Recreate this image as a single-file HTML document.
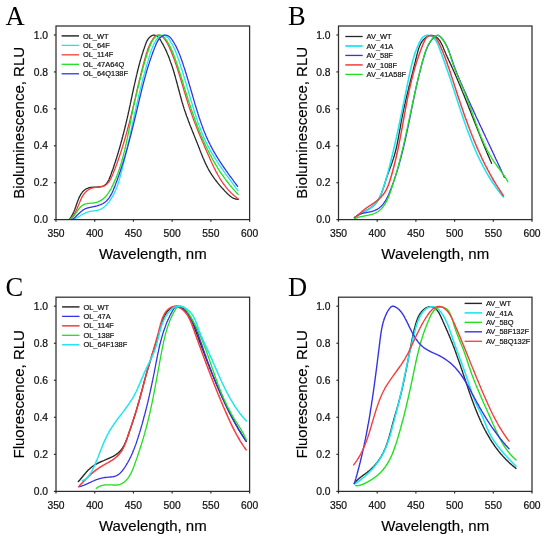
<!DOCTYPE html>
<html><head><meta charset="utf-8"><style>
html,body{margin:0;padding:0;background:#fff;}
svg{display:block;will-change:transform;}
.tk{font-family:"Liberation Sans",sans-serif;font-size:10.3px;fill:#111;stroke:#111;stroke-width:0.22px;}
.ax{font-family:"Liberation Sans",sans-serif;font-size:15px;fill:#000;stroke:#000;stroke-width:0.15px;}
.lg{font-family:"Liberation Sans",sans-serif;font-size:7.45px;fill:#111;stroke:#111;stroke-width:0.2px;}
.lt{font-family:"Liberation Serif",serif;font-size:26.5px;fill:#000;}
</style></head><body>
<svg width="550" height="538" viewBox="0 0 550 538">
<rect width="550" height="538" fill="#fff"/>
<path d="M69.3,219.3 L69.7,218.9 L70.0,218.5 L70.4,218.0 L70.7,217.6 L71.0,217.2 L71.3,216.7 L71.6,216.2 L71.9,215.7 L72.2,215.2 L72.5,214.7 L72.8,214.2 L73.0,213.6 L73.3,213.1 L73.5,212.5 L73.8,212.0 L74.0,211.4 L74.2,210.8 L74.5,210.2 L74.7,209.7 L74.9,209.1 L75.1,208.5 L75.3,207.9 L75.6,207.3 L75.8,206.7 L76.0,206.1 L76.2,205.4 L76.4,204.8 L76.6,204.2 L76.8,203.6 L77.0,203.0 L77.2,202.4 L77.5,201.8 L77.7,201.2 L77.9,200.6 L78.1,200.0 L78.4,199.5 L78.6,198.9 L78.8,198.3 L79.1,197.7 L79.4,197.2 L79.6,196.6 L79.9,196.1 L80.2,195.6 L80.4,195.1 L80.7,194.6 L81.0,194.1 L81.3,193.6 L81.7,193.1 L82.0,192.7 L82.3,192.2 L82.7,191.8 L83.0,191.4 L83.4,191.0 L83.8,190.6 L84.2,190.2 L84.6,189.9 L85.1,189.6 L85.5,189.3 L86.0,189.0 L86.5,188.7 L86.9,188.5 L87.5,188.3 L88.0,188.1 L88.5,187.9 L89.1,187.7 L89.7,187.6 L90.3,187.5 L90.9,187.4 L91.5,187.3 L92.1,187.3 L92.8,187.2 L93.4,187.2 L94.1,187.2 L94.8,187.2 L95.4,187.1 L96.1,187.1 L96.7,187.1 L97.4,187.1 L98.1,187.0 L98.7,187.0 L99.3,186.9 L99.9,186.9 L100.6,186.8 L101.1,186.7 L101.7,186.5 L102.3,186.4 L102.8,186.2 L103.3,186.0 L103.8,185.8 L104.3,185.5 L104.7,185.2 L105.2,184.9 L105.6,184.5 L106.0,184.2 L106.3,183.8 L106.7,183.4 L107.0,182.9 L107.3,182.5 L107.6,182.0 L107.9,181.5 L108.2,181.0 L108.5,180.5 L108.8,180.0 L109.0,179.5 L109.2,178.9 L109.5,178.4 L109.7,177.8 L109.9,177.2 L110.2,176.7 L110.4,176.1 L110.6,175.5 L110.8,174.9 L111.0,174.4 L111.2,173.8 L111.4,173.2 L111.6,172.6 L111.8,172.1 L112.0,171.5 L112.3,170.9 L112.5,170.3 L112.7,169.7 L112.9,169.2 L113.1,168.6 L113.3,168.0 L113.5,167.4 L113.7,166.9 L113.8,166.3 L114.0,165.7 L114.2,165.1 L114.4,164.5 L114.6,164.0 L114.8,163.4 L115.0,162.8 L115.2,162.2 L115.4,161.7 L115.6,161.1 L115.8,160.5 L115.9,159.9 L116.1,159.3 L116.3,158.8 L116.5,158.2 L116.7,157.6 L116.9,157.0 L117.0,156.5 L117.2,155.9 L117.4,155.3 L117.6,154.7 L117.7,154.1 L117.9,153.6 L118.1,153.0 L118.3,152.4 L118.4,151.8 L118.6,151.2 L118.8,150.7 L118.9,150.1 L119.1,149.5 L119.3,148.9 L119.5,148.3 L119.6,147.8 L119.8,147.2 L120.0,146.6 L120.1,146.0 L120.3,145.5 L120.4,144.9 L120.6,144.3 L120.8,143.7 L120.9,143.1 L121.1,142.6 L121.2,142.0 L121.4,141.4 L121.6,140.8 L121.7,140.2 L121.9,139.7 L122.0,139.1 L122.2,138.5 L122.3,137.9 L122.5,137.3 L122.6,136.8 L122.8,136.2 L122.9,135.6 L123.1,135.0 L123.2,134.4 L123.4,133.9 L123.5,133.3 L123.7,132.7 L123.8,132.1 L124.0,131.5 L124.1,130.9 L124.3,130.4 L124.4,129.8 L124.6,129.2 L124.7,128.6 L124.9,128.0 L125.0,127.5 L125.1,126.9 L125.3,126.3 L125.4,125.7 L125.6,125.1 L125.7,124.6 L125.8,124.0 L126.0,123.4 L126.1,122.8 L126.2,122.2 L126.4,121.6 L126.5,121.1 L126.7,120.5 L126.8,119.9 L126.9,119.3 L127.1,118.7 L127.2,118.2 L127.3,117.6 L127.5,117.0 L127.6,116.4 L127.7,115.8 L127.9,115.2 L128.0,114.7 L128.1,114.1 L128.3,113.5 L128.4,112.9 L128.5,112.3 L128.6,111.7 L128.8,111.2 L128.9,110.6 L129.0,110.0 L129.2,109.4 L129.3,108.8 L129.4,108.2 L129.5,107.7 L129.7,107.1 L129.8,106.5 L129.9,105.9 L130.0,105.3 L130.2,104.7 L130.3,104.2 L130.4,103.6 L130.5,103.0 L130.7,102.4 L130.8,101.8 L130.9,101.2 L131.0,100.6 L131.2,100.1 L131.3,99.5 L131.4,98.9 L131.5,98.3 L131.6,97.7 L131.8,97.1 L131.9,96.6 L132.0,96.0 L132.1,95.4 L132.3,94.8 L132.4,94.2 L132.5,93.6 L132.6,93.0 L132.8,92.5 L132.9,91.9 L133.0,91.3 L133.1,90.7 L133.3,90.1 L133.4,89.5 L133.5,89.0 L133.6,88.4 L133.8,87.8 L133.9,87.2 L134.0,86.6 L134.1,86.0 L134.3,85.4 L134.4,84.9 L134.5,84.3 L134.7,83.7 L134.8,83.1 L134.9,82.5 L135.0,81.9 L135.2,81.4 L135.3,80.8 L135.4,80.2 L135.6,79.6 L135.7,79.0 L135.8,78.4 L136.0,77.9 L136.1,77.3 L136.2,76.7 L136.4,76.1 L136.5,75.5 L136.7,74.9 L136.8,74.4 L136.9,73.8 L137.1,73.2 L137.2,72.6 L137.4,72.0 L137.5,71.4 L137.6,70.9 L137.8,70.3 L137.9,69.7 L138.1,69.1 L138.2,68.5 L138.4,67.9 L138.5,67.4 L138.7,66.8 L138.8,66.2 L139.0,65.6 L139.1,65.0 L139.3,64.5 L139.4,63.9 L139.6,63.3 L139.8,62.7 L139.9,62.1 L140.1,61.6 L140.2,61.0 L140.4,60.4 L140.6,59.8 L140.7,59.2 L140.9,58.7 L141.1,58.1 L141.2,57.5 L141.4,56.9 L141.6,56.3 L141.8,55.8 L141.9,55.2 L142.1,54.6 L142.3,54.0 L142.5,53.4 L142.7,52.9 L142.8,52.3 L143.0,51.7 L143.2,51.1 L143.4,50.6 L143.6,50.0 L143.8,49.4 L144.0,48.8 L144.2,48.3 L144.4,47.7 L144.6,47.1 L144.8,46.5 L145.0,46.0 L145.2,45.4 L145.4,44.8 L145.6,44.2 L145.8,43.7 L146.0,43.1 L146.2,42.6 L146.5,42.0 L146.7,41.5 L147.0,40.9 L147.3,40.4 L147.6,39.9 L147.9,39.4 L148.2,38.9 L148.6,38.5 L148.9,38.0 L149.3,37.6 L149.7,37.2 L150.2,36.8 L150.6,36.4 L151.1,36.1 L151.6,35.8 L152.2,35.5 L152.7,35.3 L153.3,35.1 L153.9,35.1 L154.5,35.1 L155.1,35.3 L155.7,35.4 L156.2,35.7 L156.8,36.0 L157.3,36.3 L157.8,36.7 L158.2,37.1 L158.6,37.5 L159.0,37.9 L159.4,38.4 L159.7,38.9 L160.1,39.4 L160.4,39.9 L160.7,40.5 L161.0,41.0 L161.3,41.5 L161.6,42.0 L161.9,42.6 L162.2,43.1 L162.5,43.6 L162.8,44.2 L163.1,44.7 L163.4,45.2 L163.7,45.8 L164.0,46.3 L164.2,46.8 L164.5,47.4 L164.8,47.9 L165.0,48.4 L165.3,49.0 L165.6,49.5 L165.8,50.1 L166.1,50.6 L166.3,51.2 L166.6,51.7 L166.8,52.3 L167.0,52.8 L167.3,53.4 L167.5,53.9 L167.7,54.5 L168.0,55.0 L168.2,55.6 L168.4,56.1 L168.7,56.7 L168.9,57.2 L169.1,57.8 L169.3,58.4 L169.5,58.9 L169.7,59.5 L169.9,60.0 L170.1,60.6 L170.3,61.2 L170.5,61.7 L170.7,62.3 L170.9,62.9 L171.1,63.4 L171.3,64.0 L171.5,64.6 L171.7,65.1 L171.9,65.7 L172.1,66.3 L172.3,66.8 L172.5,67.4 L172.6,68.0 L172.8,68.5 L173.0,69.1 L173.2,69.7 L173.4,70.3 L173.5,70.8 L173.7,71.4 L173.9,72.0 L174.0,72.6 L174.2,73.1 L174.4,73.7 L174.5,74.3 L174.7,74.9 L174.9,75.4 L175.0,76.0 L175.2,76.6 L175.4,77.2 L175.5,77.7 L175.7,78.3 L175.8,78.9 L176.0,79.5 L176.2,80.1 L176.3,80.6 L176.5,81.2 L176.6,81.8 L176.8,82.4 L176.9,83.0 L177.1,83.5 L177.3,84.1 L177.4,84.7 L177.6,85.3 L177.7,85.9 L177.9,86.4 L178.0,87.0 L178.2,87.6 L178.3,88.2 L178.5,88.8 L178.6,89.3 L178.8,89.9 L178.9,90.5 L179.1,91.1 L179.3,91.7 L179.4,92.2 L179.6,92.8 L179.7,93.4 L179.9,94.0 L180.0,94.6 L180.2,95.1 L180.3,95.7 L180.5,96.3 L180.7,96.9 L180.8,97.5 L181.0,98.0 L181.1,98.6 L181.3,99.2 L181.5,99.8 L181.6,100.4 L181.8,100.9 L182.0,101.5 L182.1,102.1 L182.3,102.7 L182.5,103.2 L182.6,103.8 L182.8,104.4 L183.0,105.0 L183.2,105.5 L183.3,106.1 L183.5,106.7 L183.7,107.2 L183.9,107.8 L184.0,108.4 L184.2,109.0 L184.4,109.5 L184.6,110.1 L184.8,110.7 L185.0,111.2 L185.2,111.8 L185.4,112.4 L185.6,112.9 L185.8,113.5 L185.9,114.1 L186.1,114.6 L186.3,115.2 L186.5,115.8 L186.8,116.3 L187.0,116.9 L187.2,117.4 L187.4,118.0 L187.6,118.6 L187.8,119.1 L188.0,119.7 L188.2,120.3 L188.4,120.8 L188.6,121.4 L188.8,121.9 L189.1,122.5 L189.3,123.1 L189.5,123.6 L189.7,124.2 L189.9,124.7 L190.1,125.3 L190.4,125.8 L190.6,126.4 L190.8,127.0 L191.0,127.5 L191.2,128.1 L191.5,128.6 L191.7,129.2 L191.9,129.7 L192.1,130.3 L192.4,130.9 L192.6,131.4 L192.8,132.0 L193.0,132.5 L193.2,133.1 L193.5,133.6 L193.7,134.2 L193.9,134.8 L194.1,135.3 L194.4,135.9 L194.6,136.4 L194.8,137.0 L195.0,137.5 L195.3,138.1 L195.5,138.7 L195.7,139.2 L195.9,139.8 L196.2,140.3 L196.4,140.9 L196.6,141.4 L196.8,142.0 L197.1,142.6 L197.3,143.1 L197.5,143.7 L197.7,144.2 L197.9,144.8 L198.2,145.4 L198.4,145.9 L198.6,146.5 L198.8,147.0 L199.0,147.6 L199.2,148.2 L199.5,148.7 L199.7,149.3 L199.9,149.9 L200.1,150.4 L200.3,151.0 L200.5,151.5 L200.8,152.1 L201.0,152.7 L201.2,153.2 L201.4,153.8 L201.6,154.3 L201.9,154.9 L202.1,155.4 L202.3,156.0 L202.5,156.6 L202.8,157.1 L203.0,157.7 L203.2,158.2 L203.5,158.8 L203.7,159.3 L203.9,159.9 L204.2,160.4 L204.4,161.0 L204.7,161.5 L204.9,162.1 L205.1,162.6 L205.4,163.2 L205.6,163.7 L205.9,164.2 L206.2,164.8 L206.4,165.3 L206.7,165.8 L207.0,166.4 L207.2,166.9 L207.5,167.4 L207.8,168.0 L208.1,168.5 L208.3,169.0 L208.6,169.5 L208.9,170.1 L209.2,170.6 L209.5,171.1 L209.8,171.6 L210.1,172.1 L210.4,172.6 L210.7,173.1 L211.1,173.6 L211.4,174.1 L211.7,174.6 L212.0,175.1 L212.4,175.6 L212.7,176.1 L213.0,176.6 L213.4,177.1 L213.7,177.6 L214.1,178.1 L214.4,178.6 L214.8,179.1 L215.1,179.6 L215.5,180.0 L215.9,180.5 L216.2,181.0 L216.6,181.5 L217.0,181.9 L217.3,182.4 L217.7,182.9 L218.1,183.4 L218.5,183.8 L218.9,184.3 L219.3,184.8 L219.6,185.2 L220.0,185.7 L220.4,186.1 L220.8,186.6 L221.2,187.0 L221.6,187.5 L222.0,187.9 L222.4,188.4 L222.8,188.8 L223.3,189.3 L223.7,189.7 L224.1,190.2 L224.5,190.6 L224.9,191.1 L225.3,191.5 L225.8,191.9 L226.2,192.4 L226.6,192.8 L227.0,193.3 L227.5,193.7 L227.9,194.1 L228.3,194.5 L228.8,194.9 L229.2,195.3 L229.7,195.7 L230.1,196.1 L230.6,196.5 L231.1,196.8 L231.6,197.2 L232.1,197.5 L232.6,197.8 L233.1,198.1 L233.6,198.3 L234.1,198.5 L234.7,198.7 L235.3,198.9 L235.8,199.1 L236.4,199.2 L237.0,199.3 L237.7,199.3 L238.3,199.3" fill="none" stroke="#262626" stroke-width="1.30" stroke-linejoin="round" stroke-linecap="round"/>
<path d="M72.9,219.5 L73.5,219.3 L74.0,219.1 L74.6,218.8 L75.1,218.6 L75.7,218.3 L76.2,218.0 L76.8,217.8 L77.3,217.5 L77.8,217.2 L78.3,216.9 L78.9,216.6 L79.4,216.3 L79.9,216.0 L80.4,215.7 L80.9,215.3 L81.4,215.0 L81.9,214.7 L82.5,214.4 L83.0,214.2 L83.5,213.9 L84.0,213.6 L84.5,213.3 L85.1,213.1 L85.6,212.8 L86.1,212.6 L86.7,212.4 L87.2,212.1 L87.8,212.0 L88.4,211.8 L88.9,211.6 L89.5,211.5 L90.1,211.4 L90.7,211.3 L91.3,211.2 L91.9,211.1 L92.6,211.0 L93.2,210.9 L93.8,210.8 L94.4,210.8 L95.0,210.7 L95.6,210.6 L96.2,210.5 L96.8,210.4 L97.4,210.3 L98.0,210.1 L98.6,210.0 L99.1,209.8 L99.7,209.6 L100.2,209.4 L100.8,209.1 L101.3,208.8 L101.8,208.6 L102.3,208.3 L102.8,207.9 L103.3,207.6 L103.8,207.2 L104.2,206.9 L104.7,206.5 L105.1,206.1 L105.6,205.7 L106.0,205.3 L106.4,204.8 L106.8,204.4 L107.2,204.0 L107.6,203.5 L108.0,203.0 L108.4,202.6 L108.8,202.1 L109.1,201.6 L109.5,201.2 L109.8,200.7 L110.2,200.2 L110.5,199.7 L110.8,199.2 L111.2,198.7 L111.5,198.2 L111.8,197.7 L112.1,197.2 L112.4,196.7 L112.7,196.2 L113.0,195.7 L113.3,195.1 L113.5,194.6 L113.8,194.1 L114.1,193.6 L114.3,193.0 L114.6,192.5 L114.8,192.0 L115.1,191.4 L115.3,190.9 L115.6,190.3 L115.8,189.8 L116.0,189.2 L116.2,188.7 L116.4,188.1 L116.7,187.5 L116.9,187.0 L117.1,186.4 L117.3,185.9 L117.5,185.3 L117.7,184.7 L117.9,184.2 L118.1,183.6 L118.2,183.0 L118.4,182.4 L118.6,181.9 L118.8,181.3 L119.0,180.7 L119.1,180.1 L119.3,179.5 L119.5,179.0 L119.7,178.4 L119.8,177.8 L120.0,177.2 L120.1,176.6 L120.3,176.0 L120.5,175.5 L120.6,174.9 L120.8,174.3 L120.9,173.7 L121.1,173.1 L121.3,172.5 L121.4,172.0 L121.6,171.4 L121.7,170.8 L121.9,170.2 L122.0,169.6 L122.2,169.0 L122.3,168.4 L122.5,167.9 L122.6,167.3 L122.8,166.7 L122.9,166.1 L123.1,165.5 L123.2,164.9 L123.3,164.3 L123.5,163.8 L123.6,163.2 L123.8,162.6 L123.9,162.0 L124.1,161.4 L124.2,160.8 L124.4,160.2 L124.5,159.7 L124.6,159.1 L124.8,158.5 L124.9,157.9 L125.1,157.3 L125.2,156.7 L125.3,156.1 L125.5,155.6 L125.6,155.0 L125.7,154.4 L125.9,153.8 L126.0,153.2 L126.2,152.6 L126.3,152.0 L126.4,151.5 L126.6,150.9 L126.7,150.3 L126.8,149.7 L127.0,149.1 L127.1,148.5 L127.2,147.9 L127.4,147.4 L127.5,146.8 L127.6,146.2 L127.7,145.6 L127.9,145.0 L128.0,144.4 L128.1,143.8 L128.3,143.3 L128.4,142.7 L128.5,142.1 L128.7,141.5 L128.8,140.9 L128.9,140.3 L129.0,139.7 L129.2,139.2 L129.3,138.6 L129.4,138.0 L129.6,137.4 L129.7,136.8 L129.8,136.2 L129.9,135.6 L130.1,135.1 L130.2,134.5 L130.3,133.9 L130.4,133.3 L130.6,132.7 L130.7,132.1 L130.8,131.6 L131.0,131.0 L131.1,130.4 L131.2,129.8 L131.3,129.2 L131.5,128.6 L131.6,128.0 L131.7,127.5 L131.8,126.9 L132.0,126.3 L132.1,125.7 L132.2,125.1 L132.3,124.5 L132.5,123.9 L132.6,123.4 L132.7,122.8 L132.8,122.2 L133.0,121.6 L133.1,121.0 L133.2,120.4 L133.3,119.9 L133.5,119.3 L133.6,118.7 L133.7,118.1 L133.9,117.5 L134.0,116.9 L134.1,116.3 L134.2,115.8 L134.4,115.2 L134.5,114.6 L134.6,114.0 L134.7,113.4 L134.9,112.8 L135.0,112.2 L135.1,111.7 L135.3,111.1 L135.4,110.5 L135.5,109.9 L135.6,109.3 L135.8,108.7 L135.9,108.2 L136.0,107.6 L136.2,107.0 L136.3,106.4 L136.4,105.8 L136.6,105.2 L136.7,104.7 L136.8,104.1 L137.0,103.5 L137.1,102.9 L137.2,102.3 L137.4,101.7 L137.5,101.2 L137.6,100.6 L137.8,100.0 L137.9,99.4 L138.0,98.8 L138.2,98.2 L138.3,97.7 L138.4,97.1 L138.6,96.5 L138.7,95.9 L138.9,95.3 L139.0,94.7 L139.1,94.2 L139.3,93.6 L139.4,93.0 L139.6,92.4 L139.7,91.8 L139.8,91.2 L140.0,90.7 L140.1,90.1 L140.3,89.5 L140.4,88.9 L140.6,88.3 L140.7,87.7 L140.8,87.2 L141.0,86.6 L141.1,86.0 L141.3,85.4 L141.4,84.8 L141.6,84.2 L141.7,83.7 L141.9,83.1 L142.0,82.5 L142.2,81.9 L142.3,81.3 L142.5,80.8 L142.6,80.2 L142.8,79.6 L142.9,79.0 L143.1,78.4 L143.3,77.8 L143.4,77.3 L143.6,76.7 L143.7,76.1 L143.9,75.5 L144.0,74.9 L144.2,74.4 L144.3,73.8 L144.5,73.2 L144.7,72.6 L144.8,72.1 L145.0,71.5 L145.1,70.9 L145.3,70.3 L145.5,69.7 L145.6,69.2 L145.8,68.6 L146.0,68.0 L146.1,67.4 L146.3,66.8 L146.4,66.3 L146.6,65.7 L146.8,65.1 L146.9,64.5 L147.1,64.0 L147.3,63.4 L147.4,62.8 L147.6,62.2 L147.8,61.7 L147.9,61.1 L148.1,60.5 L148.3,59.9 L148.5,59.4 L148.6,58.8 L148.8,58.2 L149.0,57.6 L149.1,57.1 L149.3,56.5 L149.5,55.9 L149.7,55.4 L149.8,54.8 L150.0,54.2 L150.2,53.6 L150.4,53.1 L150.6,52.5 L150.8,51.9 L150.9,51.4 L151.1,50.8 L151.3,50.2 L151.5,49.7 L151.8,49.1 L152.0,48.6 L152.2,48.0 L152.4,47.5 L152.6,46.9 L152.9,46.4 L153.1,45.8 L153.4,45.3 L153.6,44.7 L153.9,44.2 L154.2,43.6 L154.5,43.1 L154.8,42.6 L155.1,42.0 L155.4,41.5 L155.7,41.0 L156.0,40.5 L156.4,39.9 L156.7,39.4 L157.1,38.9 L157.5,38.4 L157.9,37.9 L158.3,37.5 L158.7,37.0 L159.1,36.6 L159.6,36.3 L160.0,35.9 L160.5,35.7 L161.0,35.4 L161.5,35.3 L162.1,35.2 L162.6,35.1 L163.2,35.2 L163.8,35.3 L164.4,35.4 L164.9,35.6 L165.5,35.9 L166.0,36.2 L166.5,36.5 L167.0,36.9 L167.4,37.3 L167.9,37.8 L168.3,38.2 L168.6,38.7 L169.0,39.2 L169.4,39.7 L169.7,40.2 L170.1,40.7 L170.4,41.3 L170.7,41.8 L171.0,42.3 L171.4,42.8 L171.7,43.4 L172.0,43.9 L172.3,44.4 L172.6,45.0 L172.8,45.5 L173.1,46.0 L173.4,46.6 L173.7,47.1 L173.9,47.7 L174.2,48.2 L174.4,48.8 L174.7,49.3 L174.9,49.8 L175.2,50.4 L175.4,50.9 L175.6,51.5 L175.8,52.1 L176.1,52.6 L176.3,53.2 L176.5,53.7 L176.7,54.3 L176.9,54.8 L177.1,55.4 L177.3,56.0 L177.5,56.5 L177.7,57.1 L177.9,57.6 L178.1,58.2 L178.3,58.8 L178.5,59.3 L178.7,59.9 L178.9,60.5 L179.1,61.0 L179.3,61.6 L179.5,62.2 L179.7,62.7 L179.8,63.3 L180.0,63.9 L180.2,64.4 L180.4,65.0 L180.6,65.6 L180.8,66.1 L180.9,66.7 L181.1,67.3 L181.3,67.9 L181.5,68.4 L181.7,69.0 L181.8,69.6 L182.0,70.1 L182.2,70.7 L182.4,71.3 L182.6,71.9 L182.7,72.4 L182.9,73.0 L183.1,73.6 L183.3,74.1 L183.4,74.7 L183.6,75.3 L183.8,75.9 L184.0,76.4 L184.1,77.0 L184.3,77.6 L184.5,78.2 L184.7,78.7 L184.8,79.3 L185.0,79.9 L185.2,80.5 L185.3,81.0 L185.5,81.6 L185.7,82.2 L185.9,82.8 L186.0,83.3 L186.2,83.9 L186.4,84.5 L186.5,85.1 L186.7,85.7 L186.9,86.2 L187.1,86.8 L187.2,87.4 L187.4,88.0 L187.6,88.5 L187.7,89.1 L187.9,89.7 L188.1,90.3 L188.2,90.9 L188.4,91.4 L188.6,92.0 L188.7,92.6 L188.9,93.2 L189.1,93.7 L189.3,94.3 L189.4,94.9 L189.6,95.5 L189.8,96.1 L189.9,96.6 L190.1,97.2 L190.3,97.8 L190.4,98.4 L190.6,99.0 L190.8,99.5 L191.0,100.1 L191.1,100.7 L191.3,101.3 L191.5,101.8 L191.6,102.4 L191.8,103.0 L192.0,103.6 L192.2,104.2 L192.3,104.7 L192.5,105.3 L192.7,105.9 L192.8,106.5 L193.0,107.0 L193.2,107.6 L193.4,108.2 L193.6,108.8 L193.7,109.3 L193.9,109.9 L194.1,110.5 L194.3,111.1 L194.4,111.6 L194.6,112.2 L194.8,112.8 L195.0,113.4 L195.2,113.9 L195.4,114.5 L195.5,115.1 L195.7,115.6 L195.9,116.2 L196.1,116.8 L196.3,117.4 L196.5,117.9 L196.7,118.5 L196.9,119.1 L197.1,119.6 L197.2,120.2 L197.4,120.8 L197.6,121.3 L197.8,121.9 L198.0,122.5 L198.2,123.0 L198.4,123.6 L198.6,124.2 L198.8,124.7 L199.0,125.3 L199.2,125.8 L199.5,126.4 L199.7,127.0 L199.9,127.5 L200.1,128.1 L200.3,128.6 L200.5,129.2 L200.7,129.8 L200.9,130.3 L201.2,130.9 L201.4,131.4 L201.6,132.0 L201.8,132.5 L202.1,133.1 L202.3,133.6 L202.5,134.2 L202.7,134.7 L203.0,135.3 L203.2,135.8 L203.4,136.4 L203.7,136.9 L203.9,137.5 L204.2,138.0 L204.4,138.6 L204.7,139.1 L204.9,139.6 L205.2,140.2 L205.4,140.7 L205.7,141.3 L205.9,141.8 L206.2,142.3 L206.4,142.9 L206.7,143.4 L207.0,143.9 L207.2,144.5 L207.5,145.0 L207.8,145.5 L208.0,146.1 L208.3,146.6 L208.6,147.1 L208.9,147.6 L209.1,148.2 L209.4,148.7 L209.7,149.2 L210.0,149.7 L210.3,150.3 L210.6,150.8 L210.9,151.3 L211.2,151.8 L211.5,152.3 L211.8,152.8 L212.1,153.4 L212.4,153.9 L212.7,154.4 L213.0,154.9 L213.3,155.4 L213.6,155.9 L213.9,156.4 L214.2,156.9 L214.5,157.5 L214.9,158.0 L215.2,158.5 L215.5,159.0 L215.8,159.5 L216.1,160.0 L216.5,160.5 L216.8,161.0 L217.1,161.5 L217.4,162.0 L217.8,162.5 L218.1,163.0 L218.4,163.5 L218.8,164.0 L219.1,164.5 L219.4,165.0 L219.8,165.5 L220.1,166.0 L220.4,166.5 L220.8,167.0 L221.1,167.5 L221.5,168.0 L221.8,168.4 L222.2,168.9 L222.5,169.4 L222.8,169.9 L223.2,170.4 L223.5,170.9 L223.9,171.4 L224.2,171.9 L224.6,172.4 L224.9,172.9 L225.3,173.3 L225.6,173.8 L226.0,174.3 L226.3,174.8 L226.7,175.3 L227.1,175.8 L227.4,176.3 L227.8,176.7 L228.1,177.2 L228.5,177.7 L228.8,178.2 L229.2,178.7 L229.5,179.2 L229.9,179.6 L230.3,180.1 L230.6,180.6 L231.0,181.1 L231.3,181.6 L231.7,182.1 L232.0,182.5 L232.4,183.0 L232.8,183.5 L233.1,184.0 L233.5,184.5 L233.8,184.9 L234.2,185.4 L234.6,185.9 L234.9,186.4 L235.3,186.9 L235.6,187.3 L236.0,187.8 L236.4,188.3 L236.7,188.8 L237.1,189.3 L237.4,189.7 L237.8,190.2 L238.1,190.7" fill="none" stroke="#1ee6f0" stroke-width="1.30" stroke-linejoin="round" stroke-linecap="round"/>
<path d="M69.3,219.3 L69.8,219.0 L70.2,218.6 L70.7,218.2 L71.1,217.9 L71.6,217.4 L72.0,217.0 L72.3,216.6 L72.7,216.1 L73.1,215.7 L73.4,215.2 L73.8,214.7 L74.1,214.2 L74.4,213.7 L74.8,213.2 L75.1,212.7 L75.4,212.1 L75.6,211.6 L75.9,211.1 L76.2,210.5 L76.5,209.9 L76.7,209.4 L77.0,208.8 L77.2,208.2 L77.5,207.7 L77.7,207.1 L77.9,206.5 L78.2,205.9 L78.4,205.4 L78.6,204.8 L78.9,204.2 L79.1,203.6 L79.4,203.0 L79.6,202.5 L79.8,201.9 L80.1,201.3 L80.3,200.7 L80.6,200.2 L80.8,199.6 L81.1,199.1 L81.3,198.5 L81.6,198.0 L81.9,197.4 L82.1,196.9 L82.4,196.4 L82.7,195.9 L83.0,195.4 L83.4,194.9 L83.7,194.4 L84.0,194.0 L84.4,193.5 L84.7,193.1 L85.1,192.6 L85.5,192.2 L85.9,191.8 L86.3,191.4 L86.7,191.1 L87.1,190.7 L87.6,190.4 L88.0,190.0 L88.5,189.7 L89.0,189.4 L89.5,189.2 L90.0,188.9 L90.5,188.7 L91.1,188.4 L91.6,188.2 L92.2,188.1 L92.8,187.9 L93.3,187.7 L93.9,187.6 L94.6,187.5 L95.2,187.4 L95.8,187.3 L96.5,187.3 L97.1,187.2 L97.7,187.2 L98.4,187.1 L99.0,187.0 L99.6,187.0 L100.3,186.9 L100.9,186.8 L101.5,186.7 L102.1,186.6 L102.7,186.4 L103.2,186.3 L103.7,186.1 L104.3,185.9 L104.8,185.6 L105.2,185.3 L105.7,185.0 L106.1,184.7 L106.6,184.4 L107.0,184.0 L107.4,183.6 L107.7,183.2 L108.1,182.8 L108.5,182.4 L108.8,181.9 L109.1,181.5 L109.5,181.0 L109.8,180.5 L110.1,180.0 L110.4,179.5 L110.6,179.0 L110.9,178.4 L111.2,177.9 L111.4,177.4 L111.7,176.8 L112.0,176.2 L112.2,175.7 L112.4,175.1 L112.7,174.5 L112.9,174.0 L113.1,173.4 L113.4,172.8 L113.6,172.2 L113.8,171.7 L114.1,171.1 L114.3,170.5 L114.5,169.9 L114.7,169.4 L115.0,168.8 L115.2,168.2 L115.4,167.6 L115.6,167.1 L115.8,166.5 L116.0,165.9 L116.3,165.3 L116.5,164.8 L116.7,164.2 L116.9,163.6 L117.1,163.0 L117.3,162.5 L117.5,161.9 L117.7,161.3 L117.9,160.7 L118.1,160.2 L118.3,159.6 L118.5,159.0 L118.7,158.4 L118.9,157.9 L119.1,157.3 L119.3,156.7 L119.5,156.1 L119.7,155.6 L119.9,155.0 L120.1,154.4 L120.3,153.8 L120.5,153.3 L120.7,152.7 L120.9,152.1 L121.0,151.5 L121.2,151.0 L121.4,150.4 L121.6,149.8 L121.8,149.2 L122.0,148.7 L122.1,148.1 L122.3,147.5 L122.5,146.9 L122.7,146.4 L122.8,145.8 L123.0,145.2 L123.2,144.6 L123.4,144.0 L123.5,143.5 L123.7,142.9 L123.9,142.3 L124.1,141.7 L124.2,141.2 L124.4,140.6 L124.6,140.0 L124.7,139.4 L124.9,138.9 L125.1,138.3 L125.2,137.7 L125.4,137.1 L125.6,136.6 L125.7,136.0 L125.9,135.4 L126.1,134.8 L126.2,134.3 L126.4,133.7 L126.5,133.1 L126.7,132.5 L126.8,131.9 L127.0,131.4 L127.2,130.8 L127.3,130.2 L127.5,129.6 L127.6,129.1 L127.8,128.5 L127.9,127.9 L128.1,127.3 L128.2,126.8 L128.4,126.2 L128.5,125.6 L128.7,125.0 L128.8,124.4 L129.0,123.9 L129.1,123.3 L129.3,122.7 L129.4,122.1 L129.6,121.6 L129.7,121.0 L129.9,120.4 L130.0,119.8 L130.2,119.2 L130.3,118.7 L130.5,118.1 L130.6,117.5 L130.7,116.9 L130.9,116.3 L131.0,115.8 L131.2,115.2 L131.3,114.6 L131.5,114.0 L131.6,113.5 L131.7,112.9 L131.9,112.3 L132.0,111.7 L132.2,111.1 L132.3,110.6 L132.4,110.0 L132.6,109.4 L132.7,108.8 L132.9,108.2 L133.0,107.7 L133.1,107.1 L133.3,106.5 L133.4,105.9 L133.6,105.3 L133.7,104.8 L133.8,104.2 L134.0,103.6 L134.1,103.0 L134.2,102.4 L134.4,101.8 L134.5,101.3 L134.7,100.7 L134.8,100.1 L134.9,99.5 L135.1,98.9 L135.2,98.4 L135.3,97.8 L135.5,97.2 L135.6,96.6 L135.7,96.0 L135.9,95.4 L136.0,94.9 L136.1,94.3 L136.3,93.7 L136.4,93.1 L136.6,92.5 L136.7,91.9 L136.8,91.4 L137.0,90.8 L137.1,90.2 L137.2,89.6 L137.4,89.0 L137.5,88.4 L137.6,87.9 L137.8,87.3 L137.9,86.7 L138.0,86.1 L138.2,85.5 L138.3,84.9 L138.5,84.3 L138.6,83.8 L138.7,83.2 L138.9,82.6 L139.0,82.0 L139.1,81.4 L139.3,80.8 L139.4,80.2 L139.6,79.7 L139.7,79.1 L139.8,78.5 L140.0,77.9 L140.1,77.3 L140.3,76.7 L140.4,76.2 L140.5,75.6 L140.7,75.0 L140.8,74.4 L141.0,73.8 L141.1,73.2 L141.3,72.7 L141.4,72.1 L141.6,71.5 L141.7,70.9 L141.8,70.3 L142.0,69.7 L142.1,69.2 L142.3,68.6 L142.4,68.0 L142.6,67.4 L142.7,66.8 L142.9,66.2 L143.0,65.7 L143.2,65.1 L143.3,64.5 L143.5,63.9 L143.7,63.4 L143.8,62.8 L144.0,62.2 L144.1,61.6 L144.3,61.0 L144.4,60.5 L144.6,59.9 L144.8,59.3 L144.9,58.7 L145.1,58.2 L145.2,57.6 L145.4,57.0 L145.6,56.4 L145.7,55.9 L145.9,55.3 L146.1,54.7 L146.2,54.1 L146.4,53.6 L146.6,53.0 L146.8,52.4 L147.0,51.9 L147.1,51.3 L147.3,50.7 L147.5,50.2 L147.7,49.6 L147.9,49.1 L148.1,48.5 L148.4,47.9 L148.6,47.4 L148.8,46.8 L149.0,46.3 L149.3,45.7 L149.5,45.2 L149.8,44.6 L150.0,44.1 L150.3,43.5 L150.6,43.0 L150.9,42.4 L151.1,41.9 L151.4,41.4 L151.8,40.8 L152.1,40.3 L152.4,39.8 L152.7,39.2 L153.1,38.7 L153.5,38.2 L153.8,37.7 L154.2,37.3 L154.6,36.8 L155.0,36.4 L155.5,36.1 L155.9,35.8 L156.4,35.5 L156.9,35.3 L157.4,35.2 L158.0,35.1 L158.5,35.1 L159.1,35.2 L159.7,35.4 L160.3,35.6 L160.9,35.8 L161.4,36.1 L161.9,36.4 L162.4,36.8 L162.9,37.2 L163.4,37.6 L163.8,38.1 L164.2,38.6 L164.6,39.0 L165.0,39.5 L165.3,40.1 L165.7,40.6 L166.0,41.1 L166.4,41.6 L166.7,42.1 L167.0,42.7 L167.3,43.2 L167.6,43.7 L167.9,44.2 L168.1,44.8 L168.4,45.3 L168.7,45.8 L168.9,46.4 L169.2,46.9 L169.4,47.5 L169.7,48.0 L169.9,48.6 L170.1,49.1 L170.4,49.6 L170.6,50.2 L170.8,50.7 L171.1,51.3 L171.3,51.8 L171.5,52.4 L171.7,52.9 L172.0,53.5 L172.2,54.0 L172.4,54.6 L172.6,55.2 L172.8,55.7 L173.0,56.3 L173.3,56.8 L173.5,57.4 L173.7,57.9 L173.9,58.5 L174.1,59.1 L174.3,59.6 L174.5,60.2 L174.7,60.7 L174.9,61.3 L175.1,61.9 L175.3,62.4 L175.5,63.0 L175.7,63.6 L175.9,64.1 L176.1,64.7 L176.3,65.3 L176.5,65.8 L176.7,66.4 L176.8,67.0 L177.0,67.5 L177.2,68.1 L177.4,68.7 L177.6,69.2 L177.8,69.8 L178.0,70.4 L178.1,71.0 L178.3,71.5 L178.5,72.1 L178.7,72.7 L178.9,73.2 L179.0,73.8 L179.2,74.4 L179.4,75.0 L179.6,75.5 L179.8,76.1 L179.9,76.7 L180.1,77.3 L180.3,77.8 L180.5,78.4 L180.6,79.0 L180.8,79.6 L181.0,80.1 L181.2,80.7 L181.3,81.3 L181.5,81.9 L181.7,82.5 L181.8,83.0 L182.0,83.6 L182.2,84.2 L182.4,84.8 L182.5,85.3 L182.7,85.9 L182.9,86.5 L183.0,87.1 L183.2,87.6 L183.4,88.2 L183.6,88.8 L183.7,89.4 L183.9,90.0 L184.1,90.5 L184.2,91.1 L184.4,91.7 L184.6,92.3 L184.8,92.8 L184.9,93.4 L185.1,94.0 L185.3,94.6 L185.5,95.1 L185.6,95.7 L185.8,96.3 L186.0,96.9 L186.2,97.4 L186.3,98.0 L186.5,98.6 L186.7,99.2 L186.9,99.7 L187.0,100.3 L187.2,100.9 L187.4,101.5 L187.6,102.0 L187.8,102.6 L187.9,103.2 L188.1,103.8 L188.3,104.3 L188.5,104.9 L188.7,105.5 L188.9,106.0 L189.0,106.6 L189.2,107.2 L189.4,107.7 L189.6,108.3 L189.8,108.9 L190.0,109.4 L190.2,110.0 L190.4,110.6 L190.6,111.1 L190.8,111.7 L191.0,112.3 L191.2,112.8 L191.4,113.4 L191.6,114.0 L191.8,114.5 L192.0,115.1 L192.2,115.7 L192.4,116.2 L192.6,116.8 L192.8,117.3 L193.0,117.9 L193.2,118.5 L193.4,119.0 L193.6,119.6 L193.8,120.1 L194.0,120.7 L194.2,121.3 L194.4,121.8 L194.7,122.4 L194.9,122.9 L195.1,123.5 L195.3,124.0 L195.5,124.6 L195.7,125.2 L196.0,125.7 L196.2,126.3 L196.4,126.8 L196.6,127.4 L196.8,127.9 L197.0,128.5 L197.3,129.0 L197.5,129.6 L197.7,130.1 L197.9,130.7 L198.2,131.3 L198.4,131.8 L198.6,132.4 L198.8,132.9 L199.1,133.5 L199.3,134.0 L199.5,134.6 L199.8,135.1 L200.0,135.7 L200.2,136.2 L200.4,136.8 L200.7,137.3 L200.9,137.9 L201.1,138.4 L201.4,139.0 L201.6,139.5 L201.8,140.1 L202.1,140.6 L202.3,141.2 L202.5,141.7 L202.8,142.3 L203.0,142.8 L203.2,143.4 L203.5,143.9 L203.7,144.5 L204.0,145.0 L204.2,145.6 L204.4,146.1 L204.7,146.7 L204.9,147.2 L205.1,147.8 L205.4,148.3 L205.6,148.9 L205.9,149.4 L206.1,150.0 L206.3,150.5 L206.6,151.1 L206.8,151.6 L207.1,152.2 L207.3,152.7 L207.5,153.3 L207.8,153.8 L208.0,154.4 L208.3,154.9 L208.5,155.5 L208.8,156.0 L209.0,156.6 L209.2,157.1 L209.5,157.7 L209.7,158.3 L210.0,158.8 L210.2,159.4 L210.5,159.9 L210.7,160.5 L211.0,161.0 L211.2,161.5 L211.5,162.1 L211.7,162.6 L212.0,163.2 L212.2,163.7 L212.5,164.3 L212.7,164.8 L213.0,165.4 L213.2,165.9 L213.5,166.5 L213.8,167.0 L214.0,167.5 L214.3,168.1 L214.5,168.6 L214.8,169.2 L215.1,169.7 L215.4,170.2 L215.6,170.8 L215.9,171.3 L216.2,171.8 L216.5,172.3 L216.7,172.9 L217.0,173.4 L217.3,173.9 L217.6,174.4 L217.9,175.0 L218.2,175.5 L218.5,176.0 L218.8,176.5 L219.1,177.0 L219.4,177.5 L219.7,178.1 L220.0,178.6 L220.3,179.1 L220.6,179.6 L221.0,180.1 L221.3,180.6 L221.6,181.1 L221.9,181.6 L222.3,182.1 L222.6,182.6 L222.9,183.0 L223.3,183.5 L223.6,184.0 L224.0,184.5 L224.3,185.0 L224.7,185.4 L225.0,185.9 L225.4,186.4 L225.8,186.9 L226.1,187.3 L226.5,187.8 L226.9,188.2 L227.3,188.7 L227.7,189.2 L228.1,189.6 L228.5,190.1 L228.9,190.5 L229.3,190.9 L229.7,191.4 L230.1,191.8 L230.5,192.2 L230.9,192.7 L231.4,193.1 L231.8,193.5 L232.2,193.9 L232.7,194.3 L233.1,194.7 L233.6,195.2 L234.0,195.6 L234.5,196.0 L235.0,196.3 L235.4,196.7 L235.9,197.1 L236.4,197.5 L236.9,197.9 L237.4,198.3 L237.9,198.6 L238.4,199.0" fill="none" stroke="#f43c3c" stroke-width="1.30" stroke-linejoin="round" stroke-linecap="round"/>
<path d="M69.8,219.4 L70.3,219.1 L70.8,218.8 L71.3,218.4 L71.7,218.1 L72.2,217.7 L72.6,217.3 L73.0,216.8 L73.4,216.4 L73.8,215.9 L74.2,215.5 L74.6,215.0 L75.0,214.5 L75.3,214.0 L75.7,213.5 L76.0,212.9 L76.4,212.4 L76.7,211.9 L77.1,211.4 L77.4,210.9 L77.8,210.4 L78.1,209.9 L78.5,209.4 L78.9,208.9 L79.2,208.4 L79.6,207.9 L80.0,207.5 L80.4,207.0 L80.8,206.6 L81.3,206.2 L81.7,205.8 L82.2,205.5 L82.7,205.2 L83.2,204.9 L83.7,204.6 L84.2,204.4 L84.8,204.1 L85.3,204.0 L85.9,203.8 L86.6,203.7 L87.2,203.6 L87.8,203.5 L88.5,203.4 L89.1,203.4 L89.8,203.3 L90.4,203.2 L91.1,203.2 L91.8,203.1 L92.4,203.1 L93.1,203.0 L93.7,202.9 L94.4,202.8 L95.0,202.7 L95.6,202.6 L96.2,202.4 L96.8,202.3 L97.3,202.1 L97.9,201.9 L98.4,201.7 L99.0,201.4 L99.5,201.2 L100.0,200.9 L100.5,200.6 L101.0,200.4 L101.5,200.1 L101.9,199.7 L102.4,199.4 L102.9,199.1 L103.3,198.7 L103.7,198.3 L104.1,198.0 L104.6,197.6 L105.0,197.2 L105.4,196.8 L105.8,196.3 L106.1,195.9 L106.5,195.5 L106.9,195.0 L107.2,194.6 L107.6,194.1 L107.9,193.6 L108.3,193.1 L108.6,192.7 L108.9,192.2 L109.2,191.7 L109.6,191.2 L109.9,190.6 L110.2,190.1 L110.5,189.6 L110.8,189.1 L111.1,188.5 L111.3,188.0 L111.6,187.5 L111.9,186.9 L112.2,186.4 L112.4,185.9 L112.7,185.3 L113.0,184.8 L113.2,184.2 L113.5,183.7 L113.7,183.1 L114.0,182.6 L114.2,182.0 L114.5,181.5 L114.7,180.9 L115.0,180.4 L115.2,179.8 L115.4,179.3 L115.7,178.7 L115.9,178.2 L116.1,177.6 L116.4,177.1 L116.6,176.5 L116.8,175.9 L117.0,175.4 L117.2,174.8 L117.4,174.3 L117.7,173.7 L117.9,173.1 L118.1,172.6 L118.3,172.0 L118.5,171.5 L118.7,170.9 L118.9,170.3 L119.1,169.8 L119.3,169.2 L119.5,168.6 L119.7,168.1 L119.8,167.5 L120.0,166.9 L120.2,166.4 L120.4,165.8 L120.6,165.2 L120.7,164.7 L120.9,164.1 L121.1,163.5 L121.3,162.9 L121.4,162.4 L121.6,161.8 L121.8,161.2 L121.9,160.6 L122.1,160.1 L122.3,159.5 L122.4,158.9 L122.6,158.3 L122.7,157.8 L122.9,157.2 L123.1,156.6 L123.2,156.0 L123.4,155.5 L123.5,154.9 L123.7,154.3 L123.8,153.7 L124.0,153.1 L124.1,152.6 L124.2,152.0 L124.4,151.4 L124.5,150.8 L124.7,150.2 L124.8,149.7 L124.9,149.1 L125.1,148.5 L125.2,147.9 L125.3,147.3 L125.5,146.7 L125.6,146.2 L125.7,145.6 L125.9,145.0 L126.0,144.4 L126.1,143.8 L126.3,143.2 L126.4,142.6 L126.5,142.1 L126.6,141.5 L126.8,140.9 L126.9,140.3 L127.0,139.7 L127.1,139.1 L127.2,138.5 L127.4,137.9 L127.5,137.4 L127.6,136.8 L127.7,136.2 L127.8,135.6 L128.0,135.0 L128.1,134.4 L128.2,133.8 L128.3,133.2 L128.4,132.6 L128.5,132.1 L128.7,131.5 L128.8,130.9 L128.9,130.3 L129.0,129.7 L129.1,129.1 L129.2,128.5 L129.3,127.9 L129.5,127.3 L129.6,126.7 L129.7,126.1 L129.8,125.6 L129.9,125.0 L130.0,124.4 L130.1,123.8 L130.2,123.2 L130.4,122.6 L130.5,122.0 L130.6,121.4 L130.7,120.8 L130.8,120.2 L130.9,119.6 L131.0,119.1 L131.2,118.5 L131.3,117.9 L131.4,117.3 L131.5,116.7 L131.6,116.1 L131.7,115.5 L131.8,114.9 L132.0,114.3 L132.1,113.7 L132.2,113.1 L132.3,112.6 L132.4,112.0 L132.6,111.4 L132.7,110.8 L132.8,110.2 L132.9,109.6 L133.0,109.0 L133.2,108.4 L133.3,107.8 L133.4,107.2 L133.5,106.7 L133.7,106.1 L133.8,105.5 L133.9,104.9 L134.0,104.3 L134.2,103.7 L134.3,103.1 L134.4,102.5 L134.6,101.9 L134.7,101.4 L134.8,100.8 L135.0,100.2 L135.1,99.6 L135.2,99.0 L135.4,98.4 L135.5,97.8 L135.6,97.3 L135.8,96.7 L135.9,96.1 L136.0,95.5 L136.2,94.9 L136.3,94.3 L136.4,93.7 L136.6,93.2 L136.7,92.6 L136.9,92.0 L137.0,91.4 L137.1,90.8 L137.3,90.2 L137.4,89.6 L137.6,89.1 L137.7,88.5 L137.9,87.9 L138.0,87.3 L138.1,86.7 L138.3,86.2 L138.4,85.6 L138.6,85.0 L138.7,84.4 L138.9,83.8 L139.0,83.2 L139.2,82.7 L139.3,82.1 L139.5,81.5 L139.6,80.9 L139.7,80.3 L139.9,79.8 L140.0,79.2 L140.2,78.6 L140.3,78.0 L140.5,77.4 L140.6,76.9 L140.8,76.3 L140.9,75.7 L141.1,75.1 L141.2,74.6 L141.4,74.0 L141.5,73.4 L141.7,72.8 L141.8,72.2 L142.0,71.7 L142.1,71.1 L142.3,70.5 L142.5,69.9 L142.6,69.4 L142.8,68.8 L142.9,68.2 L143.1,67.6 L143.2,67.1 L143.4,66.5 L143.5,65.9 L143.7,65.3 L143.9,64.8 L144.0,64.2 L144.2,63.6 L144.3,63.1 L144.5,62.5 L144.7,61.9 L144.8,61.3 L145.0,60.8 L145.2,60.2 L145.3,59.6 L145.5,59.0 L145.7,58.5 L145.8,57.9 L146.0,57.3 L146.2,56.7 L146.4,56.2 L146.6,55.6 L146.7,55.0 L146.9,54.5 L147.1,53.9 L147.3,53.3 L147.5,52.7 L147.7,52.2 L147.9,51.6 L148.1,51.0 L148.3,50.4 L148.5,49.9 L148.7,49.3 L148.9,48.7 L149.1,48.2 L149.3,47.6 L149.6,47.0 L149.8,46.4 L150.0,45.9 L150.2,45.3 L150.5,44.7 L150.7,44.1 L150.9,43.6 L151.2,43.0 L151.4,42.5 L151.7,41.9 L152.0,41.4 L152.3,40.9 L152.6,40.3 L152.9,39.8 L153.2,39.3 L153.6,38.9 L154.0,38.4 L154.3,38.0 L154.7,37.6 L155.2,37.1 L155.6,36.8 L156.1,36.4 L156.6,36.1 L157.1,35.8 L157.6,35.5 L158.2,35.3 L158.7,35.2 L159.3,35.1 L159.9,35.1 L160.5,35.2 L161.0,35.4 L161.6,35.6 L162.1,35.9 L162.7,36.2 L163.2,36.5 L163.6,36.9 L164.1,37.3 L164.5,37.7 L164.9,38.2 L165.3,38.7 L165.6,39.2 L166.0,39.7 L166.4,40.2 L166.7,40.7 L167.0,41.2 L167.4,41.7 L167.7,42.2 L168.0,42.8 L168.3,43.3 L168.6,43.8 L168.9,44.4 L169.2,44.9 L169.5,45.4 L169.8,46.0 L170.1,46.5 L170.3,47.0 L170.6,47.6 L170.9,48.1 L171.1,48.6 L171.4,49.2 L171.6,49.7 L171.9,50.3 L172.1,50.8 L172.3,51.4 L172.6,51.9 L172.8,52.5 L173.0,53.0 L173.2,53.6 L173.5,54.2 L173.7,54.7 L173.9,55.3 L174.1,55.8 L174.3,56.4 L174.5,56.9 L174.7,57.5 L174.9,58.1 L175.1,58.6 L175.3,59.2 L175.5,59.8 L175.7,60.3 L175.9,60.9 L176.1,61.5 L176.3,62.0 L176.5,62.6 L176.7,63.2 L176.9,63.7 L177.1,64.3 L177.3,64.9 L177.4,65.4 L177.6,66.0 L177.8,66.6 L178.0,67.1 L178.2,67.7 L178.4,68.3 L178.6,68.8 L178.7,69.4 L178.9,70.0 L179.1,70.5 L179.3,71.1 L179.5,71.7 L179.6,72.3 L179.8,72.8 L180.0,73.4 L180.2,74.0 L180.4,74.5 L180.5,75.1 L180.7,75.7 L180.9,76.3 L181.1,76.8 L181.3,77.4 L181.4,78.0 L181.6,78.6 L181.8,79.1 L182.0,79.7 L182.2,80.3 L182.3,80.8 L182.5,81.4 L182.7,82.0 L182.9,82.6 L183.0,83.1 L183.2,83.7 L183.4,84.3 L183.6,84.9 L183.7,85.4 L183.9,86.0 L184.1,86.6 L184.3,87.2 L184.5,87.7 L184.6,88.3 L184.8,88.9 L185.0,89.5 L185.2,90.0 L185.3,90.6 L185.5,91.2 L185.7,91.8 L185.9,92.3 L186.1,92.9 L186.2,93.5 L186.4,94.0 L186.6,94.6 L186.8,95.2 L187.0,95.8 L187.1,96.3 L187.3,96.9 L187.5,97.5 L187.7,98.1 L187.9,98.6 L188.0,99.2 L188.2,99.8 L188.4,100.4 L188.6,100.9 L188.8,101.5 L189.0,102.1 L189.2,102.6 L189.3,103.2 L189.5,103.8 L189.7,104.4 L189.9,104.9 L190.1,105.5 L190.3,106.1 L190.5,106.6 L190.7,107.2 L190.8,107.8 L191.0,108.4 L191.2,108.9 L191.4,109.5 L191.6,110.1 L191.8,110.6 L192.0,111.2 L192.2,111.8 L192.4,112.3 L192.6,112.9 L192.8,113.5 L193.0,114.1 L193.2,114.6 L193.4,115.2 L193.6,115.8 L193.8,116.3 L194.0,116.9 L194.2,117.5 L194.4,118.0 L194.6,118.6 L194.8,119.1 L195.0,119.7 L195.2,120.3 L195.4,120.8 L195.6,121.4 L195.8,122.0 L196.0,122.5 L196.2,123.1 L196.5,123.7 L196.7,124.2 L196.9,124.8 L197.1,125.3 L197.3,125.9 L197.5,126.5 L197.7,127.0 L198.0,127.6 L198.2,128.1 L198.4,128.7 L198.6,129.3 L198.8,129.8 L199.1,130.4 L199.3,130.9 L199.5,131.5 L199.7,132.0 L200.0,132.6 L200.2,133.1 L200.4,133.7 L200.6,134.2 L200.9,134.8 L201.1,135.4 L201.3,135.9 L201.6,136.5 L201.8,137.0 L202.0,137.6 L202.3,138.1 L202.5,138.7 L202.7,139.2 L203.0,139.7 L203.2,140.3 L203.5,140.8 L203.7,141.4 L204.0,141.9 L204.2,142.5 L204.4,143.0 L204.7,143.6 L204.9,144.1 L205.2,144.6 L205.4,145.2 L205.7,145.7 L206.0,146.3 L206.2,146.8 L206.5,147.3 L206.7,147.9 L207.0,148.4 L207.2,149.0 L207.5,149.5 L207.8,150.0 L208.0,150.6 L208.3,151.1 L208.6,151.6 L208.8,152.2 L209.1,152.7 L209.4,153.2 L209.7,153.8 L209.9,154.3 L210.2,154.8 L210.5,155.3 L210.8,155.9 L211.0,156.4 L211.3,156.9 L211.6,157.4 L211.9,158.0 L212.2,158.5 L212.5,159.0 L212.7,159.5 L213.0,160.1 L213.3,160.6 L213.6,161.1 L213.9,161.6 L214.2,162.1 L214.5,162.6 L214.8,163.2 L215.1,163.7 L215.4,164.2 L215.7,164.7 L216.0,165.2 L216.3,165.7 L216.6,166.2 L217.0,166.7 L217.3,167.2 L217.6,167.8 L217.9,168.3 L218.2,168.8 L218.5,169.3 L218.9,169.8 L219.2,170.3 L219.5,170.8 L219.8,171.3 L220.2,171.8 L220.5,172.3 L220.8,172.8 L221.2,173.3 L221.5,173.8 L221.8,174.3 L222.2,174.7 L222.5,175.2 L222.9,175.7 L223.2,176.2 L223.5,176.7 L223.9,177.2 L224.2,177.7 L224.6,178.2 L225.0,178.7 L225.3,179.1 L225.7,179.6 L226.0,180.1 L226.4,180.6 L226.8,181.1 L227.1,181.5 L227.5,182.0 L227.9,182.5 L228.2,183.0 L228.6,183.4 L229.0,183.9 L229.4,184.4 L229.7,184.9 L230.1,185.3 L230.5,185.8 L230.9,186.3 L231.3,186.7 L231.7,187.2 L232.1,187.7 L232.4,188.1 L232.8,188.6 L233.2,189.0 L233.6,189.5 L234.0,189.9 L234.4,190.4 L234.9,190.9 L235.3,191.3 L235.7,191.8 L236.1,192.2 L236.5,192.7 L236.9,193.1 L237.3,193.6 L237.8,194.0 L238.2,194.4" fill="none" stroke="#1ee01e" stroke-width="1.30" stroke-linejoin="round" stroke-linecap="round"/>
<path d="M72.0,219.5 L72.5,219.2 L73.0,218.9 L73.4,218.5 L73.9,218.2 L74.4,217.8 L74.8,217.4 L75.3,217.0 L75.7,216.6 L76.2,216.2 L76.6,215.8 L77.1,215.3 L77.5,214.9 L77.9,214.5 L78.4,214.0 L78.8,213.6 L79.3,213.2 L79.8,212.8 L80.2,212.3 L80.7,211.9 L81.1,211.5 L81.6,211.2 L82.1,210.8 L82.5,210.4 L83.0,210.1 L83.5,209.8 L84.0,209.5 L84.5,209.2 L85.0,208.9 L85.5,208.7 L86.1,208.5 L86.6,208.3 L87.1,208.1 L87.7,207.9 L88.2,207.8 L88.8,207.6 L89.4,207.5 L89.9,207.4 L90.5,207.3 L91.1,207.2 L91.7,207.0 L92.3,206.9 L92.9,206.8 L93.5,206.7 L94.1,206.6 L94.7,206.4 L95.3,206.3 L95.9,206.1 L96.5,206.0 L97.2,205.8 L97.8,205.6 L98.4,205.4 L99.0,205.2 L99.6,205.0 L100.2,204.8 L100.7,204.6 L101.3,204.3 L101.9,204.0 L102.4,203.8 L103.0,203.5 L103.5,203.2 L104.0,202.9 L104.5,202.5 L104.9,202.2 L105.4,201.8 L105.9,201.5 L106.3,201.1 L106.7,200.7 L107.1,200.3 L107.5,199.8 L107.9,199.4 L108.3,199.0 L108.6,198.5 L109.0,198.1 L109.3,197.6 L109.6,197.1 L109.9,196.6 L110.2,196.2 L110.5,195.7 L110.8,195.2 L111.1,194.6 L111.4,194.1 L111.7,193.6 L111.9,193.1 L112.2,192.5 L112.4,192.0 L112.7,191.4 L112.9,190.9 L113.2,190.3 L113.4,189.8 L113.6,189.2 L113.9,188.7 L114.1,188.1 L114.3,187.6 L114.5,187.0 L114.8,186.4 L115.0,185.9 L115.2,185.3 L115.4,184.7 L115.6,184.2 L115.8,183.6 L116.0,183.0 L116.3,182.5 L116.5,181.9 L116.7,181.3 L116.9,180.8 L117.1,180.2 L117.3,179.6 L117.5,179.1 L117.7,178.5 L117.9,177.9 L118.1,177.4 L118.3,176.8 L118.5,176.2 L118.7,175.7 L118.9,175.1 L119.1,174.5 L119.3,174.0 L119.5,173.4 L119.7,172.8 L119.9,172.2 L120.1,171.7 L120.3,171.1 L120.5,170.5 L120.7,170.0 L120.8,169.4 L121.0,168.8 L121.2,168.2 L121.4,167.7 L121.6,167.1 L121.8,166.5 L122.0,165.9 L122.1,165.4 L122.3,164.8 L122.5,164.2 L122.7,163.7 L122.9,163.1 L123.1,162.5 L123.2,161.9 L123.4,161.4 L123.6,160.8 L123.8,160.2 L123.9,159.6 L124.1,159.1 L124.3,158.5 L124.5,157.9 L124.6,157.3 L124.8,156.8 L125.0,156.2 L125.1,155.6 L125.3,155.0 L125.5,154.4 L125.6,153.9 L125.8,153.3 L126.0,152.7 L126.1,152.1 L126.3,151.6 L126.5,151.0 L126.6,150.4 L126.8,149.8 L127.0,149.2 L127.1,148.7 L127.3,148.1 L127.5,147.5 L127.6,146.9 L127.8,146.4 L127.9,145.8 L128.1,145.2 L128.2,144.6 L128.4,144.0 L128.6,143.5 L128.7,142.9 L128.9,142.3 L129.0,141.7 L129.2,141.1 L129.3,140.6 L129.5,140.0 L129.6,139.4 L129.8,138.8 L129.9,138.2 L130.1,137.7 L130.3,137.1 L130.4,136.5 L130.6,135.9 L130.7,135.3 L130.9,134.7 L131.0,134.2 L131.2,133.6 L131.3,133.0 L131.4,132.4 L131.6,131.8 L131.7,131.3 L131.9,130.7 L132.0,130.1 L132.2,129.5 L132.3,128.9 L132.5,128.3 L132.6,127.8 L132.8,127.2 L132.9,126.6 L133.0,126.0 L133.2,125.4 L133.3,124.9 L133.5,124.3 L133.6,123.7 L133.8,123.1 L133.9,122.5 L134.0,121.9 L134.2,121.4 L134.3,120.8 L134.5,120.2 L134.6,119.6 L134.8,119.0 L134.9,118.4 L135.0,117.9 L135.2,117.3 L135.3,116.7 L135.5,116.1 L135.6,115.5 L135.7,115.0 L135.9,114.4 L136.0,113.8 L136.1,113.2 L136.3,112.6 L136.4,112.0 L136.6,111.5 L136.7,110.9 L136.8,110.3 L137.0,109.7 L137.1,109.1 L137.3,108.5 L137.4,108.0 L137.5,107.4 L137.7,106.8 L137.8,106.2 L137.9,105.6 L138.1,105.0 L138.2,104.5 L138.4,103.9 L138.5,103.3 L138.6,102.7 L138.8,102.1 L138.9,101.6 L139.0,101.0 L139.2,100.4 L139.3,99.8 L139.5,99.2 L139.6,98.6 L139.7,98.1 L139.9,97.5 L140.0,96.9 L140.2,96.3 L140.3,95.7 L140.4,95.2 L140.6,94.6 L140.7,94.0 L140.9,93.4 L141.0,92.8 L141.1,92.2 L141.3,91.7 L141.4,91.1 L141.6,90.5 L141.7,89.9 L141.9,89.3 L142.0,88.8 L142.1,88.2 L142.3,87.6 L142.4,87.0 L142.6,86.4 L142.7,85.9 L142.9,85.3 L143.0,84.7 L143.2,84.1 L143.3,83.5 L143.5,83.0 L143.6,82.4 L143.8,81.8 L143.9,81.2 L144.1,80.7 L144.2,80.1 L144.4,79.5 L144.5,78.9 L144.7,78.3 L144.9,77.8 L145.0,77.2 L145.2,76.6 L145.3,76.0 L145.5,75.5 L145.7,74.9 L145.8,74.3 L146.0,73.7 L146.1,73.1 L146.3,72.6 L146.5,72.0 L146.6,71.4 L146.8,70.8 L147.0,70.3 L147.1,69.7 L147.3,69.1 L147.5,68.5 L147.7,68.0 L147.8,67.4 L148.0,66.8 L148.2,66.2 L148.4,65.7 L148.5,65.1 L148.7,64.5 L148.9,64.0 L149.1,63.4 L149.3,62.8 L149.5,62.2 L149.6,61.7 L149.8,61.1 L150.0,60.5 L150.2,60.0 L150.4,59.4 L150.6,58.8 L150.8,58.2 L151.0,57.7 L151.2,57.1 L151.4,56.5 L151.6,56.0 L151.8,55.4 L152.0,54.8 L152.2,54.3 L152.4,53.7 L152.6,53.1 L152.8,52.6 L153.0,52.0 L153.2,51.4 L153.5,50.9 L153.7,50.3 L153.9,49.7 L154.1,49.2 L154.3,48.6 L154.5,48.0 L154.8,47.5 L155.0,46.9 L155.2,46.3 L155.5,45.8 L155.7,45.2 L155.9,44.6 L156.2,44.1 L156.4,43.5 L156.7,43.0 L156.9,42.4 L157.2,41.9 L157.5,41.4 L157.8,40.9 L158.1,40.4 L158.4,39.9 L158.7,39.4 L159.1,38.9 L159.5,38.5 L159.8,38.1 L160.3,37.6 L160.7,37.2 L161.1,36.9 L161.6,36.5 L162.1,36.2 L162.7,35.9 L163.2,35.6 L163.8,35.4 L164.4,35.2 L164.9,35.2 L165.5,35.1 L166.1,35.2 L166.7,35.3 L167.3,35.5 L167.8,35.7 L168.3,36.0 L168.8,36.3 L169.3,36.6 L169.8,37.0 L170.2,37.4 L170.6,37.9 L171.0,38.3 L171.4,38.8 L171.8,39.3 L172.1,39.8 L172.5,40.3 L172.8,40.9 L173.1,41.4 L173.5,41.9 L173.8,42.4 L174.1,43.0 L174.4,43.5 L174.7,44.0 L175.0,44.5 L175.3,45.1 L175.6,45.6 L175.9,46.1 L176.1,46.7 L176.4,47.2 L176.7,47.8 L176.9,48.3 L177.2,48.8 L177.4,49.4 L177.7,49.9 L177.9,50.5 L178.2,51.0 L178.4,51.6 L178.7,52.1 L178.9,52.7 L179.1,53.2 L179.3,53.8 L179.6,54.3 L179.8,54.9 L180.0,55.5 L180.2,56.0 L180.4,56.6 L180.6,57.1 L180.8,57.7 L181.0,58.2 L181.2,58.8 L181.4,59.4 L181.6,59.9 L181.8,60.5 L182.0,61.1 L182.2,61.6 L182.4,62.2 L182.6,62.8 L182.8,63.3 L183.0,63.9 L183.2,64.5 L183.3,65.0 L183.5,65.6 L183.7,66.2 L183.9,66.7 L184.1,67.3 L184.3,67.9 L184.5,68.4 L184.6,69.0 L184.8,69.6 L185.0,70.1 L185.2,70.7 L185.4,71.3 L185.5,71.9 L185.7,72.4 L185.9,73.0 L186.1,73.6 L186.3,74.1 L186.4,74.7 L186.6,75.3 L186.8,75.9 L187.0,76.4 L187.1,77.0 L187.3,77.6 L187.5,78.2 L187.6,78.7 L187.8,79.3 L188.0,79.9 L188.2,80.5 L188.3,81.0 L188.5,81.6 L188.7,82.2 L188.8,82.8 L189.0,83.4 L189.2,83.9 L189.3,84.5 L189.5,85.1 L189.7,85.7 L189.9,86.2 L190.0,86.8 L190.2,87.4 L190.4,88.0 L190.5,88.5 L190.7,89.1 L190.9,89.7 L191.0,90.3 L191.2,90.9 L191.4,91.4 L191.5,92.0 L191.7,92.6 L191.9,93.2 L192.0,93.8 L192.2,94.3 L192.4,94.9 L192.5,95.5 L192.7,96.1 L192.9,96.6 L193.0,97.2 L193.2,97.8 L193.4,98.4 L193.5,99.0 L193.7,99.5 L193.9,100.1 L194.0,100.7 L194.2,101.3 L194.4,101.9 L194.5,102.4 L194.7,103.0 L194.9,103.6 L195.0,104.2 L195.2,104.7 L195.4,105.3 L195.6,105.9 L195.7,106.5 L195.9,107.0 L196.1,107.6 L196.3,108.2 L196.4,108.8 L196.6,109.3 L196.8,109.9 L197.0,110.5 L197.1,111.1 L197.3,111.6 L197.5,112.2 L197.7,112.8 L197.9,113.4 L198.0,113.9 L198.2,114.5 L198.4,115.1 L198.6,115.7 L198.8,116.2 L199.0,116.8 L199.1,117.4 L199.3,117.9 L199.5,118.5 L199.7,119.1 L199.9,119.6 L200.1,120.2 L200.3,120.8 L200.5,121.3 L200.7,121.9 L200.9,122.5 L201.1,123.0 L201.3,123.6 L201.5,124.2 L201.7,124.7 L201.9,125.3 L202.1,125.8 L202.3,126.4 L202.5,127.0 L202.7,127.5 L202.9,128.1 L203.1,128.6 L203.3,129.2 L203.5,129.8 L203.8,130.3 L204.0,130.9 L204.2,131.4 L204.4,132.0 L204.6,132.5 L204.9,133.1 L205.1,133.6 L205.3,134.2 L205.6,134.7 L205.8,135.3 L206.0,135.8 L206.3,136.4 L206.5,136.9 L206.7,137.5 L207.0,138.0 L207.2,138.6 L207.5,139.1 L207.7,139.6 L208.0,140.2 L208.2,140.7 L208.5,141.3 L208.7,141.8 L209.0,142.3 L209.2,142.9 L209.5,143.4 L209.8,143.9 L210.0,144.5 L210.3,145.0 L210.6,145.5 L210.8,146.1 L211.1,146.6 L211.4,147.1 L211.7,147.6 L211.9,148.2 L212.2,148.7 L212.5,149.2 L212.8,149.7 L213.1,150.3 L213.4,150.8 L213.7,151.3 L214.0,151.8 L214.3,152.3 L214.6,152.8 L214.9,153.4 L215.2,153.9 L215.5,154.4 L215.8,154.9 L216.1,155.4 L216.4,155.9 L216.7,156.4 L217.0,156.9 L217.3,157.5 L217.7,158.0 L218.0,158.5 L218.3,159.0 L218.6,159.5 L218.9,160.0 L219.3,160.5 L219.6,161.0 L219.9,161.5 L220.2,162.0 L220.6,162.5 L220.9,163.0 L221.2,163.5 L221.6,164.0 L221.9,164.5 L222.2,165.0 L222.6,165.5 L222.9,166.0 L223.2,166.5 L223.6,167.0 L223.9,167.5 L224.3,168.0 L224.6,168.5 L224.9,169.0 L225.3,169.4 L225.6,169.9 L226.0,170.4 L226.3,170.9 L226.7,171.4 L227.0,171.9 L227.4,172.4 L227.7,172.9 L228.1,173.4 L228.4,173.8 L228.8,174.3 L229.1,174.8 L229.5,175.3 L229.8,175.8 L230.2,176.3 L230.5,176.8 L230.9,177.2 L231.2,177.7 L231.6,178.2 L231.9,178.7 L232.3,179.2 L232.7,179.7 L233.0,180.1 L233.4,180.6 L233.7,181.1 L234.1,181.6 L234.4,182.1 L234.8,182.6 L235.2,183.0 L235.5,183.5 L235.9,184.0 L236.2,184.5 L236.6,185.0 L236.9,185.4 L237.3,185.9 L237.6,186.4" fill="none" stroke="#3434e6" stroke-width="1.30" stroke-linejoin="round" stroke-linecap="round"/>
<rect x="56.00" y="26.00" width="193.60" height="193.60" fill="none" stroke="#2e2e2e" stroke-width="1.25"/>
<line x1="53.90" y1="219.60" x2="56.00" y2="219.60" stroke="#2e2e2e" stroke-width="1.2"/>
<text x="48.00" y="223.30" class="tk" text-anchor="end">0.0</text>
<line x1="53.90" y1="182.68" x2="56.00" y2="182.68" stroke="#2e2e2e" stroke-width="1.2"/>
<text x="48.00" y="186.38" class="tk" text-anchor="end">0.2</text>
<line x1="53.90" y1="145.76" x2="56.00" y2="145.76" stroke="#2e2e2e" stroke-width="1.2"/>
<text x="48.00" y="149.46" class="tk" text-anchor="end">0.4</text>
<line x1="53.90" y1="108.84" x2="56.00" y2="108.84" stroke="#2e2e2e" stroke-width="1.2"/>
<text x="48.00" y="112.54" class="tk" text-anchor="end">0.6</text>
<line x1="53.90" y1="71.92" x2="56.00" y2="71.92" stroke="#2e2e2e" stroke-width="1.2"/>
<text x="48.00" y="75.62" class="tk" text-anchor="end">0.8</text>
<line x1="53.90" y1="35.00" x2="56.00" y2="35.00" stroke="#2e2e2e" stroke-width="1.2"/>
<text x="48.00" y="38.70" class="tk" text-anchor="end">1.0</text>
<line x1="56.00" y1="219.60" x2="56.00" y2="221.70" stroke="#2e2e2e" stroke-width="1.2"/>
<text x="56.00" y="236.90" class="tk" text-anchor="middle">350</text>
<line x1="94.72" y1="219.60" x2="94.72" y2="221.70" stroke="#2e2e2e" stroke-width="1.2"/>
<text x="94.72" y="236.90" class="tk" text-anchor="middle">400</text>
<line x1="133.44" y1="219.60" x2="133.44" y2="221.70" stroke="#2e2e2e" stroke-width="1.2"/>
<text x="133.44" y="236.90" class="tk" text-anchor="middle">450</text>
<line x1="172.16" y1="219.60" x2="172.16" y2="221.70" stroke="#2e2e2e" stroke-width="1.2"/>
<text x="172.16" y="236.90" class="tk" text-anchor="middle">500</text>
<line x1="210.88" y1="219.60" x2="210.88" y2="221.70" stroke="#2e2e2e" stroke-width="1.2"/>
<text x="210.88" y="236.90" class="tk" text-anchor="middle">550</text>
<line x1="249.60" y1="219.60" x2="249.60" y2="221.70" stroke="#2e2e2e" stroke-width="1.2"/>
<text x="249.60" y="236.90" class="tk" text-anchor="middle">600</text>
<text x="152.80" y="259.30" class="ax" text-anchor="middle">Wavelength, nm</text>
<text x="0" y="0" class="ax" text-anchor="middle" transform="translate(24.40,122.80) rotate(-90)">Bioluminescence, RLU</text>
<text x="5.50" y="24.80" class="lt">A</text>
<line x1="61.60" y1="35.90" x2="79.00" y2="35.90" stroke="#262626" stroke-width="1.45"/>
<text x="82.90" y="38.55" class="lg">OL_WT</text>
<line x1="61.60" y1="45.37" x2="79.00" y2="45.37" stroke="#1ee6f0" stroke-width="1.30"/>
<text x="82.90" y="48.02" class="lg">OL_64F</text>
<line x1="61.60" y1="54.84" x2="79.00" y2="54.84" stroke="#f43c3c" stroke-width="1.30"/>
<text x="82.90" y="57.49" class="lg">OL_114F</text>
<line x1="61.60" y1="64.31" x2="79.00" y2="64.31" stroke="#1ee01e" stroke-width="1.30"/>
<text x="82.90" y="66.96" class="lg">OL_47A64Q</text>
<line x1="61.60" y1="73.78" x2="79.00" y2="73.78" stroke="#3434e6" stroke-width="1.30"/>
<text x="82.90" y="76.43" class="lg">OL_64Q138F</text>
<path d="M354.5,217.6 L355.0,217.3 L355.4,217.0 L355.9,216.7 L356.3,216.4 L356.8,216.0 L357.3,215.7 L357.8,215.4 L358.3,215.1 L358.8,214.8 L359.3,214.5 L359.8,214.2 L360.4,213.9 L360.9,213.6 L361.4,213.3 L362.0,213.0 L362.5,212.7 L363.0,212.4 L363.6,212.1 L364.1,211.8 L364.7,211.5 L365.2,211.2 L365.8,210.9 L366.3,210.6 L366.8,210.2 L367.4,209.9 L367.9,209.6 L368.4,209.3 L369.0,208.9 L369.5,208.6 L370.0,208.3 L370.5,207.9 L371.0,207.6 L371.5,207.2 L372.0,206.8 L372.4,206.4 L372.9,206.1 L373.4,205.7 L373.8,205.3 L374.2,204.9 L374.6,204.5 L375.1,204.0 L375.5,203.6 L375.8,203.2 L376.2,202.7 L376.6,202.3 L376.9,201.8 L377.3,201.3 L377.6,200.9 L377.9,200.4 L378.2,199.9 L378.5,199.4 L378.8,198.9 L379.1,198.4 L379.4,197.9 L379.7,197.3 L379.9,196.8 L380.2,196.3 L380.4,195.8 L380.7,195.2 L380.9,194.7 L381.2,194.1 L381.4,193.6 L381.6,193.0 L381.8,192.5 L382.0,191.9 L382.2,191.3 L382.4,190.8 L382.6,190.2 L382.8,189.6 L383.0,189.0 L383.2,188.5 L383.4,187.9 L383.6,187.3 L383.8,186.7 L384.0,186.2 L384.1,185.6 L384.3,185.0 L384.5,184.4 L384.7,183.8 L384.9,183.2 L385.0,182.7 L385.2,182.1 L385.4,181.5 L385.6,180.9 L385.8,180.3 L386.0,179.8 L386.1,179.2 L386.3,178.6 L386.5,178.1 L386.7,177.5 L386.9,176.9 L387.1,176.3 L387.3,175.8 L387.5,175.2 L387.7,174.7 L387.9,174.1 L388.1,173.5 L388.3,173.0 L388.5,172.4 L388.7,171.8 L388.9,171.3 L389.1,170.7 L389.3,170.2 L389.5,169.6 L389.7,169.1 L389.9,168.5 L390.2,167.9 L390.4,167.4 L390.6,166.8 L390.8,166.3 L391.0,165.7 L391.2,165.1 L391.4,164.6 L391.6,164.0 L391.8,163.5 L392.0,162.9 L392.1,162.4 L392.3,161.8 L392.5,161.2 L392.7,160.7 L392.9,160.1 L393.1,159.5 L393.3,159.0 L393.5,158.4 L393.6,157.9 L393.8,157.3 L394.0,156.7 L394.2,156.1 L394.3,155.6 L394.5,155.0 L394.7,154.4 L394.8,153.9 L395.0,153.3 L395.1,152.7 L395.3,152.1 L395.4,151.5 L395.6,151.0 L395.7,150.4 L395.9,149.8 L396.0,149.2 L396.2,148.6 L396.3,148.0 L396.4,147.4 L396.6,146.9 L396.7,146.3 L396.8,145.7 L397.0,145.1 L397.1,144.5 L397.2,143.9 L397.3,143.3 L397.4,142.7 L397.6,142.1 L397.7,141.5 L397.8,140.9 L397.9,140.3 L398.0,139.7 L398.1,139.1 L398.3,138.5 L398.4,137.9 L398.5,137.3 L398.6,136.7 L398.7,136.1 L398.8,135.5 L398.9,134.9 L399.0,134.3 L399.1,133.7 L399.2,133.1 L399.3,132.5 L399.4,131.9 L399.5,131.3 L399.6,130.7 L399.7,130.1 L399.9,129.5 L400.0,128.9 L400.1,128.4 L400.2,127.8 L400.3,127.2 L400.4,126.6 L400.5,126.0 L400.6,125.4 L400.7,124.8 L400.8,124.2 L400.9,123.6 L401.0,123.0 L401.1,122.4 L401.2,121.8 L401.3,121.2 L401.4,120.6 L401.6,120.0 L401.7,119.4 L401.8,118.9 L401.9,118.3 L402.0,117.7 L402.1,117.1 L402.2,116.5 L402.4,115.9 L402.5,115.3 L402.6,114.8 L402.7,114.2 L402.8,113.6 L403.0,113.0 L403.1,112.4 L403.2,111.8 L403.3,111.3 L403.4,110.7 L403.6,110.1 L403.7,109.5 L403.8,108.9 L403.9,108.4 L404.1,107.8 L404.2,107.2 L404.3,106.6 L404.5,106.1 L404.6,105.5 L404.7,104.9 L404.8,104.3 L405.0,103.8 L405.1,103.2 L405.2,102.6 L405.4,102.0 L405.5,101.4 L405.6,100.9 L405.8,100.3 L405.9,99.7 L406.0,99.1 L406.2,98.6 L406.3,98.0 L406.4,97.4 L406.6,96.8 L406.7,96.3 L406.8,95.7 L407.0,95.1 L407.1,94.5 L407.3,94.0 L407.4,93.4 L407.5,92.8 L407.7,92.3 L407.8,91.7 L408.0,91.1 L408.1,90.5 L408.2,89.9 L408.4,89.4 L408.5,88.8 L408.7,88.2 L408.8,87.6 L408.9,87.1 L409.1,86.5 L409.2,85.9 L409.4,85.3 L409.5,84.8 L409.7,84.2 L409.8,83.6 L409.9,83.0 L410.1,82.4 L410.2,81.9 L410.4,81.3 L410.5,80.7 L410.7,80.1 L410.8,79.5 L411.0,79.0 L411.1,78.4 L411.3,77.8 L411.4,77.2 L411.5,76.6 L411.7,76.1 L411.8,75.5 L412.0,74.9 L412.1,74.3 L412.3,73.7 L412.4,73.1 L412.6,72.5 L412.7,71.9 L412.9,71.4 L413.0,70.8 L413.2,70.2 L413.3,69.6 L413.5,69.0 L413.6,68.4 L413.8,67.8 L413.9,67.2 L414.1,66.6 L414.2,66.0 L414.3,65.4 L414.5,64.8 L414.6,64.2 L414.8,63.6 L414.9,63.0 L415.1,62.4 L415.2,61.8 L415.4,61.2 L415.5,60.6 L415.7,60.0 L415.8,59.4 L416.0,58.8 L416.1,58.2 L416.3,57.6 L416.4,57.0 L416.6,56.4 L416.7,55.7 L416.9,55.1 L417.0,54.5 L417.2,53.9 L417.3,53.3 L417.5,52.7 L417.6,52.1 L417.8,51.5 L418.0,50.9 L418.1,50.3 L418.3,49.7 L418.5,49.1 L418.7,48.5 L418.9,48.0 L419.1,47.4 L419.3,46.8 L419.5,46.3 L419.8,45.7 L420.0,45.2 L420.2,44.7 L420.5,44.1 L420.8,43.6 L421.0,43.1 L421.3,42.6 L421.6,42.1 L421.9,41.7 L422.3,41.2 L422.6,40.8 L422.9,40.3 L423.3,39.9 L423.7,39.5 L424.1,39.1 L424.5,38.7 L424.9,38.3 L425.3,38.0 L425.8,37.6 L426.3,37.3 L426.7,37.0 L427.3,36.7 L427.8,36.4 L428.3,36.2 L428.8,36.0 L429.4,35.8 L430.0,35.7 L430.5,35.6 L431.1,35.5 L431.7,35.5 L432.2,35.5 L432.8,35.6 L433.4,35.7 L433.9,35.9 L434.5,36.1 L435.0,36.3 L435.5,36.6 L436.0,36.9 L436.5,37.2 L436.9,37.5 L437.4,37.9 L437.8,38.3 L438.2,38.7 L438.6,39.1 L438.9,39.6 L439.3,40.0 L439.6,40.5 L440.0,41.0 L440.3,41.5 L440.6,42.0 L440.9,42.6 L441.2,43.1 L441.5,43.7 L441.8,44.3 L442.1,44.8 L442.3,45.4 L442.6,46.0 L442.9,46.6 L443.1,47.2 L443.4,47.8 L443.6,48.4 L443.8,49.0 L444.1,49.6 L444.3,50.2 L444.6,50.8 L444.8,51.4 L445.1,52.0 L445.3,52.5 L445.6,53.1 L445.8,53.7 L446.0,54.2 L446.3,54.8 L446.5,55.4 L446.8,55.9 L447.0,56.5 L447.3,57.0 L447.5,57.6 L447.8,58.1 L448.0,58.7 L448.3,59.2 L448.5,59.7 L448.8,60.3 L449.0,60.8 L449.3,61.3 L449.5,61.9 L449.8,62.4 L450.0,62.9 L450.3,63.5 L450.5,64.0 L450.8,64.5 L451.0,65.1 L451.3,65.6 L451.5,66.1 L451.7,66.7 L452.0,67.2 L452.2,67.7 L452.5,68.3 L452.7,68.8 L453.0,69.4 L453.2,69.9 L453.4,70.4 L453.7,71.0 L453.9,71.5 L454.2,72.0 L454.4,72.6 L454.6,73.1 L454.9,73.7 L455.1,74.2 L455.4,74.7 L455.6,75.3 L455.8,75.8 L456.1,76.4 L456.3,76.9 L456.5,77.5 L456.8,78.0 L457.0,78.6 L457.2,79.1 L457.5,79.6 L457.7,80.2 L457.9,80.7 L458.2,81.3 L458.4,81.8 L458.6,82.4 L458.9,82.9 L459.1,83.5 L459.3,84.0 L459.6,84.6 L459.8,85.1 L460.0,85.7 L460.3,86.2 L460.5,86.8 L460.7,87.3 L460.9,87.9 L461.2,88.4 L461.4,89.0 L461.6,89.5 L461.9,90.1 L462.1,90.6 L462.3,91.2 L462.5,91.7 L462.8,92.3 L463.0,92.9 L463.2,93.4 L463.4,94.0 L463.7,94.5 L463.9,95.1 L464.1,95.6 L464.3,96.2 L464.6,96.7 L464.8,97.3 L465.0,97.8 L465.2,98.4 L465.5,99.0 L465.7,99.5 L465.9,100.1 L466.1,100.6 L466.4,101.2 L466.6,101.7 L466.8,102.3 L467.0,102.9 L467.3,103.4 L467.5,104.0 L467.7,104.5 L467.9,105.1 L468.1,105.6 L468.4,106.2 L468.6,106.8 L468.8,107.3 L469.0,107.9 L469.2,108.4 L469.5,109.0 L469.7,109.6 L469.9,110.1 L470.1,110.7 L470.4,111.2 L470.6,111.8 L470.8,112.4 L471.0,112.9 L471.2,113.5 L471.5,114.0 L471.7,114.6 L471.9,115.2 L472.1,115.7 L472.3,116.3 L472.6,116.8 L472.8,117.4 L473.0,118.0 L473.2,118.5 L473.4,119.1 L473.7,119.6 L473.9,120.2 L474.1,120.8 L474.3,121.3 L474.5,121.9 L474.8,122.4 L475.0,123.0 L475.2,123.6 L475.4,124.1 L475.7,124.7 L475.9,125.2 L476.1,125.8 L476.3,126.4 L476.5,126.9 L476.8,127.5 L477.0,128.0 L477.2,128.6 L477.4,129.1 L477.6,129.7 L477.9,130.3 L478.1,130.8 L478.3,131.4 L478.5,131.9 L478.8,132.5 L479.0,133.1 L479.2,133.6 L479.4,134.2 L479.6,134.7 L479.9,135.3 L480.1,135.8 L480.3,136.4 L480.5,137.0 L480.8,137.5 L481.0,138.1 L481.2,138.6 L481.4,139.2 L481.7,139.7 L481.9,140.3 L482.1,140.9 L482.3,141.4 L482.6,142.0 L482.8,142.5 L483.0,143.1 L483.2,143.6 L483.5,144.2 L483.7,144.7 L483.9,145.3 L484.2,145.8 L484.4,146.4 L484.6,146.9 L484.8,147.5 L485.1,148.1 L485.3,148.6 L485.5,149.2 L485.8,149.7 L486.0,150.3 L486.2,150.8 L486.5,151.4 L486.7,151.9 L486.9,152.5 L487.1,153.0 L487.4,153.6 L487.6,154.1 L487.8,154.7 L488.1,155.2 L488.3,155.7 L488.5,156.3 L488.8,156.8 L489.0,157.4 L489.3,157.9 L489.5,158.5 L489.7,159.0 L490.0,159.6 L490.2,160.1 L490.4,160.7 L490.7,161.2 L490.9,161.7 L491.2,162.3 L491.4,162.8 L491.6,163.4" fill="none" stroke="#262626" stroke-width="1.30" stroke-linejoin="round" stroke-linecap="round"/>
<path d="M354.5,217.6 L354.9,217.3 L355.4,217.0 L355.9,216.6 L356.3,216.3 L356.8,216.0 L357.3,215.7 L357.8,215.4 L358.4,215.1 L358.9,214.8 L359.4,214.5 L359.9,214.2 L360.4,213.9 L361.0,213.6 L361.5,213.3 L362.1,213.0 L362.6,212.7 L363.1,212.4 L363.7,212.1 L364.2,211.8 L364.8,211.5 L365.3,211.2 L365.8,210.9 L366.4,210.6 L366.9,210.3 L367.4,210.0 L367.9,209.7 L368.5,209.4 L369.0,209.0 L369.5,208.7 L370.0,208.4 L370.5,208.0 L371.0,207.7 L371.5,207.3 L371.9,206.9 L372.4,206.6 L372.8,206.2 L373.3,205.8 L373.7,205.4 L374.2,205.0 L374.6,204.6 L375.0,204.1 L375.4,203.7 L375.7,203.3 L376.1,202.8 L376.5,202.3 L376.8,201.9 L377.1,201.4 L377.5,200.9 L377.8,200.4 L378.1,199.9 L378.4,199.4 L378.7,198.9 L379.0,198.4 L379.3,197.9 L379.5,197.3 L379.8,196.8 L380.1,196.3 L380.3,195.7 L380.6,195.2 L380.8,194.6 L381.0,194.1 L381.3,193.5 L381.5,192.9 L381.7,192.4 L381.9,191.8 L382.1,191.3 L382.3,190.7 L382.6,190.1 L382.8,189.5 L383.0,189.0 L383.2,188.4 L383.4,187.8 L383.5,187.3 L383.7,186.7 L383.9,186.1 L384.1,185.5 L384.3,185.0 L384.5,184.4 L384.7,183.8 L384.8,183.3 L385.0,182.7 L385.2,182.1 L385.4,181.5 L385.5,181.0 L385.7,180.4 L385.9,179.8 L386.1,179.2 L386.2,178.7 L386.4,178.1 L386.5,177.5 L386.7,176.9 L386.9,176.4 L387.0,175.8 L387.2,175.2 L387.4,174.6 L387.5,174.0 L387.7,173.5 L387.8,172.9 L388.0,172.3 L388.1,171.7 L388.3,171.2 L388.4,170.6 L388.6,170.0 L388.7,169.4 L388.9,168.8 L389.0,168.3 L389.2,167.7 L389.3,167.1 L389.5,166.5 L389.6,165.9 L389.8,165.4 L389.9,164.8 L390.1,164.2 L390.2,163.6 L390.4,163.0 L390.5,162.5 L390.7,161.9 L390.8,161.3 L391.0,160.7 L391.1,160.1 L391.2,159.5 L391.4,159.0 L391.5,158.4 L391.7,157.8 L391.8,157.2 L392.0,156.6 L392.1,156.1 L392.2,155.5 L392.4,154.9 L392.5,154.3 L392.7,153.7 L392.8,153.1 L392.9,152.6 L393.1,152.0 L393.2,151.4 L393.3,150.8 L393.5,150.2 L393.6,149.6 L393.8,149.1 L393.9,148.5 L394.0,147.9 L394.2,147.3 L394.3,146.7 L394.4,146.1 L394.6,145.6 L394.7,145.0 L394.8,144.4 L395.0,143.8 L395.1,143.2 L395.2,142.6 L395.4,142.1 L395.5,141.5 L395.6,140.9 L395.7,140.3 L395.9,139.7 L396.0,139.1 L396.1,138.5 L396.3,138.0 L396.4,137.4 L396.5,136.8 L396.7,136.2 L396.8,135.6 L396.9,135.0 L397.0,134.5 L397.2,133.9 L397.3,133.3 L397.4,132.7 L397.6,132.1 L397.7,131.5 L397.8,130.9 L397.9,130.4 L398.1,129.8 L398.2,129.2 L398.3,128.6 L398.4,128.0 L398.6,127.4 L398.7,126.8 L398.8,126.3 L398.9,125.7 L399.1,125.1 L399.2,124.5 L399.3,123.9 L399.4,123.3 L399.6,122.7 L399.7,122.1 L399.8,121.6 L399.9,121.0 L400.0,120.4 L400.2,119.8 L400.3,119.2 L400.4,118.6 L400.5,118.0 L400.7,117.5 L400.8,116.9 L400.9,116.3 L401.0,115.7 L401.1,115.1 L401.3,114.5 L401.4,113.9 L401.5,113.4 L401.6,112.8 L401.7,112.2 L401.9,111.6 L402.0,111.0 L402.1,110.4 L402.2,109.8 L402.4,109.2 L402.5,108.7 L402.6,108.1 L402.7,107.5 L402.8,106.9 L403.0,106.3 L403.1,105.7 L403.2,105.1 L403.3,104.5 L403.4,104.0 L403.6,103.4 L403.7,102.8 L403.8,102.2 L403.9,101.6 L404.0,101.0 L404.2,100.4 L404.3,99.9 L404.4,99.3 L404.5,98.7 L404.6,98.1 L404.8,97.5 L404.9,96.9 L405.0,96.3 L405.1,95.7 L405.2,95.2 L405.4,94.6 L405.5,94.0 L405.6,93.4 L405.7,92.8 L405.8,92.2 L406.0,91.6 L406.1,91.1 L406.2,90.5 L406.3,89.9 L406.4,89.3 L406.6,88.7 L406.7,88.1 L406.8,87.5 L406.9,86.9 L407.0,86.4 L407.2,85.8 L407.3,85.2 L407.4,84.6 L407.5,84.0 L407.6,83.4 L407.8,82.8 L407.9,82.3 L408.0,81.7 L408.1,81.1 L408.2,80.5 L408.4,79.9 L408.5,79.3 L408.6,78.7 L408.7,78.2 L408.9,77.6 L409.0,77.0 L409.1,76.4 L409.2,75.8 L409.3,75.2 L409.5,74.6 L409.6,74.1 L409.7,73.5 L409.8,72.9 L410.0,72.3 L410.1,71.7 L410.2,71.1 L410.3,70.6 L410.5,70.0 L410.6,69.4 L410.7,68.8 L410.9,68.2 L411.0,67.6 L411.1,67.0 L411.3,66.5 L411.4,65.9 L411.6,65.3 L411.7,64.7 L411.8,64.1 L412.0,63.5 L412.1,63.0 L412.3,62.4 L412.4,61.8 L412.6,61.2 L412.7,60.6 L412.9,60.1 L413.1,59.5 L413.2,58.9 L413.4,58.3 L413.6,57.7 L413.7,57.2 L413.9,56.6 L414.1,56.0 L414.3,55.4 L414.5,54.8 L414.7,54.3 L414.8,53.7 L415.0,53.1 L415.2,52.5 L415.4,52.0 L415.7,51.4 L415.9,50.8 L416.1,50.2 L416.3,49.7 L416.5,49.1 L416.8,48.5 L417.0,47.9 L417.2,47.4 L417.5,46.8 L417.7,46.2 L418.0,45.6 L418.2,45.1 L418.5,44.5 L418.7,43.9 L419.0,43.4 L419.3,42.8 L419.6,42.2 L419.9,41.6 L420.2,41.1 L420.5,40.5 L420.8,40.0 L421.1,39.5 L421.4,39.0 L421.8,38.5 L422.2,38.1 L422.5,37.6 L422.9,37.2 L423.3,36.9 L423.8,36.6 L424.2,36.3 L424.7,36.0 L425.1,35.8 L425.6,35.7 L426.1,35.5 L426.7,35.4 L427.2,35.4 L427.7,35.4 L428.2,35.4 L428.8,35.5 L429.3,35.6 L429.8,35.7 L430.3,35.8 L430.8,36.0 L431.3,36.2 L431.8,36.5 L432.2,36.8 L432.7,37.1 L433.1,37.4 L433.5,37.8 L433.9,38.1 L434.3,38.5 L434.7,39.0 L435.0,39.4 L435.3,39.9 L435.7,40.3 L436.0,40.8 L436.3,41.4 L436.6,41.9 L436.9,42.4 L437.2,43.0 L437.4,43.5 L437.7,44.1 L438.0,44.7 L438.2,45.3 L438.5,45.9 L438.7,46.4 L438.9,47.0 L439.2,47.6 L439.4,48.3 L439.6,48.9 L439.9,49.5 L440.1,50.1 L440.3,50.7 L440.5,51.3 L440.8,51.8 L441.0,52.4 L441.2,53.0 L441.4,53.6 L441.7,54.2 L441.9,54.8 L442.1,55.4 L442.3,56.0 L442.5,56.6 L442.7,57.2 L442.9,57.7 L443.2,58.3 L443.4,58.9 L443.6,59.5 L443.8,60.1 L444.0,60.6 L444.2,61.2 L444.4,61.8 L444.6,62.4 L444.8,62.9 L445.0,63.5 L445.2,64.1 L445.4,64.7 L445.6,65.2 L445.8,65.8 L446.0,66.4 L446.2,66.9 L446.4,67.5 L446.6,68.1 L446.8,68.6 L447.0,69.2 L447.2,69.8 L447.4,70.3 L447.6,70.9 L447.8,71.5 L448.0,72.0 L448.2,72.6 L448.4,73.1 L448.6,73.7 L448.8,74.3 L448.9,74.8 L449.1,75.4 L449.3,75.9 L449.5,76.5 L449.7,77.1 L449.9,77.6 L450.1,78.2 L450.3,78.7 L450.5,79.3 L450.6,79.9 L450.8,80.4 L451.0,81.0 L451.2,81.5 L451.4,82.1 L451.6,82.7 L451.7,83.2 L451.9,83.8 L452.1,84.3 L452.3,84.9 L452.5,85.4 L452.7,86.0 L452.8,86.6 L453.0,87.1 L453.2,87.7 L453.4,88.2 L453.6,88.8 L453.8,89.3 L453.9,89.9 L454.1,90.5 L454.3,91.0 L454.5,91.6 L454.7,92.2 L454.9,92.7 L455.0,93.3 L455.2,93.8 L455.4,94.4 L455.6,95.0 L455.8,95.5 L456.0,96.1 L456.1,96.7 L456.3,97.2 L456.5,97.8 L456.7,98.3 L456.9,98.9 L457.0,99.5 L457.2,100.0 L457.4,100.6 L457.6,101.2 L457.8,101.7 L458.0,102.3 L458.2,102.9 L458.3,103.4 L458.5,104.0 L458.7,104.6 L458.9,105.1 L459.1,105.7 L459.3,106.3 L459.4,106.8 L459.6,107.4 L459.8,108.0 L460.0,108.5 L460.2,109.1 L460.4,109.7 L460.6,110.3 L460.8,110.8 L460.9,111.4 L461.1,112.0 L461.3,112.5 L461.5,113.1 L461.7,113.7 L461.9,114.2 L462.1,114.8 L462.3,115.4 L462.5,115.9 L462.7,116.5 L462.9,117.1 L463.1,117.7 L463.2,118.2 L463.4,118.8 L463.6,119.4 L463.8,119.9 L464.0,120.5 L464.2,121.1 L464.4,121.6 L464.6,122.2 L464.8,122.8 L465.0,123.3 L465.2,123.9 L465.4,124.5 L465.6,125.0 L465.8,125.6 L466.0,126.2 L466.2,126.8 L466.4,127.3 L466.6,127.9 L466.8,128.5 L467.0,129.0 L467.2,129.6 L467.5,130.2 L467.7,130.7 L467.9,131.3 L468.1,131.9 L468.3,132.4 L468.5,133.0 L468.7,133.5 L468.9,134.1 L469.1,134.7 L469.4,135.2 L469.6,135.8 L469.8,136.4 L470.0,136.9 L470.2,137.5 L470.4,138.1 L470.7,138.6 L470.9,139.2 L471.1,139.7 L471.3,140.3 L471.5,140.9 L471.8,141.4 L472.0,142.0 L472.2,142.5 L472.4,143.1 L472.7,143.7 L472.9,144.2 L473.1,144.8 L473.4,145.3 L473.6,145.9 L473.8,146.4 L474.1,147.0 L474.3,147.5 L474.5,148.1 L474.8,148.7 L475.0,149.2 L475.2,149.8 L475.5,150.3 L475.7,150.9 L476.0,151.4 L476.2,152.0 L476.4,152.5 L476.7,153.1 L476.9,153.6 L477.2,154.2 L477.4,154.7 L477.7,155.3 L477.9,155.8 L478.2,156.3 L478.4,156.9 L478.7,157.4 L479.0,158.0 L479.2,158.5 L479.5,159.1 L479.7,159.6 L480.0,160.1 L480.3,160.7 L480.5,161.2 L480.8,161.8 L481.1,162.3 L481.3,162.8 L481.6,163.4 L481.9,163.9 L482.1,164.4 L482.4,165.0 L482.7,165.5 L483.0,166.0 L483.2,166.6 L483.5,167.1 L483.8,167.6 L484.1,168.1 L484.4,168.7 L484.7,169.2 L484.9,169.7 L485.2,170.2 L485.5,170.8 L485.8,171.3 L486.1,171.8 L486.4,172.3 L486.7,172.9 L487.0,173.4 L487.3,173.9 L487.6,174.4 L487.9,174.9 L488.2,175.4 L488.5,175.9 L488.8,176.5 L489.1,177.0 L489.4,177.5 L489.8,178.0 L490.1,178.5 L490.4,179.0 L490.7,179.5 L491.0,180.0 L491.3,180.5 L491.7,181.0 L492.0,181.5 L492.3,182.0 L492.6,182.5 L493.0,183.0 L493.3,183.5 L493.6,184.0 L494.0,184.5 L494.3,185.0 L494.7,185.5 L495.0,186.0 L495.3,186.5 L495.7,187.0 L496.0,187.4 L496.4,187.9 L496.7,188.4 L497.1,188.9 L497.4,189.4 L497.8,189.9 L498.1,190.3 L498.5,190.8 L498.9,191.3 L499.2,191.8 L499.6,192.2 L500.0,192.7 L500.3,193.2 L500.7,193.7 L501.1,194.1 L501.5,194.6 L501.8,195.1 L502.2,195.5 L502.6,196.0 L503.0,196.5 L503.4,196.9" fill="none" stroke="#1ee6f0" stroke-width="1.60" stroke-linejoin="round" stroke-linecap="round"/>
<path d="M354.6,217.8 L355.0,217.3 L355.4,216.9 L355.8,216.5 L356.3,216.2 L356.7,215.8 L357.2,215.5 L357.7,215.2 L358.2,214.9 L358.8,214.7 L359.3,214.4 L359.9,214.2 L360.4,214.0 L361.0,213.8 L361.6,213.7 L362.2,213.5 L362.8,213.3 L363.4,213.2 L364.0,213.0 L364.6,212.9 L365.3,212.8 L365.9,212.7 L366.5,212.5 L367.2,212.4 L367.8,212.3 L368.4,212.2 L369.0,212.1 L369.7,211.9 L370.3,211.8 L370.9,211.7 L371.5,211.5 L372.1,211.4 L372.7,211.2 L373.3,211.0 L373.8,210.8 L374.4,210.6 L374.9,210.4 L375.5,210.2 L376.0,209.9 L376.5,209.7 L377.0,209.4 L377.5,209.1 L378.0,208.8 L378.5,208.5 L378.9,208.2 L379.4,207.8 L379.8,207.5 L380.2,207.1 L380.6,206.8 L381.0,206.4 L381.4,206.0 L381.8,205.6 L382.2,205.2 L382.6,204.7 L382.9,204.3 L383.3,203.8 L383.6,203.4 L384.0,202.9 L384.3,202.5 L384.6,202.0 L385.0,201.5 L385.3,201.0 L385.6,200.5 L385.9,200.0 L386.2,199.5 L386.5,199.0 L386.7,198.4 L387.0,197.9 L387.3,197.4 L387.6,196.8 L387.8,196.3 L388.1,195.7 L388.3,195.2 L388.6,194.6 L388.8,194.1 L389.1,193.5 L389.3,192.9 L389.5,192.4 L389.8,191.8 L390.0,191.2 L390.2,190.7 L390.5,190.1 L390.7,189.5 L390.9,189.0 L391.1,188.4 L391.3,187.8 L391.6,187.2 L391.8,186.7 L392.0,186.1 L392.2,185.5 L392.4,184.9 L392.6,184.4 L392.8,183.8 L393.0,183.2 L393.2,182.7 L393.4,182.1 L393.7,181.5 L393.9,180.9 L394.1,180.4 L394.3,179.8 L394.4,179.2 L394.6,178.6 L394.8,178.1 L395.0,177.5 L395.2,176.9 L395.4,176.3 L395.6,175.8 L395.8,175.2 L396.0,174.6 L396.2,174.0 L396.3,173.5 L396.5,172.9 L396.7,172.3 L396.9,171.7 L397.1,171.2 L397.2,170.6 L397.4,170.0 L397.6,169.4 L397.8,168.8 L397.9,168.3 L398.1,167.7 L398.3,167.1 L398.5,166.5 L398.6,166.0 L398.8,165.4 L399.0,164.8 L399.1,164.2 L399.3,163.7 L399.4,163.1 L399.6,162.5 L399.8,161.9 L399.9,161.3 L400.1,160.8 L400.2,160.2 L400.4,159.6 L400.6,159.0 L400.7,158.4 L400.9,157.9 L401.0,157.3 L401.2,156.7 L401.3,156.1 L401.5,155.5 L401.6,155.0 L401.8,154.4 L401.9,153.8 L402.1,153.2 L402.2,152.6 L402.4,152.1 L402.5,151.5 L402.6,150.9 L402.8,150.3 L402.9,149.7 L403.1,149.2 L403.2,148.6 L403.3,148.0 L403.5,147.4 L403.6,146.8 L403.8,146.3 L403.9,145.7 L404.0,145.1 L404.2,144.5 L404.3,143.9 L404.4,143.4 L404.6,142.8 L404.7,142.2 L404.8,141.6 L405.0,141.0 L405.1,140.4 L405.2,139.9 L405.4,139.3 L405.5,138.7 L405.6,138.1 L405.8,137.5 L405.9,136.9 L406.0,136.4 L406.1,135.8 L406.3,135.2 L406.4,134.6 L406.5,134.0 L406.6,133.5 L406.8,132.9 L406.9,132.3 L407.0,131.7 L407.1,131.1 L407.3,130.5 L407.4,130.0 L407.5,129.4 L407.6,128.8 L407.7,128.2 L407.9,127.6 L408.0,127.0 L408.1,126.4 L408.2,125.9 L408.3,125.3 L408.5,124.7 L408.6,124.1 L408.7,123.5 L408.8,122.9 L408.9,122.4 L409.1,121.8 L409.2,121.2 L409.3,120.6 L409.4,120.0 L409.5,119.4 L409.7,118.9 L409.8,118.3 L409.9,117.7 L410.0,117.1 L410.1,116.5 L410.3,115.9 L410.4,115.3 L410.5,114.8 L410.6,114.2 L410.7,113.6 L410.8,113.0 L411.0,112.4 L411.1,111.8 L411.2,111.2 L411.3,110.7 L411.4,110.1 L411.5,109.5 L411.7,108.9 L411.8,108.3 L411.9,107.7 L412.0,107.1 L412.1,106.6 L412.3,106.0 L412.4,105.4 L412.5,104.8 L412.6,104.2 L412.7,103.6 L412.9,103.0 L413.0,102.5 L413.1,101.9 L413.2,101.3 L413.3,100.7 L413.5,100.1 L413.6,99.5 L413.7,98.9 L413.8,98.4 L413.9,97.8 L414.1,97.2 L414.2,96.6 L414.3,96.0 L414.4,95.4 L414.6,94.8 L414.7,94.2 L414.8,93.7 L414.9,93.1 L415.1,92.5 L415.2,91.9 L415.3,91.3 L415.4,90.7 L415.6,90.1 L415.7,89.6 L415.8,89.0 L415.9,88.4 L416.1,87.8 L416.2,87.2 L416.3,86.6 L416.5,86.0 L416.6,85.4 L416.7,84.9 L416.9,84.3 L417.0,83.7 L417.1,83.1 L417.3,82.5 L417.4,81.9 L417.5,81.3 L417.7,80.7 L417.8,80.2 L417.9,79.6 L418.1,79.0 L418.2,78.4 L418.4,77.8 L418.5,77.2 L418.6,76.6 L418.8,76.1 L418.9,75.5 L419.1,74.9 L419.2,74.3 L419.4,73.7 L419.5,73.1 L419.7,72.5 L419.8,71.9 L420.0,71.4 L420.1,70.8 L420.3,70.2 L420.4,69.6 L420.6,69.0 L420.7,68.4 L420.9,67.8 L421.0,67.3 L421.2,66.7 L421.3,66.1 L421.5,65.5 L421.6,64.9 L421.8,64.3 L422.0,63.7 L422.1,63.1 L422.3,62.6 L422.5,62.0 L422.6,61.4 L422.8,60.8 L423.0,60.2 L423.1,59.6 L423.3,59.0 L423.5,58.4 L423.6,57.9 L423.8,57.3 L424.0,56.7 L424.2,56.1 L424.3,55.5 L424.5,54.9 L424.7,54.4 L424.9,53.8 L425.1,53.2 L425.3,52.6 L425.5,52.0 L425.7,51.5 L425.9,50.9 L426.1,50.3 L426.3,49.8 L426.5,49.2 L426.7,48.6 L427.0,48.1 L427.2,47.5 L427.5,47.0 L427.7,46.4 L428.0,45.9 L428.2,45.4 L428.5,44.8 L428.8,44.3 L429.1,43.8 L429.4,43.3 L429.7,42.8 L430.0,42.3 L430.3,41.8 L430.7,41.3 L431.0,40.8 L431.4,40.4 L431.7,39.9 L432.1,39.5 L432.5,39.0 L432.9,38.6 L433.3,38.1 L433.7,37.7 L434.2,37.3 L434.6,36.9 L435.1,36.5 L435.6,36.2 L436.0,35.9 L436.5,35.7 L437.0,35.5 L437.5,35.4 L438.0,35.4 L438.4,35.5 L438.9,35.7 L439.3,36.0 L439.8,36.3 L440.2,36.6 L440.7,37.1 L441.1,37.5 L441.5,38.0 L441.9,38.5 L442.3,39.0 L442.7,39.4 L443.0,39.9 L443.4,40.4 L443.8,41.0 L444.1,41.5 L444.4,42.0 L444.8,42.5 L445.1,43.0 L445.4,43.6 L445.7,44.1 L446.0,44.6 L446.3,45.2 L446.5,45.7 L446.8,46.2 L447.1,46.8 L447.3,47.3 L447.6,47.9 L447.8,48.4 L448.1,49.0 L448.3,49.6 L448.5,50.1 L448.8,50.7 L449.0,51.3 L449.2,51.8 L449.4,52.4 L449.6,53.0 L449.8,53.5 L450.0,54.1 L450.2,54.7 L450.4,55.2 L450.6,55.8 L450.8,56.4 L451.0,57.0 L451.2,57.5 L451.4,58.1 L451.6,58.7 L451.8,59.3 L452.0,59.8 L452.2,60.4 L452.4,61.0 L452.5,61.6 L452.7,62.1 L452.9,62.7 L453.1,63.3 L453.3,63.9 L453.5,64.4 L453.7,65.0 L453.9,65.6 L454.1,66.1 L454.3,66.7 L454.6,67.2 L454.8,67.8 L455.0,68.4 L455.2,68.9 L455.4,69.5 L455.6,70.0 L455.8,70.6 L456.1,71.2 L456.3,71.7 L456.5,72.3 L456.7,72.8 L457.0,73.4 L457.2,73.9 L457.4,74.5 L457.6,75.0 L457.9,75.6 L458.1,76.1 L458.3,76.7 L458.6,77.2 L458.8,77.8 L459.0,78.3 L459.3,78.9 L459.5,79.4 L459.7,80.0 L460.0,80.5 L460.2,81.1 L460.5,81.6 L460.7,82.2 L460.9,82.7 L461.2,83.3 L461.4,83.8 L461.6,84.4 L461.9,84.9 L462.1,85.5 L462.4,86.0 L462.6,86.6 L462.8,87.1 L463.1,87.7 L463.3,88.2 L463.5,88.8 L463.8,89.3 L464.0,89.9 L464.3,90.4 L464.5,91.0 L464.8,91.5 L465.0,92.1 L465.2,92.6 L465.5,93.1 L465.7,93.7 L466.0,94.2 L466.2,94.8 L466.5,95.3 L466.7,95.9 L466.9,96.4 L467.2,97.0 L467.4,97.5 L467.7,98.1 L467.9,98.6 L468.2,99.2 L468.4,99.7 L468.7,100.3 L468.9,100.8 L469.2,101.3 L469.4,101.9 L469.6,102.4 L469.9,103.0 L470.1,103.5 L470.4,104.1 L470.6,104.6 L470.9,105.2 L471.1,105.7 L471.4,106.3 L471.6,106.8 L471.9,107.4 L472.1,107.9 L472.4,108.4 L472.6,109.0 L472.9,109.5 L473.1,110.1 L473.4,110.6 L473.6,111.2 L473.9,111.7 L474.1,112.3 L474.4,112.8 L474.6,113.4 L474.9,113.9 L475.1,114.4 L475.4,115.0 L475.6,115.5 L475.9,116.1 L476.1,116.6 L476.4,117.2 L476.6,117.7 L476.9,118.3 L477.1,118.8 L477.4,119.3 L477.7,119.9 L477.9,120.4 L478.2,121.0 L478.4,121.5 L478.7,122.1 L478.9,122.6 L479.2,123.2 L479.4,123.7 L479.7,124.2 L479.9,124.8 L480.2,125.3 L480.4,125.9 L480.7,126.4 L480.9,127.0 L481.2,127.5 L481.5,128.0 L481.7,128.6 L482.0,129.1 L482.2,129.7 L482.5,130.2 L482.7,130.8 L483.0,131.3 L483.2,131.9 L483.5,132.4 L483.7,132.9 L484.0,133.5 L484.3,134.0 L484.5,134.6 L484.8,135.1 L485.0,135.7 L485.3,136.2 L485.5,136.7 L485.8,137.3 L486.0,137.8 L486.3,138.4 L486.5,138.9 L486.8,139.5 L487.1,140.0 L487.3,140.5 L487.6,141.1 L487.8,141.6 L488.1,142.2 L488.3,142.7 L488.6,143.3 L488.8,143.8 L489.1,144.4 L489.3,144.9 L489.6,145.4 L489.9,146.0 L490.1,146.5 L490.4,147.1 L490.6,147.6 L490.9,148.2 L491.1,148.7 L491.4,149.2 L491.6,149.8 L491.9,150.3 L492.1,150.9 L492.4,151.4 L492.7,152.0 L492.9,152.5 L493.2,153.0 L493.4,153.6 L493.7,154.1 L493.9,154.7 L494.2,155.2 L494.4,155.8 L494.7,156.3 L494.9,156.8 L495.2,157.4 L495.4,157.9 L495.7,158.5 L495.9,159.0 L496.2,159.6 L496.4,160.1 L496.7,160.7 L497.0,161.2 L497.2,161.7 L497.5,162.3 L497.7,162.8 L498.0,163.4 L498.2,163.9 L498.5,164.5 L498.7,165.0 L499.0,165.5 L499.2,166.1 L499.5,166.6 L499.7,167.2 L500.0,167.7 L500.2,168.3 L500.5,168.8 L500.7,169.4 L501.0,169.9 L501.2,170.4 L501.5,171.0 L501.7,171.5 L502.0,172.1 L502.2,172.6 L502.5,173.2 L502.7,173.7 L503.0,174.3 L503.2,174.8 L503.4,175.3 L503.7,175.9 L503.9,176.4 L504.2,177.0 L504.4,177.5" fill="none" stroke="#3434e6" stroke-width="1.30" stroke-linejoin="round" stroke-linecap="round"/>
<path d="M354.4,217.6 L354.9,217.3 L355.4,216.9 L355.9,216.6 L356.4,216.3 L356.9,215.9 L357.3,215.5 L357.8,215.2 L358.3,214.8 L358.7,214.4 L359.2,214.0 L359.6,213.6 L360.1,213.2 L360.5,212.8 L361.0,212.4 L361.4,212.0 L361.9,211.6 L362.3,211.2 L362.8,210.8 L363.3,210.4 L363.7,210.1 L364.2,209.7 L364.6,209.3 L365.1,209.0 L365.6,208.6 L366.1,208.2 L366.6,207.9 L367.1,207.5 L367.6,207.2 L368.1,206.9 L368.6,206.5 L369.1,206.2 L369.6,205.9 L370.1,205.5 L370.6,205.2 L371.1,204.9 L371.6,204.5 L372.1,204.2 L372.6,203.9 L373.1,203.5 L373.6,203.2 L374.1,202.9 L374.6,202.5 L375.0,202.2 L375.5,201.8 L376.0,201.5 L376.5,201.1 L376.9,200.7 L377.4,200.3 L377.9,200.0 L378.3,199.6 L378.8,199.2 L379.2,198.8 L379.7,198.4 L380.1,198.0 L380.5,197.6 L380.9,197.2 L381.3,196.7 L381.7,196.3 L382.1,195.9 L382.5,195.4 L382.9,195.0 L383.2,194.5 L383.6,194.1 L383.9,193.6 L384.3,193.1 L384.6,192.6 L384.9,192.1 L385.2,191.6 L385.5,191.1 L385.8,190.6 L386.1,190.1 L386.3,189.6 L386.6,189.0 L386.9,188.5 L387.1,188.0 L387.4,187.4 L387.6,186.9 L387.8,186.3 L388.1,185.8 L388.3,185.2 L388.5,184.6 L388.7,184.1 L388.9,183.5 L389.1,182.9 L389.3,182.4 L389.5,181.8 L389.7,181.2 L389.9,180.6 L390.1,180.1 L390.3,179.5 L390.4,178.9 L390.6,178.3 L390.8,177.7 L391.0,177.1 L391.1,176.6 L391.3,176.0 L391.5,175.4 L391.7,174.8 L391.8,174.2 L392.0,173.6 L392.2,173.1 L392.3,172.5 L392.5,171.9 L392.6,171.3 L392.8,170.7 L393.0,170.1 L393.1,169.6 L393.3,169.0 L393.4,168.4 L393.6,167.8 L393.7,167.2 L393.9,166.6 L394.0,166.1 L394.2,165.5 L394.3,164.9 L394.5,164.3 L394.6,163.7 L394.8,163.1 L394.9,162.6 L395.1,162.0 L395.2,161.4 L395.3,160.8 L395.5,160.2 L395.6,159.6 L395.8,159.0 L395.9,158.5 L396.0,157.9 L396.2,157.3 L396.3,156.7 L396.4,156.1 L396.6,155.5 L396.7,154.9 L396.8,154.4 L397.0,153.8 L397.1,153.2 L397.2,152.6 L397.3,152.0 L397.5,151.4 L397.6,150.8 L397.7,150.3 L397.9,149.7 L398.0,149.1 L398.1,148.5 L398.2,147.9 L398.3,147.3 L398.5,146.7 L398.6,146.1 L398.7,145.6 L398.8,145.0 L398.9,144.4 L399.1,143.8 L399.2,143.2 L399.3,142.6 L399.4,142.0 L399.5,141.5 L399.6,140.9 L399.8,140.3 L399.9,139.7 L400.0,139.1 L400.1,138.5 L400.2,137.9 L400.3,137.3 L400.4,136.8 L400.5,136.2 L400.7,135.6 L400.8,135.0 L400.9,134.4 L401.0,133.8 L401.1,133.2 L401.2,132.6 L401.3,132.1 L401.4,131.5 L401.5,130.9 L401.6,130.3 L401.7,129.7 L401.9,129.1 L402.0,128.5 L402.1,127.9 L402.2,127.4 L402.3,126.8 L402.4,126.2 L402.5,125.6 L402.6,125.0 L402.7,124.4 L402.8,123.8 L402.9,123.2 L403.0,122.7 L403.1,122.1 L403.2,121.5 L403.3,120.9 L403.5,120.3 L403.6,119.7 L403.7,119.1 L403.8,118.5 L403.9,118.0 L404.0,117.4 L404.1,116.8 L404.2,116.2 L404.3,115.6 L404.4,115.0 L404.5,114.4 L404.6,113.9 L404.7,113.3 L404.8,112.7 L404.9,112.1 L405.1,111.5 L405.2,110.9 L405.3,110.3 L405.4,109.7 L405.5,109.2 L405.6,108.6 L405.7,108.0 L405.8,107.4 L405.9,106.8 L406.0,106.2 L406.2,105.6 L406.3,105.1 L406.4,104.5 L406.5,103.9 L406.6,103.3 L406.7,102.7 L406.8,102.1 L406.9,101.5 L407.1,100.9 L407.2,100.4 L407.3,99.8 L407.4,99.2 L407.5,98.6 L407.6,98.0 L407.8,97.4 L407.9,96.8 L408.0,96.3 L408.1,95.7 L408.2,95.1 L408.4,94.5 L408.5,93.9 L408.6,93.3 L408.7,92.8 L408.8,92.2 L409.0,91.6 L409.1,91.0 L409.2,90.4 L409.3,89.8 L409.5,89.2 L409.6,88.7 L409.7,88.1 L409.9,87.5 L410.0,86.9 L410.1,86.3 L410.3,85.7 L410.4,85.2 L410.5,84.6 L410.7,84.0 L410.8,83.4 L410.9,82.8 L411.1,82.2 L411.2,81.7 L411.4,81.1 L411.5,80.5 L411.6,79.9 L411.8,79.3 L411.9,78.8 L412.1,78.2 L412.2,77.6 L412.4,77.0 L412.5,76.4 L412.7,75.8 L412.8,75.3 L413.0,74.7 L413.1,74.1 L413.3,73.5 L413.4,72.9 L413.6,72.4 L413.8,71.8 L413.9,71.2 L414.1,70.6 L414.2,70.0 L414.4,69.5 L414.6,68.9 L414.7,68.3 L414.9,67.7 L415.1,67.1 L415.2,66.6 L415.4,66.0 L415.6,65.4 L415.8,64.8 L415.9,64.2 L416.1,63.7 L416.3,63.1 L416.5,62.5 L416.6,61.9 L416.8,61.3 L417.0,60.8 L417.2,60.2 L417.4,59.6 L417.6,59.0 L417.8,58.5 L418.0,57.9 L418.2,57.3 L418.4,56.7 L418.6,56.2 L418.8,55.6 L419.0,55.0 L419.2,54.4 L419.4,53.9 L419.6,53.3 L419.8,52.7 L420.0,52.1 L420.2,51.6 L420.4,51.0 L420.6,50.4 L420.8,49.8 L421.1,49.3 L421.3,48.7 L421.5,48.1 L421.7,47.5 L421.9,47.0 L422.2,46.4 L422.4,45.8 L422.6,45.2 L422.9,44.7 L423.1,44.1 L423.3,43.5 L423.6,43.0 L423.8,42.4 L424.1,41.8 L424.3,41.3 L424.6,40.7 L424.8,40.2 L425.1,39.6 L425.4,39.1 L425.7,38.7 L426.0,38.2 L426.3,37.8 L426.6,37.4 L427.0,37.0 L427.3,36.6 L427.7,36.3 L428.1,36.1 L428.5,35.9 L429.0,35.7 L429.5,35.6 L429.9,35.5 L430.5,35.5 L431.0,35.5 L431.5,35.6 L432.1,35.7 L432.7,35.9 L433.2,36.1 L433.8,36.4 L434.3,36.7 L434.8,37.1 L435.3,37.4 L435.7,37.9 L436.1,38.3 L436.5,38.8 L436.9,39.3 L437.2,39.8 L437.5,40.3 L437.8,40.8 L438.1,41.4 L438.4,42.0 L438.7,42.5 L439.0,43.1 L439.2,43.7 L439.5,44.2 L439.8,44.8 L440.0,45.4 L440.3,45.9 L440.5,46.5 L440.8,47.1 L441.0,47.6 L441.3,48.2 L441.5,48.8 L441.8,49.3 L442.0,49.9 L442.3,50.5 L442.5,51.0 L442.7,51.6 L443.0,52.1 L443.2,52.7 L443.4,53.3 L443.6,53.8 L443.9,54.4 L444.1,55.0 L444.3,55.5 L444.5,56.1 L444.8,56.7 L445.0,57.2 L445.2,57.8 L445.4,58.4 L445.6,58.9 L445.8,59.5 L446.0,60.0 L446.2,60.6 L446.4,61.2 L446.6,61.7 L446.8,62.3 L447.0,62.9 L447.2,63.4 L447.4,64.0 L447.6,64.6 L447.8,65.1 L448.0,65.7 L448.2,66.2 L448.4,66.8 L448.6,67.4 L448.8,67.9 L449.0,68.5 L449.2,69.1 L449.4,69.6 L449.6,70.2 L449.8,70.8 L449.9,71.3 L450.1,71.9 L450.3,72.4 L450.5,73.0 L450.7,73.6 L450.9,74.1 L451.1,74.7 L451.2,75.3 L451.4,75.8 L451.6,76.4 L451.8,77.0 L452.0,77.5 L452.2,78.1 L452.3,78.7 L452.5,79.2 L452.7,79.8 L452.9,80.3 L453.1,80.9 L453.3,81.5 L453.4,82.0 L453.6,82.6 L453.8,83.2 L454.0,83.7 L454.2,84.3 L454.4,84.9 L454.5,85.4 L454.7,86.0 L454.9,86.6 L455.1,87.1 L455.3,87.7 L455.5,88.3 L455.6,88.8 L455.8,89.4 L456.0,90.0 L456.2,90.5 L456.4,91.1 L456.6,91.7 L456.8,92.2 L456.9,92.8 L457.1,93.4 L457.3,94.0 L457.5,94.5 L457.7,95.1 L457.9,95.7 L458.1,96.2 L458.3,96.8 L458.4,97.4 L458.6,97.9 L458.8,98.5 L459.0,99.1 L459.2,99.6 L459.4,100.2 L459.6,100.8 L459.8,101.3 L460.0,101.9 L460.1,102.5 L460.3,103.0 L460.5,103.6 L460.7,104.2 L460.9,104.7 L461.1,105.3 L461.3,105.9 L461.5,106.4 L461.7,107.0 L461.9,107.6 L462.1,108.1 L462.3,108.7 L462.5,109.3 L462.7,109.8 L462.9,110.4 L463.0,111.0 L463.2,111.5 L463.4,112.1 L463.6,112.7 L463.8,113.2 L464.0,113.8 L464.2,114.4 L464.4,114.9 L464.6,115.5 L464.8,116.1 L465.0,116.6 L465.2,117.2 L465.4,117.8 L465.6,118.3 L465.8,118.9 L466.0,119.5 L466.3,120.0 L466.5,120.6 L466.7,121.2 L466.9,121.7 L467.1,122.3 L467.3,122.9 L467.5,123.4 L467.7,124.0 L467.9,124.5 L468.1,125.1 L468.3,125.7 L468.5,126.2 L468.7,126.8 L469.0,127.4 L469.2,127.9 L469.4,128.5 L469.6,129.0 L469.8,129.6 L470.0,130.2 L470.2,130.7 L470.5,131.3 L470.7,131.8 L470.9,132.4 L471.1,133.0 L471.3,133.5 L471.5,134.1 L471.8,134.6 L472.0,135.2 L472.2,135.8 L472.4,136.3 L472.7,136.9 L472.9,137.4 L473.1,138.0 L473.3,138.5 L473.6,139.1 L473.8,139.6 L474.0,140.2 L474.2,140.8 L474.5,141.3 L474.7,141.9 L474.9,142.4 L475.2,143.0 L475.4,143.5 L475.6,144.1 L475.9,144.6 L476.1,145.2 L476.3,145.7 L476.6,146.3 L476.8,146.8 L477.0,147.4 L477.3,147.9 L477.5,148.5 L477.8,149.0 L478.0,149.6 L478.2,150.1 L478.5,150.7 L478.7,151.2 L479.0,151.8 L479.2,152.3 L479.5,152.9 L479.7,153.4 L480.0,154.0 L480.2,154.5 L480.5,155.0 L480.7,155.6 L481.0,156.1 L481.2,156.7 L481.5,157.2 L481.7,157.8 L482.0,158.3 L482.2,158.8 L482.5,159.4 L482.8,159.9 L483.0,160.5 L483.3,161.0 L483.5,161.5 L483.8,162.1 L484.1,162.6 L484.3,163.2 L484.6,163.7 L484.9,164.2 L485.1,164.8 L485.4,165.3 L485.7,165.8 L486.0,166.4 L486.2,166.9 L486.5,167.4 L486.8,168.0 L487.1,168.5 L487.3,169.0 L487.6,169.5 L487.9,170.1 L488.2,170.6 L488.5,171.1 L488.7,171.7 L489.0,172.2 L489.3,172.7 L489.6,173.2 L489.9,173.8 L490.2,174.3 L490.5,174.8 L490.8,175.3 L491.1,175.9 L491.3,176.4 L491.6,176.9 L491.9,177.4 L492.2,177.9 L492.5,178.5 L492.8,179.0 L493.1,179.5 L493.4,180.0 L493.7,180.5 L494.0,181.0 L494.4,181.6 L494.7,182.1 L495.0,182.6 L495.3,183.1 L495.6,183.6 L495.9,184.1 L496.2,184.6 L496.5,185.1 L496.9,185.6 L497.2,186.2 L497.5,186.7 L497.8,187.2 L498.1,187.7 L498.5,188.2 L498.8,188.7 L499.1,189.2 L499.4,189.7 L499.8,190.2 L500.1,190.7 L500.4,191.2 L500.8,191.7 L501.1,192.2 L501.4,192.7 L501.8,193.2 L502.1,193.7 L502.4,194.2 L502.8,194.7 L503.1,195.2 L503.5,195.7" fill="none" stroke="#f43c3c" stroke-width="1.50" stroke-linejoin="round" stroke-linecap="round"/>
<path d="M354.0,219.2 L354.4,218.9 L354.9,218.7 L355.4,218.4 L355.9,218.2 L356.4,218.0 L357.0,217.8 L357.5,217.6 L358.1,217.4 L358.6,217.2 L359.2,217.1 L359.8,216.9 L360.4,216.8 L361.0,216.6 L361.6,216.5 L362.2,216.4 L362.8,216.3 L363.4,216.1 L364.0,216.0 L364.7,215.9 L365.3,215.8 L365.9,215.7 L366.5,215.6 L367.1,215.4 L367.8,215.3 L368.4,215.2 L369.0,215.1 L369.6,214.9 L370.2,214.8 L370.8,214.6 L371.4,214.5 L372.0,214.3 L372.6,214.1 L373.1,213.9 L373.7,213.7 L374.2,213.5 L374.8,213.3 L375.3,213.1 L375.8,212.8 L376.3,212.6 L376.8,212.3 L377.3,212.0 L377.8,211.7 L378.2,211.4 L378.7,211.0 L379.1,210.7 L379.5,210.4 L380.0,210.0 L380.4,209.6 L380.8,209.3 L381.2,208.9 L381.6,208.5 L381.9,208.1 L382.3,207.6 L382.7,207.2 L383.0,206.8 L383.4,206.3 L383.7,205.9 L384.0,205.4 L384.4,204.9 L384.7,204.5 L385.0,204.0 L385.3,203.5 L385.6,203.0 L385.9,202.5 L386.2,202.0 L386.4,201.5 L386.7,200.9 L387.0,200.4 L387.2,199.9 L387.5,199.3 L387.7,198.8 L388.0,198.2 L388.2,197.7 L388.5,197.1 L388.7,196.6 L388.9,196.0 L389.1,195.4 L389.4,194.8 L389.6,194.3 L389.8,193.7 L390.0,193.1 L390.2,192.5 L390.4,191.9 L390.6,191.4 L390.8,190.8 L391.0,190.2 L391.2,189.6 L391.4,189.0 L391.6,188.4 L391.8,187.8 L392.0,187.2 L392.2,186.6 L392.4,186.1 L392.6,185.5 L392.8,184.9 L393.0,184.3 L393.1,183.7 L393.3,183.1 L393.5,182.5 L393.7,181.9 L393.9,181.3 L394.1,180.8 L394.2,180.2 L394.4,179.6 L394.6,179.0 L394.8,178.4 L394.9,177.8 L395.1,177.2 L395.3,176.6 L395.5,176.1 L395.6,175.5 L395.8,174.9 L396.0,174.3 L396.1,173.7 L396.3,173.1 L396.5,172.5 L396.6,172.0 L396.8,171.4 L397.0,170.8 L397.1,170.2 L397.3,169.6 L397.5,169.0 L397.6,168.4 L397.8,167.9 L397.9,167.3 L398.1,166.7 L398.3,166.1 L398.4,165.5 L398.6,164.9 L398.7,164.3 L398.9,163.8 L399.0,163.2 L399.2,162.6 L399.3,162.0 L399.5,161.4 L399.6,160.8 L399.8,160.3 L399.9,159.7 L400.1,159.1 L400.2,158.5 L400.4,157.9 L400.5,157.3 L400.7,156.8 L400.8,156.2 L401.0,155.6 L401.1,155.0 L401.3,154.4 L401.4,153.8 L401.5,153.3 L401.7,152.7 L401.8,152.1 L402.0,151.5 L402.1,150.9 L402.3,150.4 L402.4,149.8 L402.5,149.2 L402.7,148.6 L402.8,148.0 L402.9,147.4 L403.1,146.9 L403.2,146.3 L403.4,145.7 L403.5,145.1 L403.6,144.5 L403.8,144.0 L403.9,143.4 L404.0,142.8 L404.2,142.2 L404.3,141.6 L404.4,141.1 L404.6,140.5 L404.7,139.9 L404.8,139.3 L404.9,138.7 L405.1,138.1 L405.2,137.6 L405.3,137.0 L405.5,136.4 L405.6,135.8 L405.7,135.2 L405.9,134.7 L406.0,134.1 L406.1,133.5 L406.2,132.9 L406.4,132.3 L406.5,131.8 L406.6,131.2 L406.7,130.6 L406.9,130.0 L407.0,129.4 L407.1,128.9 L407.2,128.3 L407.4,127.7 L407.5,127.1 L407.6,126.5 L407.7,126.0 L407.9,125.4 L408.0,124.8 L408.1,124.2 L408.2,123.6 L408.4,123.1 L408.5,122.5 L408.6,121.9 L408.7,121.3 L408.9,120.7 L409.0,120.2 L409.1,119.6 L409.2,119.0 L409.4,118.4 L409.5,117.8 L409.6,117.3 L409.7,116.7 L409.9,116.1 L410.0,115.5 L410.1,114.9 L410.2,114.3 L410.3,113.8 L410.5,113.2 L410.6,112.6 L410.7,112.0 L410.8,111.4 L411.0,110.9 L411.1,110.3 L411.2,109.7 L411.3,109.1 L411.5,108.5 L411.6,108.0 L411.7,107.4 L411.8,106.8 L412.0,106.2 L412.1,105.6 L412.2,105.1 L412.3,104.5 L412.4,103.9 L412.6,103.3 L412.7,102.7 L412.8,102.1 L412.9,101.6 L413.1,101.0 L413.2,100.4 L413.3,99.8 L413.5,99.2 L413.6,98.7 L413.7,98.1 L413.8,97.5 L414.0,96.9 L414.1,96.3 L414.2,95.7 L414.3,95.2 L414.5,94.6 L414.6,94.0 L414.7,93.4 L414.9,92.8 L415.0,92.2 L415.1,91.7 L415.3,91.1 L415.4,90.5 L415.5,89.9 L415.6,89.3 L415.8,88.7 L415.9,88.2 L416.0,87.6 L416.2,87.0 L416.3,86.4 L416.4,85.8 L416.6,85.2 L416.7,84.7 L416.9,84.1 L417.0,83.5 L417.1,82.9 L417.3,82.3 L417.4,81.7 L417.5,81.2 L417.7,80.6 L417.8,80.0 L418.0,79.4 L418.1,78.8 L418.2,78.2 L418.4,77.6 L418.5,77.1 L418.7,76.5 L418.8,75.9 L418.9,75.3 L419.1,74.7 L419.2,74.1 L419.4,73.5 L419.5,72.9 L419.7,72.4 L419.8,71.8 L420.0,71.2 L420.1,70.6 L420.3,70.0 L420.4,69.4 L420.6,68.8 L420.7,68.2 L420.9,67.7 L421.0,67.1 L421.2,66.5 L421.3,65.9 L421.5,65.3 L421.6,64.7 L421.8,64.1 L422.0,63.5 L422.1,62.9 L422.3,62.4 L422.4,61.8 L422.6,61.2 L422.8,60.6 L422.9,60.0 L423.1,59.4 L423.2,58.8 L423.4,58.2 L423.6,57.6 L423.7,57.0 L423.9,56.5 L424.1,55.9 L424.3,55.3 L424.4,54.7 L424.6,54.1 L424.8,53.5 L425.0,52.9 L425.2,52.3 L425.3,51.8 L425.5,51.2 L425.7,50.6 L425.9,50.0 L426.2,49.5 L426.4,48.9 L426.6,48.3 L426.8,47.8 L427.1,47.2 L427.3,46.7 L427.5,46.1 L427.8,45.6 L428.1,45.0 L428.3,44.5 L428.6,44.0 L428.9,43.5 L429.2,43.0 L429.5,42.5 L429.8,42.0 L430.2,41.5 L430.5,41.0 L430.9,40.5 L431.2,40.1 L431.6,39.6 L432.0,39.2 L432.4,38.7 L432.8,38.3 L433.2,37.9 L433.7,37.5 L434.1,37.1 L434.6,36.7 L435.1,36.3 L435.6,36.0 L436.1,35.7 L436.6,35.5 L437.0,35.4 L437.5,35.3 L438.0,35.4 L438.5,35.5 L438.9,35.7 L439.4,36.0 L439.8,36.3 L440.3,36.7 L440.7,37.1 L441.1,37.5 L441.5,38.0 L441.9,38.5 L442.3,39.0 L442.7,39.5 L443.0,40.0 L443.4,40.5 L443.7,41.0 L444.1,41.5 L444.4,42.1 L444.7,42.6 L445.0,43.1 L445.3,43.6 L445.6,44.2 L445.9,44.7 L446.2,45.3 L446.4,45.8 L446.7,46.4 L447.0,46.9 L447.2,47.5 L447.4,48.0 L447.7,48.6 L447.9,49.1 L448.1,49.7 L448.4,50.3 L448.6,50.8 L448.8,51.4 L449.0,52.0 L449.2,52.5 L449.4,53.1 L449.6,53.7 L449.8,54.2 L450.0,54.8 L450.2,55.4 L450.4,56.0 L450.6,56.5 L450.8,57.1 L450.9,57.7 L451.1,58.3 L451.3,58.9 L451.5,59.4 L451.7,60.0 L451.9,60.6 L452.1,61.2 L452.2,61.7 L452.4,62.3 L452.6,62.9 L452.8,63.4 L453.0,64.0 L453.2,64.6 L453.4,65.2 L453.6,65.7 L453.8,66.3 L454.0,66.8 L454.2,67.4 L454.4,68.0 L454.7,68.5 L454.9,69.1 L455.1,69.6 L455.3,70.2 L455.5,70.8 L455.7,71.3 L456.0,71.9 L456.2,72.4 L456.4,73.0 L456.7,73.5 L456.9,74.1 L457.1,74.6 L457.3,75.2 L457.6,75.7 L457.8,76.3 L458.0,76.8 L458.3,77.4 L458.5,77.9 L458.7,78.5 L459.0,79.0 L459.2,79.6 L459.5,80.1 L459.7,80.7 L459.9,81.2 L460.2,81.8 L460.4,82.3 L460.6,82.9 L460.9,83.4 L461.1,84.0 L461.3,84.5 L461.6,85.0 L461.8,85.6 L462.1,86.1 L462.3,86.7 L462.5,87.2 L462.8,87.8 L463.0,88.3 L463.2,88.9 L463.5,89.4 L463.7,90.0 L463.9,90.5 L464.1,91.1 L464.4,91.6 L464.6,92.2 L464.8,92.8 L465.0,93.3 L465.3,93.9 L465.5,94.4 L465.7,95.0 L465.9,95.5 L466.1,96.1 L466.3,96.7 L466.6,97.2 L466.8,97.8 L467.0,98.3 L467.2,98.9 L467.4,99.5 L467.6,100.0 L467.8,100.6 L468.0,101.1 L468.2,101.7 L468.5,102.3 L468.7,102.8 L468.9,103.4 L469.1,104.0 L469.3,104.5 L469.5,105.1 L469.7,105.7 L469.9,106.2 L470.1,106.8 L470.3,107.4 L470.5,107.9 L470.7,108.5 L470.9,109.1 L471.1,109.6 L471.3,110.2 L471.5,110.8 L471.7,111.3 L471.9,111.9 L472.1,112.5 L472.3,113.0 L472.5,113.6 L472.7,114.2 L472.9,114.8 L473.1,115.3 L473.3,115.9 L473.5,116.5 L473.7,117.0 L473.9,117.6 L474.1,118.2 L474.3,118.7 L474.5,119.3 L474.7,119.9 L474.9,120.4 L475.1,121.0 L475.3,121.6 L475.5,122.1 L475.7,122.7 L475.9,123.3 L476.1,123.8 L476.3,124.4 L476.5,125.0 L476.7,125.5 L476.9,126.1 L477.1,126.7 L477.3,127.2 L477.5,127.8 L477.7,128.4 L478.0,128.9 L478.2,129.5 L478.4,130.0 L478.6,130.6 L478.8,131.2 L479.0,131.7 L479.2,132.3 L479.5,132.8 L479.7,133.4 L479.9,134.0 L480.1,134.5 L480.3,135.1 L480.6,135.6 L480.8,136.2 L481.0,136.7 L481.3,137.3 L481.5,137.8 L481.7,138.4 L482.0,138.9 L482.2,139.5 L482.4,140.0 L482.7,140.6 L482.9,141.1 L483.1,141.7 L483.4,142.2 L483.6,142.8 L483.9,143.3 L484.1,143.9 L484.4,144.4 L484.6,144.9 L484.9,145.5 L485.1,146.0 L485.4,146.6 L485.7,147.1 L485.9,147.6 L486.2,148.2 L486.5,148.7 L486.7,149.2 L487.0,149.8 L487.3,150.3 L487.6,150.8 L487.8,151.3 L488.1,151.9 L488.4,152.4 L488.7,152.9 L489.0,153.4 L489.3,154.0 L489.6,154.5 L489.9,155.0 L490.2,155.5 L490.5,156.0 L490.8,156.5 L491.1,157.0 L491.4,157.6 L491.7,158.1 L492.0,158.6 L492.3,159.1 L492.7,159.6 L493.0,160.1 L493.3,160.6 L493.6,161.1 L494.0,161.6 L494.3,162.1 L494.7,162.6 L495.0,163.1 L495.3,163.6 L495.7,164.0 L496.0,164.5 L496.4,165.0 L496.7,165.5 L497.1,166.0 L497.5,166.5 L497.8,167.0 L498.2,167.5 L498.5,167.9 L498.9,168.4 L499.3,168.9 L499.6,169.4 L500.0,169.9 L500.3,170.4 L500.7,170.8 L501.0,171.3 L501.4,171.8 L501.8,172.3 L502.1,172.8 L502.5,173.3 L502.8,173.8 L503.2,174.3 L503.5,174.8 L503.8,175.2 L504.2,175.7 L504.5,176.2 L504.8,176.7 L505.2,177.2 L505.5,177.7 L505.8,178.2 L506.1,178.7 L506.4,179.3 L506.8,179.8 L507.1,180.3 L507.4,180.8 L507.6,181.3 L507.9,181.8" fill="none" stroke="#1ee01e" stroke-width="1.30" stroke-linejoin="round" stroke-linecap="round"/>
<rect x="338.50" y="26.00" width="193.50" height="193.60" fill="none" stroke="#2e2e2e" stroke-width="1.25"/>
<line x1="336.40" y1="219.60" x2="338.50" y2="219.60" stroke="#2e2e2e" stroke-width="1.2"/>
<text x="330.50" y="223.30" class="tk" text-anchor="end">0.0</text>
<line x1="336.40" y1="182.68" x2="338.50" y2="182.68" stroke="#2e2e2e" stroke-width="1.2"/>
<text x="330.50" y="186.38" class="tk" text-anchor="end">0.2</text>
<line x1="336.40" y1="145.76" x2="338.50" y2="145.76" stroke="#2e2e2e" stroke-width="1.2"/>
<text x="330.50" y="149.46" class="tk" text-anchor="end">0.4</text>
<line x1="336.40" y1="108.84" x2="338.50" y2="108.84" stroke="#2e2e2e" stroke-width="1.2"/>
<text x="330.50" y="112.54" class="tk" text-anchor="end">0.6</text>
<line x1="336.40" y1="71.92" x2="338.50" y2="71.92" stroke="#2e2e2e" stroke-width="1.2"/>
<text x="330.50" y="75.62" class="tk" text-anchor="end">0.8</text>
<line x1="336.40" y1="35.00" x2="338.50" y2="35.00" stroke="#2e2e2e" stroke-width="1.2"/>
<text x="330.50" y="38.70" class="tk" text-anchor="end">1.0</text>
<line x1="338.50" y1="219.60" x2="338.50" y2="221.70" stroke="#2e2e2e" stroke-width="1.2"/>
<text x="338.50" y="236.90" class="tk" text-anchor="middle">350</text>
<line x1="377.20" y1="219.60" x2="377.20" y2="221.70" stroke="#2e2e2e" stroke-width="1.2"/>
<text x="377.20" y="236.90" class="tk" text-anchor="middle">400</text>
<line x1="415.90" y1="219.60" x2="415.90" y2="221.70" stroke="#2e2e2e" stroke-width="1.2"/>
<text x="415.90" y="236.90" class="tk" text-anchor="middle">450</text>
<line x1="454.60" y1="219.60" x2="454.60" y2="221.70" stroke="#2e2e2e" stroke-width="1.2"/>
<text x="454.60" y="236.90" class="tk" text-anchor="middle">500</text>
<line x1="493.30" y1="219.60" x2="493.30" y2="221.70" stroke="#2e2e2e" stroke-width="1.2"/>
<text x="493.30" y="236.90" class="tk" text-anchor="middle">550</text>
<line x1="532.00" y1="219.60" x2="532.00" y2="221.70" stroke="#2e2e2e" stroke-width="1.2"/>
<text x="532.00" y="236.90" class="tk" text-anchor="middle">600</text>
<text x="435.25" y="259.30" class="ax" text-anchor="middle">Wavelength, nm</text>
<text x="0" y="0" class="ax" text-anchor="middle" transform="translate(306.90,122.80) rotate(-90)">Bioluminescence, RLU</text>
<text x="288.00" y="24.80" class="lt">B</text>
<line x1="345.30" y1="36.50" x2="362.70" y2="36.50" stroke="#262626" stroke-width="1.30"/>
<text x="366.60" y="39.15" class="lg">AV_WT</text>
<line x1="345.30" y1="45.97" x2="362.70" y2="45.97" stroke="#1ee6f0" stroke-width="1.80"/>
<text x="366.60" y="48.62" class="lg">AV_41A</text>
<line x1="345.30" y1="55.44" x2="362.70" y2="55.44" stroke="#3434e6" stroke-width="1.30"/>
<text x="366.60" y="58.09" class="lg">AV_58F</text>
<line x1="345.30" y1="64.91" x2="362.70" y2="64.91" stroke="#f43c3c" stroke-width="1.50"/>
<text x="366.60" y="67.56" class="lg">AV_108F</text>
<line x1="345.30" y1="74.38" x2="362.70" y2="74.38" stroke="#1ee01e" stroke-width="1.30"/>
<text x="366.60" y="77.03" class="lg">AV_41A58F</text>
<path d="M78.3,481.6 L78.7,481.2 L79.1,480.8 L79.4,480.3 L79.8,479.9 L80.2,479.5 L80.6,479.0 L81.0,478.6 L81.3,478.1 L81.7,477.6 L82.1,477.2 L82.5,476.7 L82.9,476.2 L83.3,475.7 L83.7,475.3 L84.1,474.8 L84.5,474.3 L84.9,473.8 L85.3,473.4 L85.7,472.9 L86.1,472.4 L86.5,471.9 L86.9,471.5 L87.4,471.0 L87.8,470.6 L88.2,470.1 L88.6,469.7 L89.1,469.3 L89.5,468.9 L90.0,468.5 L90.4,468.1 L90.9,467.7 L91.3,467.3 L91.8,467.0 L92.2,466.6 L92.7,466.3 L93.2,465.9 L93.7,465.6 L94.1,465.3 L94.6,465.0 L95.1,464.7 L95.6,464.4 L96.1,464.1 L96.6,463.8 L97.1,463.6 L97.6,463.3 L98.2,463.0 L98.7,462.8 L99.2,462.5 L99.7,462.3 L100.3,462.0 L100.8,461.8 L101.4,461.5 L101.9,461.3 L102.5,461.1 L103.0,460.8 L103.6,460.6 L104.1,460.4 L104.7,460.1 L105.3,459.9 L105.8,459.7 L106.4,459.4 L107.0,459.2 L107.5,458.9 L108.1,458.7 L108.7,458.5 L109.2,458.2 L109.8,458.0 L110.3,457.7 L110.9,457.4 L111.4,457.2 L112.0,456.9 L112.5,456.6 L113.1,456.4 L113.6,456.1 L114.1,455.8 L114.6,455.5 L115.1,455.2 L115.6,454.9 L116.1,454.5 L116.6,454.2 L117.1,453.9 L117.5,453.5 L118.0,453.1 L118.4,452.8 L118.9,452.4 L119.3,452.0 L119.7,451.6 L120.1,451.1 L120.5,450.7 L120.9,450.3 L121.2,449.8 L121.6,449.4 L121.9,448.9 L122.2,448.4 L122.6,447.9 L122.9,447.4 L123.2,446.9 L123.5,446.4 L123.8,445.9 L124.0,445.3 L124.3,444.8 L124.6,444.2 L124.8,443.7 L125.1,443.1 L125.3,442.6 L125.6,442.0 L125.8,441.5 L126.1,440.9 L126.3,440.3 L126.5,439.7 L126.7,439.2 L126.9,438.6 L127.2,438.0 L127.4,437.4 L127.6,436.8 L127.8,436.3 L128.0,435.7 L128.2,435.1 L128.4,434.5 L128.6,433.9 L128.8,433.4 L129.0,432.8 L129.2,432.2 L129.4,431.6 L129.6,431.0 L129.8,430.5 L130.0,429.9 L130.2,429.3 L130.4,428.8 L130.6,428.2 L130.8,427.6 L131.0,427.1 L131.2,426.5 L131.4,425.9 L131.5,425.3 L131.7,424.8 L131.9,424.2 L132.1,423.7 L132.3,423.1 L132.5,422.5 L132.7,422.0 L132.9,421.4 L133.0,420.8 L133.2,420.3 L133.4,419.7 L133.6,419.1 L133.8,418.6 L134.0,418.0 L134.1,417.4 L134.3,416.9 L134.5,416.3 L134.7,415.8 L134.9,415.2 L135.0,414.6 L135.2,414.1 L135.4,413.5 L135.6,412.9 L135.7,412.4 L135.9,411.8 L136.1,411.2 L136.3,410.7 L136.4,410.1 L136.6,409.5 L136.8,409.0 L136.9,408.4 L137.1,407.8 L137.3,407.3 L137.4,406.7 L137.6,406.1 L137.8,405.6 L137.9,405.0 L138.1,404.4 L138.3,403.8 L138.4,403.3 L138.6,402.7 L138.8,402.1 L138.9,401.5 L139.1,400.9 L139.2,400.4 L139.4,399.8 L139.6,399.2 L139.7,398.6 L139.9,398.0 L140.0,397.5 L140.2,396.9 L140.4,396.3 L140.5,395.7 L140.7,395.1 L140.8,394.6 L141.0,394.0 L141.1,393.4 L141.3,392.8 L141.4,392.2 L141.6,391.6 L141.8,391.0 L141.9,390.5 L142.1,389.9 L142.2,389.3 L142.4,388.7 L142.5,388.1 L142.7,387.5 L142.8,386.9 L143.0,386.4 L143.2,385.8 L143.3,385.2 L143.5,384.6 L143.6,384.0 L143.8,383.4 L143.9,382.8 L144.1,382.3 L144.2,381.7 L144.4,381.1 L144.6,380.5 L144.7,379.9 L144.9,379.3 L145.0,378.8 L145.2,378.2 L145.3,377.6 L145.5,377.0 L145.7,376.4 L145.8,375.9 L146.0,375.3 L146.1,374.7 L146.3,374.1 L146.5,373.6 L146.6,373.0 L146.8,372.4 L147.0,371.8 L147.1,371.3 L147.3,370.7 L147.5,370.1 L147.6,369.5 L147.8,369.0 L148.0,368.4 L148.1,367.8 L148.3,367.3 L148.5,366.7 L148.7,366.1 L148.8,365.6 L149.0,365.0 L149.2,364.4 L149.4,363.9 L149.5,363.3 L149.7,362.7 L149.9,362.2 L150.1,361.6 L150.2,361.1 L150.4,360.5 L150.6,359.9 L150.8,359.4 L150.9,358.8 L151.1,358.3 L151.3,357.7 L151.5,357.1 L151.7,356.6 L151.8,356.0 L152.0,355.5 L152.2,354.9 L152.4,354.3 L152.6,353.8 L152.7,353.2 L152.9,352.6 L153.1,352.1 L153.3,351.5 L153.5,351.0 L153.7,350.4 L153.8,349.8 L154.0,349.3 L154.2,348.7 L154.4,348.1 L154.6,347.6 L154.7,347.0 L154.9,346.4 L155.1,345.9 L155.3,345.3 L155.5,344.7 L155.6,344.2 L155.8,343.6 L156.0,343.0 L156.2,342.4 L156.4,341.9 L156.5,341.3 L156.7,340.7 L156.9,340.1 L157.1,339.6 L157.2,339.0 L157.4,338.4 L157.6,337.8 L157.8,337.2 L157.9,336.7 L158.1,336.1 L158.3,335.5 L158.5,334.9 L158.6,334.3 L158.8,333.7 L159.0,333.1 L159.1,332.5 L159.3,331.9 L159.5,331.3 L159.7,330.7 L159.8,330.1 L160.0,329.5 L160.2,328.9 L160.3,328.3 L160.5,327.7 L160.6,327.1 L160.8,326.5 L161.0,325.9 L161.2,325.3 L161.3,324.6 L161.5,324.0 L161.7,323.4 L161.9,322.8 L162.1,322.2 L162.2,321.7 L162.4,321.1 L162.6,320.5 L162.9,319.9 L163.1,319.3 L163.3,318.7 L163.5,318.2 L163.8,317.6 L164.0,317.1 L164.3,316.5 L164.5,316.0 L164.8,315.5 L165.1,314.9 L165.4,314.4 L165.7,313.9 L166.0,313.4 L166.3,312.9 L166.7,312.5 L167.0,312.0 L167.4,311.6 L167.7,311.1 L168.1,310.7 L168.5,310.3 L169.0,309.9 L169.4,309.5 L169.9,309.1 L170.3,308.7 L170.8,308.4 L171.3,308.1 L171.8,307.7 L172.4,307.4 L172.9,307.2 L173.5,306.9 L174.0,306.7 L174.6,306.5 L175.2,306.4 L175.8,306.3 L176.4,306.2 L176.9,306.2 L177.5,306.3 L178.1,306.4 L178.6,306.6 L179.2,306.8 L179.8,307.0 L180.3,307.3 L180.8,307.6 L181.3,307.9 L181.9,308.2 L182.3,308.5 L182.8,308.9 L183.3,309.2 L183.8,309.6 L184.2,310.0 L184.6,310.4 L185.0,310.8 L185.5,311.2 L185.9,311.6 L186.3,312.1 L186.6,312.5 L187.0,312.9 L187.4,313.4 L187.7,313.9 L188.1,314.4 L188.4,314.8 L188.7,315.3 L189.0,315.8 L189.3,316.3 L189.6,316.8 L189.9,317.4 L190.2,317.9 L190.5,318.4 L190.8,319.0 L191.1,319.5 L191.3,320.0 L191.6,320.6 L191.8,321.1 L192.1,321.7 L192.3,322.3 L192.6,322.8 L192.8,323.4 L193.1,324.0 L193.3,324.5 L193.5,325.1 L193.7,325.7 L194.0,326.3 L194.2,326.9 L194.4,327.4 L194.6,328.0 L194.8,328.6 L195.1,329.2 L195.3,329.8 L195.5,330.3 L195.7,330.9 L195.9,331.5 L196.1,332.1 L196.4,332.7 L196.6,333.2 L196.8,333.8 L197.0,334.4 L197.2,335.0 L197.4,335.5 L197.7,336.1 L197.9,336.7 L198.1,337.3 L198.3,337.8 L198.5,338.4 L198.7,339.0 L198.9,339.6 L199.2,340.1 L199.4,340.7 L199.6,341.3 L199.8,341.9 L200.0,342.4 L200.2,343.0 L200.4,343.6 L200.7,344.1 L200.9,344.7 L201.1,345.3 L201.3,345.8 L201.5,346.4 L201.7,347.0 L201.9,347.5 L202.2,348.1 L202.4,348.7 L202.6,349.2 L202.8,349.8 L203.0,350.4 L203.2,350.9 L203.4,351.5 L203.6,352.1 L203.9,352.6 L204.1,353.2 L204.3,353.8 L204.5,354.3 L204.7,354.9 L204.9,355.4 L205.1,356.0 L205.4,356.6 L205.6,357.1 L205.8,357.7 L206.0,358.2 L206.2,358.8 L206.4,359.4 L206.7,359.9 L206.9,360.5 L207.1,361.0 L207.3,361.6 L207.5,362.2 L207.7,362.7 L208.0,363.3 L208.2,363.8 L208.4,364.4 L208.6,364.9 L208.8,365.5 L209.0,366.0 L209.3,366.6 L209.5,367.2 L209.7,367.7 L209.9,368.3 L210.1,368.8 L210.4,369.4 L210.6,369.9 L210.8,370.5 L211.0,371.0 L211.2,371.6 L211.5,372.1 L211.7,372.7 L211.9,373.2 L212.1,373.8 L212.4,374.3 L212.6,374.9 L212.8,375.4 L213.0,376.0 L213.3,376.5 L213.5,377.1 L213.7,377.6 L213.9,378.2 L214.2,378.7 L214.4,379.3 L214.6,379.8 L214.8,380.4 L215.1,380.9 L215.3,381.5 L215.5,382.0 L215.8,382.6 L216.0,383.1 L216.2,383.7 L216.5,384.2 L216.7,384.8 L216.9,385.3 L217.2,385.8 L217.4,386.4 L217.6,386.9 L217.9,387.5 L218.1,388.0 L218.3,388.6 L218.6,389.1 L218.8,389.7 L219.0,390.2 L219.3,390.7 L219.5,391.3 L219.8,391.8 L220.0,392.4 L220.2,392.9 L220.5,393.5 L220.7,394.0 L221.0,394.5 L221.2,395.1 L221.5,395.6 L221.7,396.2 L222.0,396.7 L222.2,397.3 L222.5,397.8 L222.7,398.3 L223.0,398.9 L223.2,399.4 L223.5,400.0 L223.7,400.5 L224.0,401.0 L224.2,401.6 L224.5,402.1 L224.7,402.7 L225.0,403.2 L225.2,403.8 L225.5,404.3 L225.7,404.8 L226.0,405.4 L226.3,405.9 L226.5,406.5 L226.8,407.0 L227.0,407.5 L227.3,408.1 L227.6,408.6 L227.8,409.1 L228.1,409.7 L228.4,410.2 L228.6,410.8 L228.9,411.3 L229.2,411.8 L229.4,412.4 L229.7,412.9 L230.0,413.5 L230.3,414.0 L230.5,414.5 L230.8,415.1 L231.1,415.6 L231.4,416.1 L231.6,416.7 L231.9,417.2 L232.2,417.7 L232.5,418.3 L232.8,418.8 L233.1,419.3 L233.3,419.9 L233.6,420.4 L233.9,420.9 L234.2,421.5 L234.5,422.0 L234.8,422.5 L235.1,423.1 L235.4,423.6 L235.6,424.1 L235.9,424.6 L236.2,425.2 L236.5,425.7 L236.8,426.2 L237.1,426.7 L237.4,427.3 L237.7,427.8 L238.0,428.3 L238.3,428.8 L238.6,429.3 L238.9,429.9 L239.2,430.4 L239.6,430.9 L239.9,431.4 L240.2,431.9 L240.5,432.4 L240.8,432.9 L241.1,433.4 L241.4,434.0 L241.7,434.5 L242.1,435.0 L242.4,435.5 L242.7,436.0 L243.0,436.5 L243.3,437.0 L243.7,437.5 L244.0,438.0 L244.3,438.5 L244.6,439.0 L245.0,439.5 L245.3,440.0 L245.6,440.4 L246.0,440.9 L246.3,441.4" fill="none" stroke="#262626" stroke-width="1.40" stroke-linejoin="round" stroke-linecap="round"/>
<path d="M79.1,486.7 L79.7,486.6 L80.3,486.4 L80.8,486.3 L81.4,486.1 L82.0,485.9 L82.5,485.7 L83.1,485.5 L83.6,485.3 L84.2,485.1 L84.8,484.8 L85.3,484.6 L85.9,484.4 L86.4,484.1 L87.0,483.9 L87.5,483.6 L88.1,483.4 L88.6,483.1 L89.2,482.8 L89.7,482.6 L90.3,482.3 L90.8,482.1 L91.4,481.8 L91.9,481.5 L92.5,481.3 L93.0,481.0 L93.6,480.8 L94.1,480.6 L94.7,480.3 L95.2,480.1 L95.8,479.9 L96.3,479.7 L96.9,479.5 L97.4,479.3 L98.0,479.1 L98.5,478.9 L99.1,478.8 L99.6,478.6 L100.2,478.5 L100.8,478.3 L101.3,478.2 L101.9,478.0 L102.5,477.9 L103.1,477.8 L103.7,477.7 L104.2,477.6 L104.8,477.5 L105.4,477.5 L106.0,477.4 L106.6,477.3 L107.3,477.3 L107.9,477.2 L108.5,477.2 L109.1,477.1 L109.8,477.1 L110.4,477.0 L111.0,477.0 L111.7,476.9 L112.3,476.8 L112.9,476.8 L113.5,476.6 L114.1,476.5 L114.7,476.4 L115.2,476.2 L115.8,476.0 L116.3,475.8 L116.8,475.5 L117.3,475.2 L117.8,474.9 L118.3,474.6 L118.8,474.3 L119.2,473.9 L119.7,473.5 L120.1,473.2 L120.5,472.7 L120.9,472.3 L121.3,471.9 L121.7,471.4 L122.1,471.0 L122.5,470.5 L122.8,470.0 L123.2,469.5 L123.6,469.1 L123.9,468.6 L124.2,468.1 L124.6,467.6 L124.9,467.1 L125.3,466.6 L125.6,466.1 L125.9,465.6 L126.2,465.0 L126.5,464.5 L126.8,464.0 L127.2,463.5 L127.5,463.0 L127.8,462.5 L128.0,461.9 L128.3,461.4 L128.6,460.9 L128.9,460.4 L129.2,459.8 L129.5,459.3 L129.7,458.8 L130.0,458.2 L130.3,457.7 L130.5,457.2 L130.8,456.6 L131.0,456.1 L131.3,455.5 L131.5,455.0 L131.8,454.4 L132.0,453.9 L132.3,453.3 L132.5,452.8 L132.7,452.2 L133.0,451.7 L133.2,451.1 L133.4,450.6 L133.6,450.0 L133.9,449.5 L134.1,448.9 L134.3,448.3 L134.5,447.8 L134.7,447.2 L134.9,446.6 L135.1,446.1 L135.4,445.5 L135.6,445.0 L135.8,444.4 L136.0,443.8 L136.2,443.3 L136.4,442.7 L136.5,442.1 L136.7,441.5 L136.9,441.0 L137.1,440.4 L137.3,439.8 L137.5,439.3 L137.7,438.7 L137.9,438.1 L138.1,437.5 L138.2,437.0 L138.4,436.4 L138.6,435.8 L138.8,435.2 L139.0,434.7 L139.1,434.1 L139.3,433.5 L139.5,433.0 L139.7,432.4 L139.8,431.8 L140.0,431.2 L140.2,430.7 L140.4,430.1 L140.5,429.5 L140.7,428.9 L140.9,428.4 L141.0,427.8 L141.2,427.2 L141.4,426.6 L141.5,426.1 L141.7,425.5 L141.9,424.9 L142.0,424.3 L142.2,423.8 L142.4,423.2 L142.5,422.6 L142.7,422.0 L142.8,421.4 L143.0,420.9 L143.2,420.3 L143.3,419.7 L143.5,419.1 L143.6,418.6 L143.8,418.0 L143.9,417.4 L144.1,416.8 L144.2,416.3 L144.4,415.7 L144.6,415.1 L144.7,414.5 L144.9,413.9 L145.0,413.4 L145.2,412.8 L145.3,412.2 L145.5,411.6 L145.6,411.1 L145.8,410.5 L145.9,409.9 L146.0,409.3 L146.2,408.7 L146.3,408.2 L146.5,407.6 L146.6,407.0 L146.8,406.4 L146.9,405.8 L147.0,405.3 L147.2,404.7 L147.3,404.1 L147.5,403.5 L147.6,402.9 L147.8,402.4 L147.9,401.8 L148.0,401.2 L148.2,400.6 L148.3,400.0 L148.4,399.5 L148.6,398.9 L148.7,398.3 L148.8,397.7 L149.0,397.1 L149.1,396.5 L149.2,396.0 L149.4,395.4 L149.5,394.8 L149.6,394.2 L149.8,393.6 L149.9,393.1 L150.0,392.5 L150.2,391.9 L150.3,391.3 L150.4,390.7 L150.5,390.1 L150.7,389.6 L150.8,389.0 L150.9,388.4 L151.1,387.8 L151.2,387.2 L151.3,386.6 L151.4,386.0 L151.6,385.5 L151.7,384.9 L151.8,384.3 L151.9,383.7 L152.0,383.1 L152.2,382.5 L152.3,382.0 L152.4,381.4 L152.5,380.8 L152.7,380.2 L152.8,379.6 L152.9,379.0 L153.0,378.4 L153.1,377.8 L153.2,377.3 L153.4,376.7 L153.5,376.1 L153.6,375.5 L153.7,374.9 L153.8,374.3 L154.0,373.7 L154.1,373.1 L154.2,372.6 L154.3,372.0 L154.4,371.4 L154.5,370.8 L154.6,370.2 L154.8,369.6 L154.9,369.0 L155.0,368.4 L155.1,367.8 L155.2,367.2 L155.3,366.7 L155.4,366.1 L155.6,365.5 L155.7,364.9 L155.8,364.3 L155.9,363.7 L156.0,363.1 L156.1,362.5 L156.2,361.9 L156.4,361.3 L156.5,360.8 L156.6,360.2 L156.7,359.6 L156.8,359.0 L156.9,358.4 L157.1,357.8 L157.2,357.2 L157.3,356.6 L157.4,356.0 L157.5,355.4 L157.6,354.9 L157.8,354.3 L157.9,353.7 L158.0,353.1 L158.1,352.5 L158.3,351.9 L158.4,351.3 L158.5,350.7 L158.6,350.2 L158.8,349.6 L158.9,349.0 L159.0,348.4 L159.2,347.8 L159.3,347.2 L159.4,346.6 L159.6,346.1 L159.7,345.5 L159.8,344.9 L160.0,344.3 L160.1,343.7 L160.3,343.1 L160.4,342.6 L160.6,342.0 L160.7,341.4 L160.9,340.8 L161.0,340.2 L161.2,339.7 L161.3,339.1 L161.5,338.5 L161.6,337.9 L161.8,337.3 L162.0,336.8 L162.1,336.2 L162.3,335.6 L162.5,335.1 L162.6,334.5 L162.8,333.9 L163.0,333.3 L163.2,332.8 L163.3,332.2 L163.5,331.6 L163.7,331.1 L163.9,330.5 L164.1,329.9 L164.3,329.4 L164.5,328.8 L164.7,328.2 L164.9,327.7 L165.1,327.1 L165.3,326.5 L165.5,326.0 L165.7,325.4 L165.9,324.9 L166.1,324.3 L166.3,323.8 L166.6,323.2 L166.8,322.6 L167.0,322.1 L167.2,321.5 L167.5,321.0 L167.7,320.4 L168.0,319.9 L168.2,319.3 L168.5,318.8 L168.7,318.3 L169.0,317.7 L169.2,317.2 L169.5,316.6 L169.7,316.1 L170.0,315.5 L170.3,315.0 L170.6,314.5 L170.8,313.9 L171.1,313.4 L171.4,312.9 L171.7,312.3 L172.0,311.8 L172.3,311.3 L172.6,310.8 L172.9,310.2 L173.2,309.7 L173.5,309.2 L173.9,308.7 L174.2,308.2 L174.6,307.8 L175.0,307.4 L175.5,307.0 L175.9,306.7 L176.5,306.5 L177.0,306.4 L177.6,306.3 L178.2,306.2 L178.9,306.2 L179.5,306.3 L180.1,306.4 L180.7,306.6 L181.2,306.9 L181.7,307.1 L182.2,307.5 L182.7,307.8 L183.2,308.2 L183.6,308.7 L184.0,309.1 L184.4,309.6 L184.8,310.0 L185.2,310.5 L185.6,311.0 L186.0,311.5 L186.3,312.0 L186.7,312.5 L187.0,313.0 L187.4,313.4 L187.8,313.9 L188.1,314.4 L188.4,314.9 L188.8,315.4 L189.1,315.9 L189.4,316.5 L189.7,317.0 L190.1,317.5 L190.4,318.0 L190.7,318.5 L191.0,319.0 L191.3,319.5 L191.6,320.1 L191.9,320.6 L192.1,321.1 L192.4,321.6 L192.7,322.1 L193.0,322.7 L193.3,323.2 L193.5,323.7 L193.8,324.3 L194.0,324.8 L194.3,325.3 L194.6,325.9 L194.8,326.4 L195.1,327.0 L195.3,327.5 L195.5,328.1 L195.8,328.6 L196.0,329.1 L196.2,329.7 L196.5,330.2 L196.7,330.8 L196.9,331.3 L197.2,331.9 L197.4,332.4 L197.6,333.0 L197.8,333.6 L198.0,334.1 L198.2,334.7 L198.5,335.2 L198.7,335.8 L198.9,336.3 L199.1,336.9 L199.3,337.5 L199.5,338.0 L199.7,338.6 L199.9,339.2 L200.1,339.7 L200.3,340.3 L200.5,340.8 L200.7,341.4 L200.9,342.0 L201.1,342.5 L201.3,343.1 L201.5,343.7 L201.7,344.2 L201.9,344.8 L202.1,345.4 L202.3,345.9 L202.5,346.5 L202.7,347.1 L202.8,347.6 L203.0,348.2 L203.2,348.8 L203.4,349.3 L203.6,349.9 L203.8,350.5 L204.0,351.0 L204.2,351.6 L204.4,352.2 L204.6,352.7 L204.8,353.3 L205.0,353.9 L205.2,354.4 L205.4,355.0 L205.6,355.6 L205.8,356.1 L206.0,356.7 L206.2,357.3 L206.4,357.8 L206.6,358.4 L206.8,359.0 L207.0,359.5 L207.2,360.1 L207.4,360.7 L207.6,361.2 L207.8,361.8 L208.0,362.4 L208.2,362.9 L208.4,363.5 L208.7,364.0 L208.9,364.6 L209.1,365.2 L209.3,365.7 L209.5,366.3 L209.7,366.9 L209.9,367.4 L210.1,368.0 L210.3,368.5 L210.5,369.1 L210.8,369.7 L211.0,370.2 L211.2,370.8 L211.4,371.4 L211.6,371.9 L211.8,372.5 L212.0,373.0 L212.3,373.6 L212.5,374.2 L212.7,374.7 L212.9,375.3 L213.1,375.8 L213.4,376.4 L213.6,376.9 L213.8,377.5 L214.0,378.1 L214.2,378.6 L214.5,379.2 L214.7,379.7 L214.9,380.3 L215.1,380.8 L215.4,381.4 L215.6,382.0 L215.8,382.5 L216.0,383.1 L216.3,383.6 L216.5,384.2 L216.7,384.7 L217.0,385.3 L217.2,385.8 L217.4,386.4 L217.7,386.9 L217.9,387.5 L218.1,388.0 L218.4,388.6 L218.6,389.1 L218.8,389.7 L219.1,390.2 L219.3,390.8 L219.5,391.3 L219.8,391.9 L220.0,392.4 L220.3,393.0 L220.5,393.5 L220.7,394.1 L221.0,394.6 L221.2,395.2 L221.5,395.7 L221.7,396.3 L222.0,396.8 L222.2,397.4 L222.4,397.9 L222.7,398.5 L222.9,399.0 L223.2,399.6 L223.4,400.1 L223.7,400.6 L223.9,401.2 L224.2,401.7 L224.4,402.3 L224.7,402.8 L224.9,403.3 L225.2,403.9 L225.5,404.4 L225.7,405.0 L226.0,405.5 L226.2,406.0 L226.5,406.6 L226.8,407.1 L227.0,407.7 L227.3,408.2 L227.5,408.7 L227.8,409.3 L228.1,409.8 L228.3,410.3 L228.6,410.9 L228.9,411.4 L229.1,411.9 L229.4,412.5 L229.7,413.0 L229.9,413.5 L230.2,414.1 L230.5,414.6 L230.8,415.1 L231.0,415.7 L231.3,416.2 L231.6,416.7 L231.9,417.3 L232.2,417.8 L232.4,418.3 L232.7,418.8 L233.0,419.4 L233.3,419.9 L233.6,420.4 L233.9,420.9 L234.2,421.5 L234.4,422.0 L234.7,422.5 L235.0,423.0 L235.3,423.6 L235.6,424.1 L235.9,424.6 L236.2,425.1 L236.5,425.6 L236.8,426.2 L237.1,426.7 L237.4,427.2 L237.7,427.7 L238.0,428.2 L238.3,428.7 L238.6,429.3 L238.9,429.8 L239.2,430.3 L239.5,430.8 L239.8,431.3 L240.2,431.8 L240.5,432.3 L240.8,432.8 L241.1,433.4 L241.4,433.9 L241.7,434.4 L242.1,434.9 L242.4,435.4 L242.7,435.9 L243.0,436.4 L243.3,436.9 L243.7,437.4 L244.0,437.9 L244.3,438.4 L244.7,438.9 L245.0,439.4 L245.3,439.9 L245.7,440.4 L246.0,440.9 L246.3,441.4" fill="none" stroke="#3434e6" stroke-width="1.30" stroke-linejoin="round" stroke-linecap="round"/>
<path d="M78.7,486.7 L79.1,486.3 L79.5,485.8 L79.9,485.4 L80.3,484.9 L80.7,484.5 L81.1,484.1 L81.5,483.6 L82.0,483.2 L82.4,482.8 L82.8,482.3 L83.2,481.9 L83.6,481.4 L84.0,481.0 L84.4,480.6 L84.9,480.1 L85.3,479.7 L85.7,479.3 L86.1,478.9 L86.5,478.4 L87.0,478.0 L87.4,477.6 L87.8,477.2 L88.3,476.7 L88.7,476.3 L89.1,475.9 L89.6,475.5 L90.0,475.1 L90.4,474.7 L90.9,474.3 L91.3,473.9 L91.8,473.5 L92.2,473.1 L92.7,472.7 L93.1,472.3 L93.6,471.9 L94.1,471.6 L94.5,471.2 L95.0,470.8 L95.5,470.5 L95.9,470.1 L96.4,469.7 L96.9,469.4 L97.4,469.0 L97.9,468.7 L98.4,468.3 L98.9,468.0 L99.3,467.7 L99.8,467.3 L100.4,467.0 L100.9,466.7 L101.4,466.4 L101.9,466.1 L102.4,465.8 L102.9,465.5 L103.4,465.2 L104.0,464.9 L104.5,464.6 L105.0,464.3 L105.5,464.0 L106.1,463.7 L106.6,463.4 L107.1,463.1 L107.6,462.9 L108.2,462.6 L108.7,462.3 L109.2,462.0 L109.7,461.7 L110.3,461.4 L110.8,461.0 L111.3,460.7 L111.8,460.4 L112.3,460.1 L112.8,459.7 L113.3,459.4 L113.8,459.0 L114.3,458.7 L114.8,458.3 L115.2,457.9 L115.7,457.6 L116.2,457.2 L116.6,456.8 L117.0,456.4 L117.5,456.0 L117.9,455.6 L118.3,455.1 L118.7,454.7 L119.1,454.3 L119.5,453.8 L119.9,453.4 L120.2,452.9 L120.6,452.4 L120.9,451.9 L121.3,451.5 L121.6,451.0 L121.9,450.5 L122.2,450.0 L122.5,449.4 L122.8,448.9 L123.1,448.4 L123.3,447.9 L123.6,447.3 L123.9,446.8 L124.1,446.3 L124.4,445.7 L124.6,445.2 L124.8,444.6 L125.1,444.0 L125.3,443.5 L125.5,442.9 L125.7,442.3 L125.9,441.8 L126.2,441.2 L126.4,440.6 L126.6,440.1 L126.8,439.5 L127.0,438.9 L127.2,438.3 L127.3,437.7 L127.5,437.2 L127.7,436.6 L127.9,436.0 L128.1,435.4 L128.3,434.9 L128.5,434.3 L128.7,433.7 L128.9,433.1 L129.1,432.6 L129.3,432.0 L129.4,431.4 L129.6,430.8 L129.8,430.3 L130.0,429.7 L130.2,429.1 L130.4,428.6 L130.6,428.0 L130.8,427.4 L131.0,426.9 L131.1,426.3 L131.3,425.7 L131.5,425.2 L131.7,424.6 L131.9,424.0 L132.1,423.5 L132.3,422.9 L132.5,422.3 L132.6,421.8 L132.8,421.2 L133.0,420.6 L133.2,420.1 L133.4,419.5 L133.6,419.0 L133.8,418.4 L133.9,417.8 L134.1,417.3 L134.3,416.7 L134.5,416.1 L134.7,415.6 L134.9,415.0 L135.0,414.4 L135.2,413.9 L135.4,413.3 L135.6,412.7 L135.8,412.2 L135.9,411.6 L136.1,411.0 L136.3,410.5 L136.5,409.9 L136.6,409.3 L136.8,408.8 L137.0,408.2 L137.2,407.6 L137.3,407.0 L137.5,406.5 L137.7,405.9 L137.9,405.3 L138.0,404.7 L138.2,404.2 L138.4,403.6 L138.5,403.0 L138.7,402.4 L138.9,401.9 L139.0,401.3 L139.2,400.7 L139.4,400.1 L139.5,399.5 L139.7,398.9 L139.8,398.4 L140.0,397.8 L140.2,397.2 L140.3,396.6 L140.5,396.0 L140.6,395.4 L140.8,394.8 L141.0,394.3 L141.1,393.7 L141.3,393.1 L141.4,392.5 L141.6,391.9 L141.7,391.3 L141.9,390.7 L142.1,390.1 L142.2,389.5 L142.4,389.0 L142.5,388.4 L142.7,387.8 L142.8,387.2 L143.0,386.6 L143.1,386.0 L143.3,385.4 L143.5,384.8 L143.6,384.3 L143.8,383.7 L143.9,383.1 L144.1,382.5 L144.2,381.9 L144.4,381.3 L144.5,380.7 L144.7,380.1 L144.9,379.6 L145.0,379.0 L145.2,378.4 L145.3,377.8 L145.5,377.2 L145.6,376.7 L145.8,376.1 L145.9,375.5 L146.1,374.9 L146.3,374.3 L146.4,373.8 L146.6,373.2 L146.7,372.6 L146.9,372.0 L147.0,371.5 L147.2,370.9 L147.4,370.3 L147.5,369.8 L147.7,369.2 L147.8,368.6 L148.0,368.1 L148.2,367.5 L148.3,366.9 L148.5,366.4 L148.7,365.8 L148.8,365.2 L149.0,364.7 L149.2,364.1 L149.3,363.6 L149.5,363.0 L149.7,362.4 L149.8,361.9 L150.0,361.3 L150.2,360.8 L150.3,360.2 L150.5,359.7 L150.7,359.1 L150.8,358.5 L151.0,358.0 L151.2,357.4 L151.3,356.9 L151.5,356.3 L151.7,355.8 L151.8,355.2 L152.0,354.6 L152.2,354.1 L152.3,353.5 L152.5,353.0 L152.7,352.4 L152.8,351.8 L153.0,351.3 L153.2,350.7 L153.4,350.2 L153.5,349.6 L153.7,349.0 L153.9,348.5 L154.0,347.9 L154.2,347.3 L154.4,346.8 L154.5,346.2 L154.7,345.6 L154.9,345.1 L155.0,344.5 L155.2,343.9 L155.4,343.3 L155.6,342.8 L155.7,342.2 L155.9,341.6 L156.1,341.0 L156.2,340.4 L156.4,339.9 L156.6,339.3 L156.7,338.7 L156.9,338.1 L157.1,337.5 L157.2,336.9 L157.4,336.3 L157.5,335.7 L157.7,335.1 L157.9,334.5 L158.0,333.9 L158.2,333.3 L158.4,332.7 L158.5,332.1 L158.7,331.4 L158.8,330.8 L159.0,330.2 L159.2,329.6 L159.3,328.9 L159.5,328.3 L159.6,327.7 L159.8,327.1 L160.0,326.4 L160.1,325.8 L160.3,325.2 L160.5,324.5 L160.6,323.9 L160.8,323.3 L161.0,322.7 L161.2,322.0 L161.4,321.4 L161.6,320.8 L161.8,320.2 L162.0,319.6 L162.2,319.0 L162.4,318.4 L162.6,317.8 L162.9,317.2 L163.1,316.7 L163.3,316.1 L163.6,315.6 L163.9,315.0 L164.2,314.5 L164.4,314.0 L164.7,313.5 L165.0,313.0 L165.4,312.5 L165.7,312.0 L166.1,311.6 L166.4,311.1 L166.8,310.7 L167.2,310.3 L167.6,309.9 L168.0,309.5 L168.4,309.1 L168.9,308.8 L169.3,308.4 L169.8,308.1 L170.3,307.8 L170.8,307.5 L171.3,307.3 L171.9,307.0 L172.4,306.8 L173.0,306.7 L173.5,306.5 L174.1,306.5 L174.7,306.4 L175.3,306.4 L175.8,306.5 L176.4,306.6 L177.0,306.7 L177.6,306.9 L178.1,307.0 L178.7,307.3 L179.2,307.5 L179.7,307.8 L180.3,308.1 L180.8,308.4 L181.3,308.7 L181.7,309.0 L182.2,309.4 L182.6,309.7 L183.1,310.1 L183.5,310.5 L183.9,310.9 L184.3,311.3 L184.7,311.7 L185.1,312.1 L185.5,312.6 L185.9,313.0 L186.2,313.5 L186.6,313.9 L186.9,314.4 L187.2,314.9 L187.5,315.4 L187.9,315.9 L188.2,316.4 L188.5,316.9 L188.7,317.5 L189.0,318.0 L189.3,318.5 L189.6,319.1 L189.8,319.6 L190.1,320.2 L190.4,320.8 L190.6,321.3 L190.8,321.9 L191.1,322.5 L191.3,323.1 L191.6,323.6 L191.8,324.2 L192.0,324.8 L192.2,325.4 L192.5,326.0 L192.7,326.6 L192.9,327.2 L193.1,327.8 L193.3,328.4 L193.5,329.0 L193.7,329.6 L194.0,330.1 L194.2,330.7 L194.4,331.3 L194.6,331.9 L194.8,332.5 L195.0,333.1 L195.2,333.7 L195.4,334.3 L195.6,334.9 L195.9,335.5 L196.1,336.0 L196.3,336.6 L196.5,337.2 L196.7,337.8 L196.9,338.4 L197.1,339.0 L197.3,339.5 L197.5,340.1 L197.8,340.7 L198.0,341.3 L198.2,341.9 L198.4,342.4 L198.6,343.0 L198.8,343.6 L199.0,344.2 L199.2,344.7 L199.4,345.3 L199.6,345.9 L199.8,346.5 L200.1,347.0 L200.3,347.6 L200.5,348.2 L200.7,348.8 L200.9,349.3 L201.1,349.9 L201.3,350.5 L201.5,351.0 L201.7,351.6 L201.9,352.2 L202.1,352.7 L202.4,353.3 L202.6,353.9 L202.8,354.4 L203.0,355.0 L203.2,355.6 L203.4,356.1 L203.6,356.7 L203.8,357.3 L204.0,357.8 L204.2,358.4 L204.5,358.9 L204.7,359.5 L204.9,360.1 L205.1,360.6 L205.3,361.2 L205.5,361.7 L205.7,362.3 L205.9,362.9 L206.1,363.4 L206.3,364.0 L206.6,364.5 L206.8,365.1 L207.0,365.7 L207.2,366.2 L207.4,366.8 L207.6,367.3 L207.8,367.9 L208.0,368.4 L208.2,369.0 L208.5,369.5 L208.7,370.1 L208.9,370.7 L209.1,371.2 L209.3,371.8 L209.5,372.3 L209.7,372.9 L209.9,373.4 L210.2,374.0 L210.4,374.5 L210.6,375.1 L210.8,375.6 L211.0,376.2 L211.2,376.7 L211.4,377.3 L211.7,377.8 L211.9,378.4 L212.1,378.9 L212.3,379.5 L212.5,380.0 L212.7,380.6 L213.0,381.1 L213.2,381.7 L213.4,382.2 L213.6,382.8 L213.8,383.3 L214.0,383.9 L214.3,384.4 L214.5,385.0 L214.7,385.5 L214.9,386.1 L215.1,386.6 L215.4,387.2 L215.6,387.7 L215.8,388.3 L216.0,388.8 L216.2,389.4 L216.5,389.9 L216.7,390.5 L216.9,391.0 L217.1,391.6 L217.4,392.1 L217.6,392.7 L217.8,393.2 L218.0,393.8 L218.2,394.3 L218.5,394.9 L218.7,395.4 L218.9,396.0 L219.2,396.5 L219.4,397.1 L219.6,397.6 L219.8,398.2 L220.1,398.7 L220.3,399.3 L220.5,399.8 L220.8,400.4 L221.0,400.9 L221.2,401.5 L221.4,402.0 L221.7,402.6 L221.9,403.1 L222.1,403.7 L222.4,404.2 L222.6,404.8 L222.8,405.3 L223.1,405.9 L223.3,406.4 L223.6,407.0 L223.8,407.5 L224.0,408.1 L224.3,408.6 L224.5,409.2 L224.7,409.7 L225.0,410.3 L225.2,410.8 L225.5,411.4 L225.7,411.9 L225.9,412.5 L226.2,413.0 L226.4,413.6 L226.7,414.2 L226.9,414.7 L227.2,415.3 L227.4,415.8 L227.7,416.4 L227.9,416.9 L228.2,417.5 L228.4,418.0 L228.7,418.6 L228.9,419.1 L229.2,419.7 L229.4,420.2 L229.7,420.8 L229.9,421.3 L230.2,421.9 L230.4,422.4 L230.7,423.0 L231.0,423.5 L231.2,424.1 L231.5,424.6 L231.7,425.2 L232.0,425.7 L232.3,426.3 L232.5,426.8 L232.8,427.3 L233.1,427.9 L233.3,428.4 L233.6,429.0 L233.9,429.5 L234.2,430.0 L234.4,430.6 L234.7,431.1 L235.0,431.6 L235.3,432.2 L235.6,432.7 L235.9,433.2 L236.1,433.8 L236.4,434.3 L236.7,434.8 L237.0,435.4 L237.3,435.9 L237.6,436.4 L237.9,436.9 L238.2,437.5 L238.5,438.0 L238.8,438.5 L239.1,439.0 L239.4,439.5 L239.7,440.0 L240.0,440.6 L240.3,441.1 L240.6,441.6 L240.9,442.1 L241.3,442.6 L241.6,443.1 L241.9,443.6 L242.2,444.1 L242.5,444.6 L242.9,445.1 L243.2,445.6 L243.5,446.1 L243.9,446.6 L244.2,447.1 L244.5,447.5 L244.9,448.0 L245.2,448.5 L245.5,449.0 L245.9,449.5 L246.2,449.9" fill="none" stroke="#f43c3c" stroke-width="1.50" stroke-linejoin="round" stroke-linecap="round"/>
<path d="M96.3,488.3 L96.8,487.9 L97.3,487.6 L97.9,487.2 L98.4,486.9 L98.9,486.7 L99.5,486.4 L100.0,486.2 L100.6,485.9 L101.1,485.8 L101.7,485.6 L102.3,485.4 L102.8,485.3 L103.4,485.2 L104.0,485.1 L104.6,485.0 L105.1,484.9 L105.7,484.9 L106.3,484.8 L106.9,484.8 L107.5,484.8 L108.1,484.8 L108.7,484.8 L109.3,484.8 L109.9,484.8 L110.5,484.9 L111.1,484.9 L111.8,484.9 L112.4,484.9 L113.0,485.0 L113.6,485.0 L114.2,485.0 L114.8,485.1 L115.4,485.1 L116.0,485.1 L116.6,485.0 L117.2,485.0 L117.8,484.9 L118.4,484.9 L119.0,484.7 L119.5,484.6 L120.1,484.4 L120.6,484.2 L121.2,484.0 L121.7,483.7 L122.2,483.5 L122.7,483.1 L123.2,482.8 L123.7,482.4 L124.2,482.1 L124.7,481.7 L125.1,481.3 L125.5,480.8 L126.0,480.4 L126.4,480.0 L126.8,479.5 L127.2,479.0 L127.6,478.6 L127.9,478.1 L128.3,477.6 L128.6,477.1 L129.0,476.6 L129.3,476.1 L129.6,475.6 L129.9,475.1 L130.2,474.6 L130.5,474.1 L130.8,473.6 L131.0,473.1 L131.3,472.5 L131.6,472.0 L131.8,471.4 L132.1,470.9 L132.3,470.4 L132.6,469.8 L132.8,469.3 L133.0,468.7 L133.2,468.1 L133.5,467.6 L133.7,467.0 L133.9,466.5 L134.1,465.9 L134.3,465.3 L134.5,464.8 L134.7,464.2 L134.9,463.6 L135.1,463.1 L135.3,462.5 L135.5,461.9 L135.7,461.4 L135.9,460.8 L136.1,460.2 L136.3,459.7 L136.5,459.1 L136.7,458.5 L136.9,458.0 L137.1,457.4 L137.3,456.8 L137.5,456.3 L137.7,455.7 L137.9,455.1 L138.1,454.6 L138.3,454.0 L138.4,453.4 L138.6,452.8 L138.8,452.3 L139.0,451.7 L139.2,451.1 L139.4,450.6 L139.6,450.0 L139.8,449.4 L139.9,448.9 L140.1,448.3 L140.3,447.7 L140.5,447.1 L140.7,446.6 L140.9,446.0 L141.0,445.4 L141.2,444.9 L141.4,444.3 L141.6,443.7 L141.8,443.1 L141.9,442.6 L142.1,442.0 L142.3,441.4 L142.5,440.8 L142.6,440.3 L142.8,439.7 L143.0,439.1 L143.1,438.5 L143.3,438.0 L143.5,437.4 L143.7,436.8 L143.8,436.2 L144.0,435.7 L144.2,435.1 L144.3,434.5 L144.5,433.9 L144.7,433.4 L144.8,432.8 L145.0,432.2 L145.1,431.6 L145.3,431.1 L145.5,430.5 L145.6,429.9 L145.8,429.3 L145.9,428.7 L146.1,428.2 L146.2,427.6 L146.4,427.0 L146.6,426.4 L146.7,425.9 L146.9,425.3 L147.0,424.7 L147.2,424.1 L147.3,423.5 L147.5,423.0 L147.6,422.4 L147.7,421.8 L147.9,421.2 L148.0,420.6 L148.2,420.1 L148.3,419.5 L148.5,418.9 L148.6,418.3 L148.7,417.7 L148.9,417.2 L149.0,416.6 L149.2,416.0 L149.3,415.4 L149.4,414.8 L149.6,414.2 L149.7,413.7 L149.8,413.1 L150.0,412.5 L150.1,411.9 L150.2,411.3 L150.4,410.7 L150.5,410.2 L150.6,409.6 L150.7,409.0 L150.9,408.4 L151.0,407.8 L151.1,407.2 L151.2,406.7 L151.4,406.1 L151.5,405.5 L151.6,404.9 L151.7,404.3 L151.9,403.7 L152.0,403.1 L152.1,402.6 L152.2,402.0 L152.3,401.4 L152.5,400.8 L152.6,400.2 L152.7,399.6 L152.8,399.0 L152.9,398.5 L153.1,397.9 L153.2,397.3 L153.3,396.7 L153.4,396.1 L153.5,395.5 L153.6,394.9 L153.7,394.4 L153.9,393.8 L154.0,393.2 L154.1,392.6 L154.2,392.0 L154.3,391.4 L154.4,390.8 L154.5,390.2 L154.6,389.7 L154.8,389.1 L154.9,388.5 L155.0,387.9 L155.1,387.3 L155.2,386.7 L155.3,386.1 L155.4,385.5 L155.5,384.9 L155.6,384.4 L155.7,383.8 L155.9,383.2 L156.0,382.6 L156.1,382.0 L156.2,381.4 L156.3,380.8 L156.4,380.2 L156.5,379.6 L156.6,379.1 L156.7,378.5 L156.8,377.9 L156.9,377.3 L157.0,376.7 L157.1,376.1 L157.3,375.5 L157.4,374.9 L157.5,374.3 L157.6,373.8 L157.7,373.2 L157.8,372.6 L157.9,372.0 L158.0,371.4 L158.1,370.8 L158.2,370.2 L158.3,369.6 L158.4,369.0 L158.5,368.4 L158.6,367.9 L158.7,367.3 L158.9,366.7 L159.0,366.1 L159.1,365.5 L159.2,364.9 L159.3,364.3 L159.4,363.7 L159.5,363.1 L159.6,362.5 L159.7,362.0 L159.8,361.4 L159.9,360.8 L160.0,360.2 L160.2,359.6 L160.3,359.0 L160.4,358.4 L160.5,357.8 L160.6,357.2 L160.7,356.6 L160.8,356.1 L160.9,355.5 L161.0,354.9 L161.2,354.3 L161.3,353.7 L161.4,353.1 L161.5,352.5 L161.6,351.9 L161.7,351.3 L161.8,350.8 L161.9,350.2 L162.1,349.6 L162.2,349.0 L162.3,348.4 L162.4,347.8 L162.5,347.2 L162.7,346.6 L162.8,346.0 L162.9,345.5 L163.0,344.9 L163.1,344.3 L163.3,343.7 L163.4,343.1 L163.5,342.5 L163.6,341.9 L163.8,341.3 L163.9,340.8 L164.0,340.2 L164.2,339.6 L164.3,339.0 L164.4,338.4 L164.6,337.8 L164.7,337.2 L164.8,336.7 L165.0,336.1 L165.1,335.5 L165.3,334.9 L165.4,334.3 L165.6,333.8 L165.7,333.2 L165.9,332.6 L166.1,332.0 L166.2,331.5 L166.4,330.9 L166.5,330.3 L166.7,329.7 L166.9,329.2 L167.1,328.6 L167.2,328.0 L167.4,327.4 L167.6,326.9 L167.8,326.3 L168.0,325.7 L168.2,325.2 L168.4,324.6 L168.6,324.0 L168.8,323.5 L169.0,322.9 L169.2,322.4 L169.4,321.8 L169.6,321.2 L169.8,320.7 L170.1,320.1 L170.3,319.6 L170.5,319.0 L170.8,318.5 L171.0,317.9 L171.3,317.4 L171.5,316.8 L171.8,316.3 L172.0,315.7 L172.3,315.2 L172.6,314.7 L172.8,314.1 L173.1,313.6 L173.4,313.0 L173.7,312.5 L174.0,312.0 L174.3,311.4 L174.6,310.9 L174.9,310.4 L175.2,309.9 L175.5,309.3 L175.8,308.8 L176.2,308.4 L176.6,307.9 L177.0,307.5 L177.4,307.1 L177.9,306.8 L178.4,306.6 L179.0,306.4 L179.6,306.3 L180.2,306.2 L180.8,306.2 L181.5,306.3 L182.1,306.4 L182.6,306.6 L183.2,306.8 L183.7,307.1 L184.1,307.5 L184.6,307.9 L185.0,308.3 L185.4,308.7 L185.7,309.2 L186.1,309.7 L186.4,310.2 L186.8,310.7 L187.1,311.2 L187.5,311.7 L187.8,312.2 L188.1,312.7 L188.4,313.2 L188.8,313.7 L189.1,314.2 L189.4,314.7 L189.7,315.2 L190.0,315.7 L190.4,316.2 L190.7,316.8 L191.0,317.3 L191.3,317.8 L191.6,318.3 L191.9,318.8 L192.2,319.3 L192.5,319.9 L192.8,320.4 L193.1,320.9 L193.4,321.4 L193.6,322.0 L193.9,322.5 L194.2,323.0 L194.5,323.5 L194.8,324.1 L195.0,324.6 L195.3,325.1 L195.6,325.7 L195.8,326.2 L196.1,326.7 L196.4,327.3 L196.6,327.8 L196.9,328.3 L197.2,328.9 L197.4,329.4 L197.7,329.9 L197.9,330.5 L198.2,331.0 L198.4,331.6 L198.7,332.1 L198.9,332.7 L199.2,333.2 L199.4,333.7 L199.6,334.3 L199.9,334.8 L200.1,335.4 L200.4,335.9 L200.6,336.5 L200.8,337.0 L201.1,337.6 L201.3,338.1 L201.5,338.7 L201.8,339.2 L202.0,339.8 L202.2,340.3 L202.4,340.9 L202.6,341.4 L202.9,342.0 L203.1,342.5 L203.3,343.1 L203.5,343.7 L203.7,344.2 L204.0,344.8 L204.2,345.3 L204.4,345.9 L204.6,346.4 L204.8,347.0 L205.0,347.6 L205.2,348.1 L205.4,348.7 L205.6,349.2 L205.9,349.8 L206.1,350.4 L206.3,350.9 L206.5,351.5 L206.7,352.1 L206.9,352.6 L207.1,353.2 L207.3,353.7 L207.5,354.3 L207.7,354.9 L207.9,355.4 L208.1,356.0 L208.3,356.6 L208.5,357.1 L208.7,357.7 L208.9,358.3 L209.1,358.8 L209.3,359.4 L209.5,360.0 L209.7,360.5 L209.9,361.1 L210.1,361.7 L210.3,362.2 L210.4,362.8 L210.6,363.4 L210.8,363.9 L211.0,364.5 L211.2,365.1 L211.4,365.6 L211.6,366.2 L211.8,366.8 L212.0,367.3 L212.2,367.9 L212.4,368.5 L212.6,369.0 L212.8,369.6 L213.0,370.2 L213.2,370.7 L213.4,371.3 L213.6,371.9 L213.8,372.4 L214.0,373.0 L214.2,373.6 L214.4,374.1 L214.6,374.7 L214.8,375.3 L215.0,375.8 L215.2,376.4 L215.4,377.0 L215.6,377.5 L215.8,378.1 L216.0,378.7 L216.2,379.2 L216.4,379.8 L216.6,380.4 L216.8,380.9 L217.0,381.5 L217.2,382.1 L217.4,382.6 L217.6,383.2 L217.8,383.8 L218.0,384.3 L218.2,384.9 L218.4,385.4 L218.7,386.0 L218.9,386.6 L219.1,387.1 L219.3,387.7 L219.5,388.2 L219.7,388.8 L220.0,389.4 L220.2,389.9 L220.4,390.5 L220.6,391.0 L220.8,391.6 L221.1,392.1 L221.3,392.7 L221.5,393.3 L221.7,393.8 L222.0,394.4 L222.2,394.9 L222.4,395.5 L222.7,396.0 L222.9,396.6 L223.2,397.1 L223.4,397.7 L223.6,398.2 L223.9,398.8 L224.1,399.3 L224.4,399.9 L224.6,400.4 L224.9,401.0 L225.1,401.5 L225.4,402.0 L225.6,402.6 L225.9,403.1 L226.1,403.7 L226.4,404.2 L226.6,404.7 L226.9,405.3 L227.2,405.8 L227.4,406.4 L227.7,406.9 L228.0,407.4 L228.2,408.0 L228.5,408.5 L228.8,409.0 L229.1,409.6 L229.3,410.1 L229.6,410.6 L229.9,411.2 L230.2,411.7 L230.5,412.2 L230.8,412.7 L231.0,413.3 L231.3,413.8 L231.6,414.3 L231.9,414.8 L232.2,415.3 L232.5,415.9 L232.8,416.4 L233.1,416.9 L233.4,417.4 L233.7,417.9 L234.0,418.4 L234.3,419.0 L234.6,419.5 L234.9,420.0 L235.3,420.5 L235.6,421.0 L235.9,421.5 L236.2,422.0 L236.5,422.5 L236.9,423.0 L237.2,423.5 L237.5,424.0 L237.8,424.5 L238.1,425.0 L238.5,425.5 L238.8,426.0 L239.1,426.5 L239.4,427.0 L239.8,427.5 L240.1,428.0 L240.4,428.5 L240.7,429.1 L241.0,429.6 L241.3,430.1 L241.6,430.6 L241.9,431.1 L242.2,431.6 L242.5,432.1 L242.8,432.7 L243.1,433.2 L243.4,433.7 L243.7,434.2 L244.0,434.8 L244.2,435.3 L244.5,435.8 L244.8,436.4 L245.0,436.9 L245.3,437.5 L245.5,438.0 L245.8,438.6 L246.0,439.1 L246.2,439.7" fill="none" stroke="#1ee01e" stroke-width="1.30" stroke-linejoin="round" stroke-linecap="round"/>
<path d="M82.4,480.4 L83.0,480.3 L83.6,480.1 L84.1,479.9 L84.6,479.7 L85.1,479.4 L85.6,479.1 L86.0,478.7 L86.4,478.4 L86.9,478.0 L87.3,477.6 L87.7,477.1 L88.0,476.7 L88.4,476.2 L88.8,475.8 L89.1,475.3 L89.5,474.9 L89.8,474.4 L90.1,473.9 L90.4,473.4 L90.8,472.9 L91.1,472.4 L91.4,471.9 L91.7,471.4 L92.0,470.8 L92.2,470.3 L92.5,469.8 L92.8,469.2 L93.1,468.7 L93.3,468.2 L93.6,467.6 L93.8,467.1 L94.1,466.5 L94.3,466.0 L94.6,465.4 L94.8,464.8 L95.1,464.3 L95.3,463.7 L95.6,463.2 L95.8,462.6 L96.0,462.0 L96.3,461.5 L96.5,460.9 L96.7,460.4 L97.0,459.8 L97.2,459.2 L97.4,458.7 L97.6,458.1 L97.9,457.5 L98.1,457.0 L98.3,456.4 L98.5,455.8 L98.7,455.3 L99.0,454.7 L99.2,454.2 L99.4,453.6 L99.6,453.0 L99.8,452.5 L100.1,451.9 L100.3,451.3 L100.5,450.8 L100.7,450.2 L100.9,449.7 L101.2,449.1 L101.4,448.5 L101.6,448.0 L101.8,447.4 L102.1,446.9 L102.3,446.3 L102.5,445.7 L102.7,445.2 L103.0,444.6 L103.2,444.1 L103.4,443.5 L103.7,443.0 L103.9,442.4 L104.1,441.9 L104.4,441.3 L104.6,440.8 L104.9,440.2 L105.1,439.7 L105.4,439.1 L105.6,438.6 L105.9,438.1 L106.1,437.5 L106.4,437.0 L106.6,436.5 L106.9,435.9 L107.2,435.4 L107.4,434.9 L107.7,434.3 L108.0,433.8 L108.3,433.3 L108.6,432.8 L108.9,432.2 L109.1,431.7 L109.4,431.2 L109.7,430.7 L110.0,430.2 L110.4,429.7 L110.7,429.2 L111.0,428.7 L111.3,428.2 L111.6,427.7 L111.9,427.2 L112.3,426.7 L112.6,426.2 L112.9,425.7 L113.3,425.2 L113.6,424.7 L113.9,424.2 L114.3,423.7 L114.6,423.2 L115.0,422.7 L115.3,422.2 L115.7,421.7 L116.0,421.3 L116.4,420.8 L116.7,420.3 L117.1,419.8 L117.4,419.3 L117.8,418.8 L118.2,418.4 L118.5,417.9 L118.9,417.4 L119.2,416.9 L119.6,416.4 L120.0,416.0 L120.3,415.5 L120.7,415.0 L121.1,414.5 L121.4,414.1 L121.8,413.6 L122.2,413.1 L122.5,412.6 L122.9,412.1 L123.2,411.7 L123.6,411.2 L124.0,410.7 L124.3,410.2 L124.7,409.7 L125.0,409.3 L125.4,408.8 L125.8,408.3 L126.1,407.8 L126.5,407.3 L126.8,406.8 L127.2,406.4 L127.5,405.9 L127.9,405.4 L128.2,404.9 L128.6,404.4 L128.9,403.9 L129.2,403.4 L129.6,402.9 L129.9,402.4 L130.2,401.9 L130.6,401.4 L130.9,400.9 L131.2,400.4 L131.5,399.9 L131.9,399.4 L132.2,398.9 L132.5,398.4 L132.8,397.9 L133.1,397.4 L133.4,396.8 L133.7,396.3 L134.0,395.8 L134.3,395.3 L134.5,394.7 L134.8,394.2 L135.1,393.7 L135.4,393.2 L135.6,392.6 L135.9,392.1 L136.2,391.5 L136.4,391.0 L136.7,390.5 L136.9,389.9 L137.2,389.4 L137.5,388.8 L137.7,388.3 L137.9,387.7 L138.2,387.2 L138.4,386.6 L138.7,386.1 L138.9,385.5 L139.2,385.0 L139.4,384.4 L139.6,383.9 L139.9,383.3 L140.1,382.8 L140.3,382.2 L140.6,381.7 L140.8,381.1 L141.0,380.5 L141.3,380.0 L141.5,379.4 L141.7,378.9 L141.9,378.3 L142.2,377.8 L142.4,377.2 L142.6,376.7 L142.9,376.1 L143.1,375.6 L143.3,375.0 L143.6,374.4 L143.8,373.9 L144.1,373.4 L144.3,372.8 L144.5,372.3 L144.8,371.7 L145.0,371.2 L145.3,370.6 L145.5,370.1 L145.8,369.5 L146.0,369.0 L146.3,368.5 L146.6,367.9 L146.8,367.4 L147.1,366.9 L147.3,366.3 L147.6,365.8 L147.9,365.3 L148.1,364.7 L148.4,364.2 L148.7,363.7 L148.9,363.1 L149.2,362.6 L149.5,362.1 L149.7,361.5 L150.0,361.0 L150.3,360.5 L150.5,359.9 L150.8,359.4 L151.0,358.9 L151.3,358.3 L151.5,357.8 L151.8,357.3 L152.0,356.7 L152.3,356.2 L152.5,355.6 L152.8,355.1 L153.0,354.5 L153.2,354.0 L153.5,353.4 L153.7,352.9 L153.9,352.3 L154.1,351.8 L154.4,351.2 L154.6,350.7 L154.8,350.1 L155.0,349.5 L155.2,348.9 L155.3,348.4 L155.5,347.8 L155.7,347.2 L155.9,346.6 L156.1,346.1 L156.2,345.5 L156.4,344.9 L156.6,344.3 L156.7,343.7 L156.9,343.1 L157.0,342.5 L157.2,341.9 L157.4,341.3 L157.5,340.7 L157.7,340.1 L157.8,339.5 L158.0,338.9 L158.1,338.3 L158.3,337.7 L158.4,337.1 L158.5,336.5 L158.7,335.9 L158.8,335.3 L159.0,334.7 L159.1,334.1 L159.3,333.6 L159.4,333.0 L159.6,332.4 L159.8,331.8 L159.9,331.2 L160.1,330.6 L160.2,330.0 L160.4,329.4 L160.6,328.8 L160.8,328.2 L160.9,327.7 L161.1,327.1 L161.3,326.5 L161.5,325.9 L161.7,325.4 L161.9,324.8 L162.1,324.2 L162.3,323.6 L162.5,323.1 L162.7,322.5 L162.9,322.0 L163.2,321.4 L163.4,320.9 L163.6,320.3 L163.9,319.8 L164.2,319.3 L164.4,318.7 L164.7,318.2 L165.0,317.7 L165.3,317.2 L165.5,316.6 L165.9,316.1 L166.2,315.6 L166.5,315.1 L166.8,314.6 L167.2,314.2 L167.5,313.7 L167.9,313.2 L168.2,312.7 L168.6,312.3 L169.0,311.8 L169.4,311.3 L169.8,310.9 L170.2,310.5 L170.7,310.0 L171.1,309.6 L171.6,309.2 L172.0,308.8 L172.5,308.4 L173.0,308.0 L173.5,307.7 L174.0,307.4 L174.5,307.1 L175.1,306.9 L175.6,306.7 L176.2,306.5 L176.7,306.4 L177.3,306.3 L177.9,306.2 L178.4,306.2 L179.0,306.2 L179.6,306.3 L180.2,306.4 L180.8,306.5 L181.4,306.6 L182.0,306.8 L182.6,306.9 L183.2,307.2 L183.7,307.4 L184.3,307.7 L184.9,307.9 L185.4,308.2 L186.0,308.5 L186.5,308.9 L187.0,309.2 L187.5,309.6 L188.0,310.0 L188.5,310.4 L189.0,310.8 L189.4,311.2 L189.8,311.6 L190.2,312.0 L190.6,312.5 L191.0,313.0 L191.4,313.4 L191.7,313.9 L192.1,314.4 L192.4,314.9 L192.7,315.4 L193.0,315.9 L193.3,316.4 L193.6,316.9 L193.9,317.4 L194.2,318.0 L194.5,318.5 L194.7,319.1 L195.0,319.6 L195.2,320.2 L195.4,320.7 L195.7,321.3 L195.9,321.8 L196.1,322.4 L196.4,323.0 L196.6,323.6 L196.8,324.1 L197.0,324.7 L197.2,325.3 L197.4,325.9 L197.6,326.5 L197.8,327.0 L198.0,327.6 L198.2,328.2 L198.4,328.8 L198.6,329.3 L198.9,329.9 L199.1,330.5 L199.3,331.1 L199.5,331.6 L199.7,332.2 L200.0,332.8 L200.2,333.3 L200.4,333.9 L200.6,334.4 L200.9,335.0 L201.1,335.5 L201.3,336.1 L201.6,336.7 L201.8,337.2 L202.1,337.8 L202.3,338.3 L202.5,338.8 L202.8,339.4 L203.0,339.9 L203.3,340.5 L203.5,341.0 L203.8,341.6 L204.0,342.1 L204.3,342.6 L204.5,343.2 L204.8,343.7 L205.0,344.3 L205.3,344.8 L205.5,345.3 L205.8,345.9 L206.0,346.4 L206.3,347.0 L206.5,347.5 L206.8,348.0 L207.1,348.6 L207.3,349.1 L207.6,349.7 L207.8,350.2 L208.0,350.7 L208.3,351.3 L208.5,351.8 L208.8,352.4 L209.0,352.9 L209.3,353.5 L209.5,354.0 L209.8,354.6 L210.0,355.1 L210.3,355.7 L210.5,356.2 L210.7,356.8 L211.0,357.3 L211.2,357.9 L211.5,358.4 L211.7,358.9 L211.9,359.5 L212.2,360.0 L212.4,360.6 L212.7,361.2 L212.9,361.7 L213.1,362.3 L213.4,362.8 L213.6,363.4 L213.9,363.9 L214.1,364.5 L214.3,365.0 L214.6,365.6 L214.8,366.1 L215.0,366.7 L215.3,367.2 L215.5,367.8 L215.8,368.3 L216.0,368.9 L216.2,369.4 L216.5,370.0 L216.7,370.5 L217.0,371.1 L217.2,371.6 L217.4,372.2 L217.7,372.7 L217.9,373.3 L218.2,373.8 L218.4,374.4 L218.7,374.9 L218.9,375.5 L219.1,376.0 L219.4,376.6 L219.6,377.1 L219.9,377.7 L220.1,378.2 L220.4,378.8 L220.6,379.3 L220.9,379.9 L221.1,380.4 L221.4,381.0 L221.6,381.5 L221.9,382.1 L222.1,382.6 L222.4,383.2 L222.6,383.7 L222.9,384.2 L223.2,384.8 L223.4,385.3 L223.7,385.9 L223.9,386.4 L224.2,386.9 L224.5,387.5 L224.7,388.0 L225.0,388.6 L225.2,389.1 L225.5,389.6 L225.8,390.2 L226.1,390.7 L226.3,391.2 L226.6,391.8 L226.9,392.3 L227.1,392.8 L227.4,393.4 L227.7,393.9 L228.0,394.4 L228.3,394.9 L228.5,395.5 L228.8,396.0 L229.1,396.5 L229.4,397.0 L229.7,397.6 L230.0,398.1 L230.3,398.6 L230.6,399.1 L230.9,399.6 L231.2,400.2 L231.5,400.7 L231.8,401.2 L232.1,401.7 L232.4,402.2 L232.7,402.7 L233.0,403.2 L233.3,403.7 L233.6,404.2 L234.0,404.7 L234.3,405.3 L234.6,405.8 L234.9,406.3 L235.2,406.8 L235.6,407.2 L235.9,407.7 L236.2,408.2 L236.6,408.7 L236.9,409.2 L237.3,409.7 L237.6,410.2 L237.9,410.7 L238.3,411.2 L238.6,411.7 L239.0,412.1 L239.4,412.6 L239.7,413.1 L240.1,413.6 L240.4,414.0 L240.8,414.5 L241.2,415.0 L241.6,415.5 L241.9,415.9 L242.3,416.4 L242.7,416.9 L243.1,417.3 L243.5,417.8 L243.9,418.2 L244.3,418.7 L244.7,419.1 L245.1,419.6 L245.5,420.1 L245.9,420.5 L246.3,420.9" fill="none" stroke="#1ee6f0" stroke-width="1.50" stroke-linejoin="round" stroke-linecap="round"/>
<rect x="56.00" y="297.20" width="193.60" height="194.20" fill="none" stroke="#2e2e2e" stroke-width="1.25"/>
<line x1="53.90" y1="491.40" x2="56.00" y2="491.40" stroke="#2e2e2e" stroke-width="1.2"/>
<text x="48.00" y="495.10" class="tk" text-anchor="end">0.0</text>
<line x1="53.90" y1="454.36" x2="56.00" y2="454.36" stroke="#2e2e2e" stroke-width="1.2"/>
<text x="48.00" y="458.06" class="tk" text-anchor="end">0.2</text>
<line x1="53.90" y1="417.32" x2="56.00" y2="417.32" stroke="#2e2e2e" stroke-width="1.2"/>
<text x="48.00" y="421.02" class="tk" text-anchor="end">0.4</text>
<line x1="53.90" y1="380.28" x2="56.00" y2="380.28" stroke="#2e2e2e" stroke-width="1.2"/>
<text x="48.00" y="383.98" class="tk" text-anchor="end">0.6</text>
<line x1="53.90" y1="343.24" x2="56.00" y2="343.24" stroke="#2e2e2e" stroke-width="1.2"/>
<text x="48.00" y="346.94" class="tk" text-anchor="end">0.8</text>
<line x1="53.90" y1="306.20" x2="56.00" y2="306.20" stroke="#2e2e2e" stroke-width="1.2"/>
<text x="48.00" y="309.90" class="tk" text-anchor="end">1.0</text>
<line x1="56.00" y1="491.40" x2="56.00" y2="493.50" stroke="#2e2e2e" stroke-width="1.2"/>
<text x="56.00" y="508.70" class="tk" text-anchor="middle">350</text>
<line x1="94.72" y1="491.40" x2="94.72" y2="493.50" stroke="#2e2e2e" stroke-width="1.2"/>
<text x="94.72" y="508.70" class="tk" text-anchor="middle">400</text>
<line x1="133.44" y1="491.40" x2="133.44" y2="493.50" stroke="#2e2e2e" stroke-width="1.2"/>
<text x="133.44" y="508.70" class="tk" text-anchor="middle">450</text>
<line x1="172.16" y1="491.40" x2="172.16" y2="493.50" stroke="#2e2e2e" stroke-width="1.2"/>
<text x="172.16" y="508.70" class="tk" text-anchor="middle">500</text>
<line x1="210.88" y1="491.40" x2="210.88" y2="493.50" stroke="#2e2e2e" stroke-width="1.2"/>
<text x="210.88" y="508.70" class="tk" text-anchor="middle">550</text>
<line x1="249.60" y1="491.40" x2="249.60" y2="493.50" stroke="#2e2e2e" stroke-width="1.2"/>
<text x="249.60" y="508.70" class="tk" text-anchor="middle">600</text>
<text x="152.80" y="531.10" class="ax" text-anchor="middle">Wavelength, nm</text>
<text x="0" y="0" class="ax" text-anchor="middle" transform="translate(24.40,394.30) rotate(-90)">Fluorescence, RLU</text>
<text x="5.50" y="296.00" class="lt">C</text>
<line x1="62.10" y1="306.90" x2="79.50" y2="306.90" stroke="#262626" stroke-width="1.45"/>
<text x="83.40" y="309.55" class="lg">OL_WT</text>
<line x1="62.10" y1="316.37" x2="79.50" y2="316.37" stroke="#3434e6" stroke-width="1.30"/>
<text x="83.40" y="319.02" class="lg">OL_47A</text>
<line x1="62.10" y1="325.84" x2="79.50" y2="325.84" stroke="#f43c3c" stroke-width="1.50"/>
<text x="83.40" y="328.49" class="lg">OL_114F</text>
<line x1="62.10" y1="335.31" x2="79.50" y2="335.31" stroke="#1ee01e" stroke-width="1.30"/>
<text x="83.40" y="337.96" class="lg">OL_138F</text>
<line x1="62.10" y1="344.78" x2="79.50" y2="344.78" stroke="#1ee6f0" stroke-width="1.50"/>
<text x="83.40" y="347.43" class="lg">OL_64F138F</text>
<path d="M354.2,483.5 L354.6,483.0 L355.0,482.5 L355.4,482.1 L355.8,481.6 L356.2,481.2 L356.6,480.7 L357.0,480.3 L357.4,479.9 L357.9,479.5 L358.3,479.1 L358.8,478.7 L359.2,478.3 L359.7,477.9 L360.2,477.6 L360.6,477.2 L361.1,476.8 L361.6,476.5 L362.1,476.1 L362.5,475.7 L363.0,475.4 L363.5,475.0 L364.0,474.7 L364.5,474.3 L365.0,474.0 L365.4,473.6 L365.9,473.3 L366.4,472.9 L366.9,472.6 L367.4,472.2 L367.8,471.8 L368.3,471.4 L368.8,471.1 L369.2,470.7 L369.7,470.3 L370.1,469.9 L370.6,469.5 L371.0,469.1 L371.5,468.7 L371.9,468.3 L372.3,467.8 L372.8,467.4 L373.2,467.0 L373.6,466.5 L374.0,466.1 L374.4,465.7 L374.8,465.2 L375.2,464.8 L375.6,464.3 L376.0,463.8 L376.4,463.4 L376.7,462.9 L377.1,462.4 L377.5,461.9 L377.8,461.5 L378.2,461.0 L378.6,460.5 L378.9,460.0 L379.2,459.5 L379.6,459.0 L379.9,458.5 L380.2,458.0 L380.6,457.5 L380.9,457.0 L381.2,456.4 L381.5,455.9 L381.8,455.4 L382.1,454.9 L382.4,454.4 L382.6,453.8 L382.9,453.3 L383.2,452.8 L383.4,452.3 L383.7,451.7 L384.0,451.2 L384.2,450.6 L384.4,450.1 L384.7,449.6 L384.9,449.0 L385.2,448.5 L385.4,447.9 L385.6,447.4 L385.8,446.8 L386.0,446.3 L386.2,445.7 L386.4,445.2 L386.7,444.6 L386.8,444.1 L387.0,443.5 L387.2,442.9 L387.4,442.4 L387.6,441.8 L387.8,441.2 L388.0,440.7 L388.2,440.1 L388.3,439.5 L388.5,439.0 L388.7,438.4 L388.9,437.8 L389.0,437.3 L389.2,436.7 L389.3,436.1 L389.5,435.5 L389.7,435.0 L389.8,434.4 L390.0,433.8 L390.1,433.2 L390.3,432.7 L390.5,432.1 L390.6,431.5 L390.8,430.9 L390.9,430.3 L391.1,429.7 L391.2,429.2 L391.4,428.6 L391.5,428.0 L391.7,427.4 L391.8,426.8 L392.0,426.2 L392.1,425.7 L392.3,425.1 L392.5,424.5 L392.6,423.9 L392.8,423.3 L392.9,422.7 L393.1,422.1 L393.3,421.5 L393.4,421.0 L393.6,420.4 L393.7,419.8 L393.9,419.2 L394.1,418.6 L394.2,418.0 L394.4,417.4 L394.6,416.9 L394.8,416.3 L394.9,415.7 L395.1,415.1 L395.3,414.5 L395.4,413.9 L395.6,413.3 L395.8,412.8 L395.9,412.2 L396.1,411.6 L396.3,411.0 L396.5,410.4 L396.6,409.8 L396.8,409.2 L397.0,408.7 L397.1,408.1 L397.3,407.5 L397.5,406.9 L397.6,406.3 L397.8,405.7 L398.0,405.2 L398.1,404.6 L398.3,404.0 L398.5,403.4 L398.6,402.8 L398.8,402.3 L398.9,401.7 L399.1,401.1 L399.2,400.5 L399.4,399.9 L399.5,399.4 L399.7,398.8 L399.8,398.2 L400.0,397.6 L400.1,397.0 L400.3,396.5 L400.4,395.9 L400.6,395.3 L400.7,394.7 L400.9,394.2 L401.0,393.6 L401.1,393.0 L401.3,392.4 L401.4,391.9 L401.5,391.3 L401.7,390.7 L401.8,390.1 L402.0,389.6 L402.1,389.0 L402.2,388.4 L402.3,387.8 L402.5,387.2 L402.6,386.7 L402.7,386.1 L402.9,385.5 L403.0,384.9 L403.1,384.4 L403.2,383.8 L403.4,383.2 L403.5,382.6 L403.6,382.1 L403.7,381.5 L403.9,380.9 L404.0,380.3 L404.1,379.8 L404.2,379.2 L404.4,378.6 L404.5,378.0 L404.6,377.5 L404.7,376.9 L404.8,376.3 L404.9,375.7 L405.1,375.2 L405.2,374.6 L405.3,374.0 L405.4,373.4 L405.5,372.9 L405.6,372.3 L405.8,371.7 L405.9,371.1 L406.0,370.5 L406.1,370.0 L406.2,369.4 L406.3,368.8 L406.5,368.2 L406.6,367.6 L406.7,367.1 L406.8,366.5 L406.9,365.9 L407.0,365.3 L407.1,364.7 L407.2,364.2 L407.4,363.6 L407.5,363.0 L407.6,362.4 L407.7,361.8 L407.8,361.3 L407.9,360.7 L408.0,360.1 L408.1,359.5 L408.3,358.9 L408.4,358.3 L408.5,357.7 L408.6,357.2 L408.7,356.6 L408.8,356.0 L408.9,355.4 L409.1,354.8 L409.2,354.2 L409.3,353.6 L409.4,353.0 L409.5,352.5 L409.6,351.9 L409.7,351.3 L409.9,350.7 L410.0,350.1 L410.1,349.5 L410.2,348.9 L410.3,348.3 L410.4,347.7 L410.6,347.1 L410.7,346.5 L410.8,345.9 L410.9,345.3 L411.0,344.7 L411.2,344.1 L411.3,343.5 L411.4,342.9 L411.5,342.3 L411.6,341.7 L411.8,341.1 L411.9,340.5 L412.0,339.9 L412.1,339.3 L412.3,338.7 L412.4,338.1 L412.5,337.5 L412.7,336.9 L412.8,336.3 L412.9,335.7 L413.0,335.1 L413.2,334.5 L413.3,333.8 L413.4,333.2 L413.6,332.6 L413.7,332.0 L413.8,331.4 L414.0,330.8 L414.1,330.2 L414.3,329.5 L414.4,328.9 L414.5,328.3 L414.7,327.7 L414.8,327.1 L415.0,326.5 L415.2,325.9 L415.3,325.3 L415.5,324.6 L415.6,324.0 L415.8,323.4 L416.0,322.9 L416.2,322.3 L416.4,321.7 L416.6,321.1 L416.8,320.5 L417.0,320.0 L417.2,319.4 L417.4,318.8 L417.7,318.3 L417.9,317.7 L418.1,317.2 L418.4,316.7 L418.7,316.1 L418.9,315.6 L419.2,315.1 L419.5,314.6 L419.8,314.1 L420.1,313.6 L420.4,313.2 L420.8,312.7 L421.1,312.3 L421.5,311.8 L421.8,311.4 L422.2,311.0 L422.6,310.6 L423.0,310.2 L423.4,309.8 L423.9,309.4 L424.3,309.1 L424.8,308.7 L425.2,308.4 L425.7,308.1 L426.2,307.8 L426.7,307.5 L427.2,307.3 L427.8,307.1 L428.3,306.9 L428.8,306.7 L429.4,306.6 L429.9,306.6 L430.4,306.6 L431.0,306.6 L431.5,306.7 L432.0,306.8 L432.5,306.9 L433.0,307.1 L433.5,307.3 L434.0,307.5 L434.5,307.8 L434.9,308.1 L435.4,308.5 L435.8,308.8 L436.2,309.2 L436.6,309.6 L437.0,310.1 L437.4,310.6 L437.7,311.0 L438.1,311.5 L438.4,312.1 L438.8,312.6 L439.1,313.2 L439.4,313.7 L439.7,314.3 L440.0,314.9 L440.3,315.5 L440.6,316.1 L440.9,316.7 L441.2,317.3 L441.4,317.9 L441.7,318.5 L442.0,319.1 L442.3,319.7 L442.5,320.3 L442.8,320.9 L443.0,321.5 L443.3,322.1 L443.6,322.7 L443.8,323.3 L444.1,323.8 L444.3,324.4 L444.6,325.0 L444.8,325.5 L445.1,326.1 L445.3,326.7 L445.6,327.2 L445.8,327.8 L446.1,328.4 L446.3,328.9 L446.6,329.5 L446.8,330.0 L447.1,330.6 L447.3,331.1 L447.5,331.7 L447.8,332.2 L448.0,332.8 L448.2,333.3 L448.5,333.9 L448.7,334.4 L448.9,334.9 L449.2,335.5 L449.4,336.0 L449.6,336.6 L449.8,337.1 L450.1,337.7 L450.3,338.2 L450.5,338.8 L450.7,339.3 L451.0,339.8 L451.2,340.4 L451.4,340.9 L451.6,341.5 L451.8,342.0 L452.0,342.6 L452.3,343.1 L452.5,343.7 L452.7,344.2 L452.9,344.8 L453.1,345.3 L453.3,345.9 L453.5,346.4 L453.8,347.0 L454.0,347.5 L454.2,348.1 L454.4,348.6 L454.6,349.2 L454.8,349.7 L455.0,350.3 L455.2,350.8 L455.4,351.4 L455.6,352.0 L455.8,352.5 L456.0,353.1 L456.2,353.6 L456.4,354.2 L456.6,354.7 L456.8,355.3 L457.0,355.9 L457.2,356.4 L457.4,357.0 L457.6,357.5 L457.8,358.1 L458.0,358.7 L458.2,359.2 L458.4,359.8 L458.6,360.3 L458.8,360.9 L459.0,361.5 L459.2,362.0 L459.4,362.6 L459.6,363.1 L459.8,363.7 L460.0,364.3 L460.2,364.8 L460.4,365.4 L460.6,366.0 L460.8,366.5 L460.9,367.1 L461.1,367.7 L461.3,368.2 L461.5,368.8 L461.7,369.4 L461.9,369.9 L462.1,370.5 L462.3,371.1 L462.5,371.6 L462.7,372.2 L462.9,372.8 L463.1,373.3 L463.2,373.9 L463.4,374.5 L463.6,375.0 L463.8,375.6 L464.0,376.2 L464.2,376.8 L464.4,377.3 L464.6,377.9 L464.8,378.5 L465.0,379.0 L465.2,379.6 L465.3,380.2 L465.5,380.7 L465.7,381.3 L465.9,381.9 L466.1,382.5 L466.3,383.0 L466.5,383.6 L466.7,384.2 L466.9,384.7 L467.1,385.3 L467.3,385.9 L467.5,386.5 L467.7,387.0 L467.9,387.6 L468.0,388.2 L468.2,388.8 L468.4,389.3 L468.6,389.9 L468.8,390.5 L469.0,391.0 L469.2,391.6 L469.4,392.2 L469.6,392.8 L469.8,393.3 L470.0,393.9 L470.2,394.5 L470.4,395.0 L470.6,395.6 L470.8,396.2 L471.0,396.8 L471.2,397.3 L471.4,397.9 L471.6,398.5 L471.8,399.0 L472.0,399.6 L472.2,400.2 L472.5,400.7 L472.7,401.3 L472.9,401.9 L473.1,402.4 L473.3,403.0 L473.5,403.6 L473.7,404.1 L473.9,404.7 L474.1,405.3 L474.4,405.8 L474.6,406.4 L474.8,407.0 L475.0,407.5 L475.2,408.1 L475.4,408.6 L475.7,409.2 L475.9,409.8 L476.1,410.3 L476.3,410.9 L476.6,411.4 L476.8,412.0 L477.0,412.6 L477.2,413.1 L477.5,413.7 L477.7,414.2 L477.9,414.8 L478.2,415.3 L478.4,415.9 L478.6,416.4 L478.9,417.0 L479.1,417.5 L479.4,418.1 L479.6,418.6 L479.8,419.2 L480.1,419.7 L480.3,420.3 L480.6,420.8 L480.8,421.4 L481.1,421.9 L481.3,422.5 L481.6,423.0 L481.8,423.5 L482.1,424.1 L482.4,424.6 L482.6,425.2 L482.9,425.7 L483.1,426.2 L483.4,426.8 L483.7,427.3 L483.9,427.8 L484.2,428.4 L484.5,428.9 L484.8,429.4 L485.0,430.0 L485.3,430.5 L485.6,431.0 L485.9,431.5 L486.1,432.1 L486.4,432.6 L486.7,433.1 L487.0,433.6 L487.3,434.1 L487.6,434.7 L487.9,435.2 L488.2,435.7 L488.5,436.2 L488.8,436.7 L489.1,437.2 L489.4,437.7 L489.7,438.2 L490.0,438.7 L490.3,439.3 L490.6,439.8 L490.9,440.3 L491.3,440.8 L491.6,441.3 L491.9,441.8 L492.2,442.3 L492.5,442.8 L492.9,443.2 L493.2,443.7 L493.5,444.2 L493.9,444.7 L494.2,445.2 L494.5,445.7 L494.9,446.2 L495.2,446.7 L495.6,447.1 L495.9,447.6 L496.3,448.1 L496.6,448.6 L497.0,449.0 L497.4,449.5 L497.7,450.0 L498.1,450.5 L498.4,450.9 L498.8,451.4 L499.2,451.9 L499.6,452.3 L499.9,452.8 L500.3,453.2 L500.7,453.7 L501.1,454.1 L501.5,454.6 L501.9,455.0 L502.3,455.5 L502.7,455.9 L503.1,456.4 L503.5,456.8 L503.9,457.3 L504.3,457.7 L504.7,458.1 L505.1,458.6 L505.5,459.0 L505.9,459.4 L506.4,459.9 L506.8,460.3 L507.2,460.7 L507.6,461.1 L508.1,461.6 L508.5,462.0 L509.0,462.4 L509.4,462.8 L509.8,463.2 L510.3,463.6 L510.8,464.0 L511.2,464.4 L511.7,464.8 L512.1,465.2 L512.6,465.6 L513.1,466.0 L513.5,466.4 L514.0,466.8 L514.5,467.2 L515.0,467.6 L515.5,468.0 L516.0,468.4" fill="none" stroke="#262626" stroke-width="1.40" stroke-linejoin="round" stroke-linecap="round"/>
<path d="M354.8,483.9 L355.3,483.6 L355.8,483.2 L356.3,482.9 L356.8,482.6 L357.3,482.2 L357.8,481.9 L358.3,481.5 L358.8,481.2 L359.2,480.8 L359.7,480.5 L360.2,480.1 L360.7,479.7 L361.2,479.4 L361.6,479.0 L362.1,478.6 L362.6,478.2 L363.0,477.9 L363.5,477.5 L364.0,477.1 L364.4,476.7 L364.9,476.3 L365.3,475.9 L365.8,475.5 L366.2,475.1 L366.7,474.7 L367.1,474.3 L367.5,473.9 L368.0,473.5 L368.4,473.0 L368.8,472.6 L369.3,472.2 L369.7,471.8 L370.1,471.3 L370.5,470.9 L370.9,470.5 L371.4,470.0 L371.8,469.6 L372.2,469.2 L372.6,468.7 L373.0,468.3 L373.4,467.8 L373.7,467.3 L374.1,466.9 L374.5,466.4 L374.9,466.0 L375.3,465.5 L375.6,465.0 L376.0,464.6 L376.4,464.1 L376.7,463.6 L377.1,463.1 L377.4,462.6 L377.8,462.2 L378.1,461.7 L378.5,461.2 L378.8,460.7 L379.2,460.2 L379.5,459.7 L379.8,459.2 L380.1,458.7 L380.4,458.2 L380.7,457.7 L381.1,457.2 L381.4,456.6 L381.7,456.1 L381.9,455.6 L382.2,455.1 L382.5,454.6 L382.8,454.0 L383.1,453.5 L383.3,453.0 L383.6,452.5 L383.9,451.9 L384.1,451.4 L384.4,450.9 L384.6,450.3 L384.9,449.8 L385.1,449.2 L385.4,448.7 L385.6,448.1 L385.8,447.6 L386.0,447.0 L386.3,446.5 L386.5,445.9 L386.7,445.4 L386.9,444.8 L387.1,444.3 L387.3,443.7 L387.5,443.1 L387.7,442.6 L387.9,442.0 L388.1,441.4 L388.3,440.9 L388.5,440.3 L388.7,439.7 L388.9,439.2 L389.1,438.6 L389.2,438.0 L389.4,437.4 L389.6,436.9 L389.8,436.3 L390.0,435.7 L390.1,435.1 L390.3,434.6 L390.5,434.0 L390.6,433.4 L390.8,432.8 L391.0,432.2 L391.1,431.7 L391.3,431.1 L391.4,430.5 L391.6,429.9 L391.8,429.3 L391.9,428.7 L392.1,428.1 L392.2,427.6 L392.4,427.0 L392.5,426.4 L392.7,425.8 L392.8,425.2 L393.0,424.6 L393.2,424.1 L393.3,423.5 L393.5,422.9 L393.6,422.3 L393.8,421.7 L393.9,421.1 L394.1,420.5 L394.2,420.0 L394.4,419.4 L394.5,418.8 L394.7,418.2 L394.8,417.6 L395.0,417.0 L395.2,416.4 L395.3,415.9 L395.5,415.3 L395.6,414.7 L395.8,414.1 L395.9,413.5 L396.1,412.9 L396.2,412.4 L396.4,411.8 L396.5,411.2 L396.7,410.6 L396.8,410.0 L397.0,409.4 L397.1,408.9 L397.3,408.3 L397.4,407.7 L397.6,407.1 L397.7,406.5 L397.9,406.0 L398.0,405.4 L398.2,404.8 L398.3,404.2 L398.4,403.6 L398.6,403.0 L398.7,402.5 L398.9,401.9 L399.0,401.3 L399.2,400.7 L399.3,400.1 L399.4,399.6 L399.6,399.0 L399.7,398.4 L399.8,397.8 L400.0,397.2 L400.1,396.7 L400.3,396.1 L400.4,395.5 L400.5,394.9 L400.7,394.3 L400.8,393.8 L400.9,393.2 L401.0,392.6 L401.2,392.0 L401.3,391.4 L401.4,390.9 L401.6,390.3 L401.7,389.7 L401.8,389.1 L402.0,388.5 L402.1,388.0 L402.2,387.4 L402.3,386.8 L402.5,386.2 L402.6,385.6 L402.7,385.1 L402.8,384.5 L403.0,383.9 L403.1,383.3 L403.2,382.7 L403.3,382.2 L403.5,381.6 L403.6,381.0 L403.7,380.4 L403.8,379.8 L404.0,379.3 L404.1,378.7 L404.2,378.1 L404.3,377.5 L404.4,376.9 L404.6,376.4 L404.7,375.8 L404.8,375.2 L404.9,374.6 L405.1,374.0 L405.2,373.4 L405.3,372.9 L405.4,372.3 L405.5,371.7 L405.7,371.1 L405.8,370.5 L405.9,370.0 L406.0,369.4 L406.2,368.8 L406.3,368.2 L406.4,367.6 L406.5,367.0 L406.6,366.5 L406.8,365.9 L406.9,365.3 L407.0,364.7 L407.1,364.1 L407.3,363.6 L407.4,363.0 L407.5,362.4 L407.6,361.8 L407.8,361.2 L407.9,360.6 L408.0,360.1 L408.1,359.5 L408.3,358.9 L408.4,358.3 L408.5,357.7 L408.6,357.1 L408.8,356.6 L408.9,356.0 L409.0,355.4 L409.2,354.8 L409.3,354.2 L409.4,353.6 L409.5,353.0 L409.7,352.5 L409.8,351.9 L409.9,351.3 L410.1,350.7 L410.2,350.1 L410.3,349.5 L410.5,348.9 L410.6,348.3 L410.7,347.8 L410.9,347.2 L411.0,346.6 L411.1,346.0 L411.3,345.4 L411.4,344.8 L411.5,344.2 L411.7,343.6 L411.8,343.1 L412.0,342.5 L412.1,341.9 L412.2,341.3 L412.4,340.7 L412.5,340.1 L412.7,339.5 L412.8,338.9 L413.0,338.3 L413.1,337.7 L413.3,337.1 L413.4,336.6 L413.6,336.0 L413.7,335.4 L413.9,334.8 L414.0,334.2 L414.2,333.6 L414.3,333.0 L414.5,332.4 L414.6,331.8 L414.8,331.2 L414.9,330.6 L415.1,330.0 L415.3,329.4 L415.4,328.8 L415.6,328.2 L415.7,327.6 L415.9,327.0 L416.1,326.4 L416.3,325.9 L416.4,325.3 L416.6,324.7 L416.8,324.1 L417.0,323.5 L417.2,322.9 L417.4,322.3 L417.6,321.8 L417.8,321.2 L418.0,320.6 L418.3,320.0 L418.5,319.5 L418.8,318.9 L419.0,318.3 L419.3,317.8 L419.5,317.2 L419.8,316.7 L420.1,316.1 L420.4,315.6 L420.7,315.1 L421.0,314.5 L421.4,314.0 L421.7,313.5 L422.1,313.0 L422.4,312.5 L422.8,312.0 L423.2,311.5 L423.6,311.1 L424.0,310.6 L424.4,310.2 L424.8,309.8 L425.3,309.4 L425.7,309.1 L426.2,308.7 L426.6,308.4 L427.1,308.1 L427.6,307.8 L428.0,307.6 L428.5,307.4 L429.0,307.2 L429.5,307.1 L430.0,306.9 L430.6,306.8 L431.1,306.8 L431.6,306.7 L432.1,306.7 L432.6,306.8 L433.1,306.8 L433.6,306.9 L434.1,307.1 L434.6,307.2 L435.1,307.4 L435.6,307.6 L436.1,307.9 L436.6,308.2 L437.1,308.4 L437.5,308.8 L438.0,309.1 L438.4,309.5 L438.9,309.9 L439.3,310.3 L439.7,310.7 L440.1,311.2 L440.5,311.6 L440.9,312.1 L441.3,312.6 L441.7,313.1 L442.0,313.6 L442.4,314.2 L442.7,314.7 L443.0,315.2 L443.4,315.8 L443.7,316.3 L444.0,316.9 L444.3,317.5 L444.6,318.0 L444.9,318.6 L445.2,319.2 L445.5,319.7 L445.7,320.3 L446.0,320.9 L446.3,321.4 L446.5,322.0 L446.8,322.5 L447.0,323.1 L447.3,323.7 L447.5,324.2 L447.8,324.8 L448.0,325.4 L448.2,325.9 L448.4,326.5 L448.7,327.1 L448.9,327.6 L449.1,328.2 L449.3,328.8 L449.5,329.3 L449.7,329.9 L449.9,330.5 L450.1,331.0 L450.3,331.6 L450.5,332.2 L450.7,332.7 L450.9,333.3 L451.1,333.9 L451.3,334.4 L451.5,335.0 L451.7,335.5 L451.9,336.1 L452.1,336.7 L452.2,337.2 L452.4,337.8 L452.6,338.4 L452.8,338.9 L453.0,339.5 L453.2,340.1 L453.4,340.6 L453.6,341.2 L453.8,341.7 L454.0,342.3 L454.2,342.9 L454.4,343.4 L454.6,344.0 L454.8,344.5 L455.0,345.1 L455.2,345.7 L455.4,346.2 L455.6,346.8 L455.8,347.4 L456.0,347.9 L456.2,348.5 L456.4,349.0 L456.6,349.6 L456.8,350.2 L457.0,350.7 L457.2,351.3 L457.5,351.8 L457.7,352.4 L457.9,353.0 L458.1,353.5 L458.3,354.1 L458.5,354.6 L458.7,355.2 L458.9,355.8 L459.1,356.3 L459.3,356.9 L459.5,357.4 L459.7,358.0 L459.9,358.6 L460.2,359.1 L460.4,359.7 L460.6,360.2 L460.8,360.8 L461.0,361.4 L461.2,361.9 L461.4,362.5 L461.6,363.1 L461.8,363.6 L462.0,364.2 L462.2,364.7 L462.4,365.3 L462.6,365.9 L462.8,366.4 L463.1,367.0 L463.3,367.6 L463.5,368.1 L463.7,368.7 L463.9,369.2 L464.1,369.8 L464.3,370.4 L464.5,370.9 L464.7,371.5 L464.9,372.1 L465.1,372.6 L465.3,373.2 L465.5,373.8 L465.7,374.3 L465.9,374.9 L466.1,375.5 L466.3,376.0 L466.5,376.6 L466.6,377.2 L466.8,377.7 L467.0,378.3 L467.2,378.9 L467.4,379.4 L467.6,380.0 L467.8,380.6 L468.0,381.2 L468.2,381.7 L468.3,382.3 L468.5,382.9 L468.7,383.4 L468.9,384.0 L469.1,384.6 L469.3,385.2 L469.5,385.7 L469.6,386.3 L469.8,386.9 L470.0,387.4 L470.2,388.0 L470.4,388.6 L470.6,389.1 L470.8,389.7 L471.0,390.3 L471.1,390.9 L471.3,391.4 L471.5,392.0 L471.7,392.6 L471.9,393.1 L472.1,393.7 L472.3,394.2 L472.5,394.8 L472.7,395.4 L472.9,395.9 L473.2,396.5 L473.4,397.1 L473.6,397.6 L473.8,398.2 L474.0,398.7 L474.3,399.3 L474.5,399.8 L474.7,400.4 L475.0,400.9 L475.2,401.5 L475.4,402.0 L475.7,402.6 L475.9,403.1 L476.2,403.6 L476.4,404.2 L476.7,404.7 L476.9,405.3 L477.2,405.8 L477.5,406.4 L477.7,406.9 L478.0,407.4 L478.2,408.0 L478.5,408.5 L478.8,409.0 L479.0,409.6 L479.3,410.1 L479.6,410.7 L479.8,411.2 L480.1,411.7 L480.4,412.3 L480.6,412.8 L480.9,413.3 L481.1,413.9 L481.4,414.4 L481.7,415.0 L481.9,415.5 L482.2,416.1 L482.4,416.6 L482.7,417.1 L482.9,417.7 L483.2,418.2 L483.4,418.8 L483.6,419.3 L483.9,419.9 L484.1,420.5 L484.3,421.0 L484.6,421.6 L484.8,422.1 L485.0,422.7 L485.2,423.2 L485.5,423.8 L485.7,424.4 L485.9,424.9 L486.1,425.5 L486.3,426.0 L486.6,426.6 L486.8,427.2 L487.0,427.7 L487.2,428.3 L487.5,428.8 L487.7,429.4 L488.0,429.9 L488.2,430.5 L488.5,431.0 L488.7,431.6 L489.0,432.1 L489.2,432.6 L489.5,433.2 L489.8,433.7 L490.0,434.2 L490.3,434.7 L490.6,435.3 L490.9,435.8 L491.2,436.3 L491.5,436.8 L491.8,437.3 L492.1,437.8 L492.4,438.3 L492.7,438.9 L493.1,439.4 L493.4,439.9 L493.7,440.4 L494.0,440.9 L494.4,441.3 L494.7,441.8 L495.0,442.3 L495.4,442.8 L495.7,443.3 L496.1,443.8 L496.4,444.3 L496.8,444.8 L497.2,445.2 L497.5,445.7 L497.9,446.2 L498.2,446.7 L498.6,447.1 L499.0,447.6 L499.4,448.1 L499.7,448.5 L500.1,449.0 L500.5,449.5 L500.9,449.9 L501.3,450.4 L501.7,450.8 L502.1,451.3 L502.4,451.8 L502.8,452.2 L503.2,452.7 L503.6,453.1 L504.0,453.6 L504.4,454.0 L504.8,454.5 L505.2,454.9 L505.7,455.3 L506.1,455.8 L506.5,456.2 L506.9,456.7 L507.3,457.1 L507.7,457.6 L508.1,458.0 L508.5,458.4 L508.9,458.9 L509.4,459.3 L509.8,459.7 L510.2,460.2 L510.6,460.6 L511.0,461.0 L511.4,461.5 L511.9,461.9 L512.3,462.3 L512.7,462.8 L513.1,463.2 L513.5,463.6 L513.9,464.0 L514.4,464.5 L514.8,464.9 L515.2,465.3 L515.6,465.7 L516.0,466.2" fill="none" stroke="#1ee6f0" stroke-width="1.60" stroke-linejoin="round" stroke-linecap="round"/>
<path d="M355.7,485.6 L356.2,485.6 L356.8,485.7 L357.3,485.6 L357.9,485.6 L358.5,485.5 L359.0,485.4 L359.6,485.3 L360.1,485.2 L360.7,485.0 L361.2,484.9 L361.7,484.7 L362.3,484.5 L362.8,484.3 L363.4,484.0 L363.9,483.8 L364.5,483.5 L365.0,483.3 L365.5,483.0 L366.1,482.7 L366.6,482.5 L367.1,482.2 L367.7,481.9 L368.2,481.6 L368.7,481.3 L369.3,481.0 L369.8,480.7 L370.3,480.4 L370.9,480.0 L371.4,479.7 L371.9,479.4 L372.4,479.0 L372.9,478.7 L373.4,478.4 L373.9,478.0 L374.4,477.6 L374.9,477.3 L375.4,476.9 L375.9,476.5 L376.4,476.2 L376.9,475.8 L377.3,475.4 L377.8,475.0 L378.3,474.6 L378.7,474.2 L379.2,473.8 L379.6,473.4 L380.0,473.0 L380.5,472.5 L380.9,472.1 L381.3,471.7 L381.7,471.2 L382.1,470.8 L382.5,470.4 L382.9,469.9 L383.3,469.5 L383.6,469.0 L384.0,468.5 L384.4,468.1 L384.7,467.6 L385.1,467.1 L385.4,466.6 L385.7,466.2 L386.1,465.7 L386.4,465.2 L386.7,464.7 L387.0,464.2 L387.4,463.7 L387.7,463.2 L388.0,462.7 L388.3,462.2 L388.6,461.7 L388.8,461.2 L389.1,460.6 L389.4,460.1 L389.7,459.6 L389.9,459.1 L390.2,458.5 L390.5,458.0 L390.7,457.5 L391.0,456.9 L391.2,456.4 L391.5,455.8 L391.7,455.3 L391.9,454.8 L392.2,454.2 L392.4,453.7 L392.6,453.1 L392.9,452.6 L393.1,452.0 L393.3,451.4 L393.5,450.9 L393.7,450.3 L393.9,449.7 L394.2,449.2 L394.4,448.6 L394.6,448.1 L394.8,447.5 L395.0,446.9 L395.2,446.3 L395.3,445.8 L395.5,445.2 L395.7,444.6 L395.9,444.0 L396.1,443.5 L396.3,442.9 L396.5,442.3 L396.6,441.7 L396.8,441.2 L397.0,440.6 L397.2,440.0 L397.4,439.4 L397.5,438.8 L397.7,438.3 L397.9,437.7 L398.1,437.1 L398.2,436.5 L398.4,435.9 L398.6,435.4 L398.7,434.8 L398.9,434.2 L399.1,433.6 L399.2,433.0 L399.4,432.4 L399.6,431.9 L399.7,431.3 L399.9,430.7 L400.1,430.1 L400.2,429.5 L400.4,429.0 L400.6,428.4 L400.7,427.8 L400.9,427.2 L401.0,426.6 L401.2,426.1 L401.4,425.5 L401.5,424.9 L401.7,424.3 L401.8,423.7 L402.0,423.1 L402.1,422.6 L402.3,422.0 L402.4,421.4 L402.6,420.8 L402.8,420.2 L402.9,419.7 L403.1,419.1 L403.2,418.5 L403.4,417.9 L403.5,417.3 L403.7,416.7 L403.8,416.2 L404.0,415.6 L404.1,415.0 L404.3,414.4 L404.4,413.8 L404.5,413.2 L404.7,412.7 L404.8,412.1 L405.0,411.5 L405.1,410.9 L405.3,410.3 L405.4,409.8 L405.6,409.2 L405.7,408.6 L405.8,408.0 L406.0,407.4 L406.1,406.8 L406.3,406.3 L406.4,405.7 L406.5,405.1 L406.7,404.5 L406.8,403.9 L406.9,403.3 L407.1,402.8 L407.2,402.2 L407.4,401.6 L407.5,401.0 L407.6,400.4 L407.8,399.8 L407.9,399.3 L408.0,398.7 L408.2,398.1 L408.3,397.5 L408.4,396.9 L408.6,396.3 L408.7,395.8 L408.8,395.2 L409.0,394.6 L409.1,394.0 L409.2,393.4 L409.3,392.8 L409.5,392.3 L409.6,391.7 L409.7,391.1 L409.9,390.5 L410.0,389.9 L410.1,389.4 L410.2,388.8 L410.4,388.2 L410.5,387.6 L410.6,387.0 L410.7,386.4 L410.9,385.9 L411.0,385.3 L411.1,384.7 L411.2,384.1 L411.4,383.5 L411.5,382.9 L411.6,382.4 L411.7,381.8 L411.9,381.2 L412.0,380.6 L412.1,380.0 L412.2,379.4 L412.3,378.9 L412.5,378.3 L412.6,377.7 L412.7,377.1 L412.8,376.5 L413.0,375.9 L413.1,375.4 L413.2,374.8 L413.3,374.2 L413.4,373.6 L413.6,373.0 L413.7,372.4 L413.8,371.9 L413.9,371.3 L414.0,370.7 L414.2,370.1 L414.3,369.5 L414.4,368.9 L414.5,368.4 L414.7,367.8 L414.8,367.2 L414.9,366.6 L415.0,366.0 L415.2,365.4 L415.3,364.9 L415.4,364.3 L415.5,363.7 L415.7,363.1 L415.8,362.5 L415.9,362.0 L416.0,361.4 L416.2,360.8 L416.3,360.2 L416.4,359.6 L416.6,359.0 L416.7,358.5 L416.8,357.9 L417.0,357.3 L417.1,356.7 L417.2,356.1 L417.4,355.6 L417.5,355.0 L417.6,354.4 L417.8,353.8 L417.9,353.2 L418.1,352.7 L418.2,352.1 L418.3,351.5 L418.5,350.9 L418.6,350.3 L418.8,349.8 L418.9,349.2 L419.1,348.6 L419.2,348.0 L419.4,347.4 L419.5,346.9 L419.7,346.3 L419.9,345.7 L420.0,345.1 L420.2,344.5 L420.3,344.0 L420.5,343.4 L420.7,342.8 L420.8,342.2 L421.0,341.6 L421.2,341.1 L421.3,340.5 L421.5,339.9 L421.7,339.3 L421.8,338.7 L422.0,338.2 L422.2,337.6 L422.4,337.0 L422.6,336.4 L422.8,335.9 L422.9,335.3 L423.1,334.7 L423.3,334.1 L423.5,333.6 L423.7,333.0 L423.9,332.4 L424.1,331.8 L424.3,331.3 L424.5,330.7 L424.7,330.1 L424.9,329.5 L425.1,329.0 L425.3,328.4 L425.5,327.8 L425.8,327.2 L426.0,326.7 L426.2,326.1 L426.4,325.5 L426.7,324.9 L426.9,324.4 L427.1,323.8 L427.3,323.2 L427.6,322.6 L427.8,322.1 L428.1,321.5 L428.3,320.9 L428.5,320.3 L428.8,319.8 L429.1,319.2 L429.3,318.6 L429.6,318.1 L429.8,317.5 L430.1,316.9 L430.4,316.4 L430.6,315.8 L430.9,315.2 L431.2,314.7 L431.5,314.1 L431.8,313.6 L432.1,313.1 L432.4,312.6 L432.7,312.1 L433.1,311.6 L433.4,311.1 L433.8,310.7 L434.2,310.3 L434.6,309.9 L435.0,309.5 L435.5,309.1 L435.9,308.8 L436.4,308.5 L436.8,308.2 L437.3,308.0 L437.8,307.7 L438.3,307.5 L438.8,307.4 L439.4,307.3 L439.9,307.2 L440.4,307.1 L441.0,307.1 L441.5,307.1 L442.0,307.1 L442.5,307.2 L443.1,307.3 L443.6,307.5 L444.1,307.7 L444.6,307.9 L445.1,308.1 L445.6,308.4 L446.0,308.7 L446.5,309.0 L446.9,309.3 L447.3,309.7 L447.7,310.1 L448.1,310.5 L448.4,311.0 L448.8,311.4 L449.1,311.9 L449.4,312.4 L449.7,312.9 L450.0,313.4 L450.3,314.0 L450.6,314.5 L450.8,315.1 L451.0,315.7 L451.3,316.3 L451.5,316.9 L451.7,317.5 L451.9,318.1 L452.1,318.7 L452.3,319.3 L452.5,320.0 L452.7,320.6 L452.9,321.2 L453.1,321.9 L453.3,322.5 L453.5,323.2 L453.7,323.8 L453.8,324.4 L454.0,325.0 L454.2,325.7 L454.4,326.3 L454.6,326.9 L454.8,327.5 L455.0,328.1 L455.2,328.7 L455.4,329.3 L455.6,329.9 L455.8,330.5 L456.0,331.1 L456.2,331.6 L456.5,332.2 L456.7,332.8 L456.9,333.4 L457.1,333.9 L457.3,334.5 L457.5,335.0 L457.7,335.6 L458.0,336.1 L458.2,336.7 L458.4,337.3 L458.6,337.8 L458.8,338.3 L459.1,338.9 L459.3,339.4 L459.5,340.0 L459.7,340.5 L459.9,341.1 L460.2,341.6 L460.4,342.1 L460.6,342.7 L460.8,343.2 L461.0,343.8 L461.3,344.3 L461.5,344.8 L461.7,345.4 L461.9,345.9 L462.1,346.4 L462.4,347.0 L462.6,347.5 L462.8,348.1 L463.0,348.6 L463.2,349.1 L463.4,349.7 L463.6,350.2 L463.8,350.8 L464.0,351.3 L464.2,351.9 L464.4,352.4 L464.6,353.0 L464.8,353.6 L465.0,354.1 L465.2,354.7 L465.4,355.3 L465.6,355.8 L465.8,356.4 L466.0,357.0 L466.2,357.5 L466.4,358.1 L466.6,358.7 L466.8,359.3 L466.9,359.8 L467.1,360.4 L467.3,361.0 L467.5,361.6 L467.7,362.1 L467.9,362.7 L468.1,363.3 L468.3,363.9 L468.4,364.5 L468.6,365.0 L468.8,365.6 L469.0,366.2 L469.2,366.8 L469.4,367.3 L469.6,367.9 L469.8,368.5 L470.0,369.1 L470.2,369.6 L470.4,370.2 L470.6,370.8 L470.8,371.4 L471.0,371.9 L471.2,372.5 L471.4,373.1 L471.6,373.6 L471.8,374.2 L472.0,374.8 L472.2,375.3 L472.4,375.9 L472.6,376.5 L472.9,377.0 L473.1,377.6 L473.3,378.1 L473.5,378.7 L473.7,379.3 L473.9,379.8 L474.2,380.4 L474.4,380.9 L474.6,381.5 L474.8,382.1 L475.0,382.6 L475.3,383.2 L475.5,383.7 L475.7,384.3 L475.9,384.8 L476.2,385.4 L476.4,385.9 L476.6,386.5 L476.8,387.1 L477.1,387.6 L477.3,388.2 L477.5,388.7 L477.8,389.3 L478.0,389.8 L478.2,390.4 L478.5,390.9 L478.7,391.5 L478.9,392.0 L479.2,392.6 L479.4,393.1 L479.6,393.7 L479.9,394.2 L480.1,394.8 L480.3,395.3 L480.6,395.8 L480.8,396.4 L481.0,396.9 L481.3,397.5 L481.5,398.0 L481.8,398.6 L482.0,399.1 L482.2,399.7 L482.5,400.2 L482.7,400.8 L483.0,401.3 L483.2,401.9 L483.4,402.4 L483.7,403.0 L483.9,403.5 L484.2,404.0 L484.4,404.6 L484.7,405.1 L484.9,405.7 L485.1,406.2 L485.4,406.8 L485.6,407.3 L485.9,407.9 L486.1,408.4 L486.4,409.0 L486.6,409.5 L486.9,410.0 L487.1,410.6 L487.3,411.1 L487.6,411.7 L487.8,412.2 L488.1,412.8 L488.3,413.3 L488.6,413.9 L488.8,414.4 L489.1,415.0 L489.3,415.5 L489.5,416.1 L489.8,416.6 L490.0,417.2 L490.3,417.7 L490.5,418.2 L490.8,418.8 L491.0,419.3 L491.2,419.9 L491.5,420.4 L491.7,421.0 L492.0,421.5 L492.2,422.1 L492.5,422.6 L492.7,423.2 L492.9,423.7 L493.2,424.3 L493.4,424.8 L493.7,425.4 L493.9,426.0 L494.2,426.5 L494.4,427.1 L494.6,427.6 L494.9,428.1 L495.1,428.7 L495.4,429.2 L495.6,429.8 L495.9,430.3 L496.1,430.9 L496.4,431.4 L496.6,432.0 L496.9,432.5 L497.2,433.1 L497.4,433.6 L497.7,434.1 L497.9,434.7 L498.2,435.2 L498.5,435.8 L498.7,436.3 L499.0,436.8 L499.3,437.4 L499.6,437.9 L499.8,438.4 L500.1,439.0 L500.4,439.5 L500.7,440.0 L501.0,440.5 L501.3,441.1 L501.6,441.6 L501.8,442.1 L502.1,442.6 L502.4,443.1 L502.8,443.6 L503.1,444.2 L503.4,444.7 L503.7,445.2 L504.0,445.7 L504.3,446.2 L504.7,446.7 L505.0,447.2 L505.3,447.7 L505.7,448.2 L506.0,448.6 L506.3,449.1 L506.7,449.6 L507.0,450.1 L507.4,450.6 L507.8,451.1 L508.1,451.5 L508.5,452.0 L508.9,452.5 L509.2,452.9 L509.6,453.4 L510.0,453.8 L510.4,454.3 L510.8,454.8 L511.2,455.2 L511.6,455.6 L512.0,456.1 L512.5,456.5 L512.9,457.0 L513.3,457.4 L513.7,457.8 L514.2,458.2 L514.6,458.7 L515.1,459.1 L515.5,459.5 L516.0,459.9" fill="none" stroke="#1ee01e" stroke-width="1.40" stroke-linejoin="round" stroke-linecap="round"/>
<path d="M354.3,483.6 L354.5,483.0 L354.7,482.5 L354.9,481.9 L355.0,481.3 L355.2,480.7 L355.4,480.1 L355.5,479.5 L355.7,479.0 L355.9,478.4 L356.0,477.8 L356.2,477.2 L356.4,476.6 L356.5,476.1 L356.7,475.5 L356.9,474.9 L357.0,474.3 L357.2,473.7 L357.3,473.1 L357.5,472.6 L357.7,472.0 L357.8,471.4 L358.0,470.8 L358.1,470.2 L358.3,469.6 L358.4,469.1 L358.6,468.5 L358.7,467.9 L358.9,467.3 L359.1,466.7 L359.2,466.1 L359.4,465.6 L359.5,465.0 L359.6,464.4 L359.8,463.8 L359.9,463.2 L360.1,462.7 L360.2,462.1 L360.4,461.5 L360.5,460.9 L360.7,460.3 L360.8,459.7 L360.9,459.1 L361.1,458.6 L361.2,458.0 L361.4,457.4 L361.5,456.8 L361.6,456.2 L361.8,455.6 L361.9,455.1 L362.0,454.5 L362.2,453.9 L362.3,453.3 L362.5,452.7 L362.6,452.1 L362.7,451.6 L362.8,451.0 L363.0,450.4 L363.1,449.8 L363.2,449.2 L363.4,448.6 L363.5,448.1 L363.6,447.5 L363.8,446.9 L363.9,446.3 L364.0,445.7 L364.1,445.1 L364.3,444.5 L364.4,444.0 L364.5,443.4 L364.6,442.8 L364.7,442.2 L364.9,441.6 L365.0,441.0 L365.1,440.4 L365.2,439.9 L365.3,439.3 L365.5,438.7 L365.6,438.1 L365.7,437.5 L365.8,436.9 L365.9,436.3 L366.0,435.8 L366.2,435.2 L366.3,434.6 L366.4,434.0 L366.5,433.4 L366.6,432.8 L366.7,432.2 L366.8,431.7 L367.0,431.1 L367.1,430.5 L367.2,429.9 L367.3,429.3 L367.4,428.7 L367.5,428.1 L367.6,427.5 L367.7,427.0 L367.8,426.4 L367.9,425.8 L368.0,425.2 L368.1,424.6 L368.2,424.0 L368.4,423.4 L368.5,422.8 L368.6,422.3 L368.7,421.7 L368.8,421.1 L368.9,420.5 L369.0,419.9 L369.1,419.3 L369.2,418.7 L369.3,418.1 L369.4,417.6 L369.5,417.0 L369.6,416.4 L369.7,415.8 L369.8,415.2 L369.9,414.6 L370.0,414.0 L370.1,413.4 L370.2,412.8 L370.3,412.3 L370.3,411.7 L370.4,411.1 L370.5,410.5 L370.6,409.9 L370.7,409.3 L370.8,408.7 L370.9,408.1 L371.0,407.5 L371.1,406.9 L371.2,406.4 L371.3,405.8 L371.4,405.2 L371.5,404.6 L371.6,404.0 L371.6,403.4 L371.7,402.8 L371.8,402.2 L371.9,401.6 L372.0,401.0 L372.1,400.4 L372.2,399.9 L372.3,399.3 L372.4,398.7 L372.4,398.1 L372.5,397.5 L372.6,396.9 L372.7,396.3 L372.8,395.7 L372.9,395.1 L373.0,394.5 L373.1,393.9 L373.1,393.3 L373.2,392.8 L373.3,392.2 L373.4,391.6 L373.5,391.0 L373.6,390.4 L373.6,389.8 L373.7,389.2 L373.8,388.6 L373.9,388.0 L374.0,387.4 L374.1,386.8 L374.1,386.2 L374.2,385.6 L374.3,385.0 L374.4,384.4 L374.5,383.9 L374.5,383.3 L374.6,382.7 L374.7,382.1 L374.8,381.5 L374.9,380.9 L374.9,380.3 L375.0,379.7 L375.1,379.1 L375.2,378.5 L375.3,377.9 L375.3,377.3 L375.4,376.7 L375.5,376.1 L375.6,375.5 L375.7,374.9 L375.7,374.3 L375.8,373.7 L375.9,373.1 L376.0,372.5 L376.0,371.9 L376.1,371.3 L376.2,370.8 L376.3,370.2 L376.4,369.6 L376.4,369.0 L376.5,368.4 L376.6,367.8 L376.7,367.2 L376.7,366.6 L376.8,366.0 L376.9,365.4 L377.0,364.8 L377.0,364.2 L377.1,363.6 L377.2,363.0 L377.3,362.4 L377.3,361.8 L377.4,361.2 L377.5,360.6 L377.6,360.0 L377.6,359.4 L377.7,358.8 L377.8,358.2 L377.9,357.6 L377.9,357.0 L378.0,356.4 L378.1,355.8 L378.2,355.2 L378.2,354.6 L378.3,354.0 L378.4,353.4 L378.5,352.8 L378.5,352.2 L378.6,351.6 L378.7,351.0 L378.8,350.4 L378.8,349.8 L378.9,349.2 L379.0,348.6 L379.1,348.0 L379.1,347.4 L379.2,346.8 L379.3,346.2 L379.4,345.6 L379.4,345.0 L379.5,344.4 L379.6,343.8 L379.7,343.2 L379.7,342.6 L379.8,342.0 L379.9,341.4 L380.0,340.7 L380.0,340.1 L380.1,339.5 L380.2,338.9 L380.3,338.3 L380.4,337.7 L380.4,337.1 L380.5,336.5 L380.6,335.9 L380.7,335.3 L380.8,334.7 L380.8,334.1 L380.9,333.5 L381.0,332.9 L381.1,332.3 L381.2,331.7 L381.3,331.1 L381.4,330.5 L381.5,329.9 L381.6,329.4 L381.7,328.8 L381.8,328.2 L382.0,327.6 L382.1,327.0 L382.2,326.4 L382.3,325.8 L382.5,325.3 L382.6,324.7 L382.7,324.1 L382.9,323.5 L383.0,322.9 L383.2,322.4 L383.4,321.8 L383.5,321.2 L383.7,320.7 L383.9,320.1 L384.1,319.6 L384.3,319.0 L384.4,318.4 L384.7,317.9 L384.9,317.3 L385.1,316.8 L385.3,316.3 L385.5,315.7 L385.8,315.2 L386.0,314.6 L386.3,314.1 L386.5,313.6 L386.8,313.1 L387.0,312.5 L387.3,312.0 L387.6,311.5 L387.9,311.0 L388.2,310.5 L388.5,310.0 L388.9,309.5 L389.2,309.0 L389.5,308.5 L389.9,308.1 L390.3,307.6 L390.6,307.2 L391.0,306.9 L391.5,306.6 L391.9,306.4 L392.4,306.2 L392.9,306.2 L393.4,306.2 L393.9,306.4 L394.5,306.5 L395.0,306.8 L395.6,307.0 L396.1,307.4 L396.6,307.7 L397.1,308.0 L397.6,308.4 L398.1,308.8 L398.5,309.1 L399.0,309.6 L399.4,310.0 L399.8,310.4 L400.2,310.8 L400.6,311.3 L401.0,311.8 L401.4,312.2 L401.7,312.7 L402.1,313.2 L402.4,313.7 L402.8,314.2 L403.1,314.7 L403.4,315.3 L403.7,315.8 L404.1,316.3 L404.4,316.9 L404.7,317.4 L405.0,318.0 L405.2,318.5 L405.5,319.1 L405.8,319.6 L406.1,320.2 L406.4,320.7 L406.7,321.3 L406.9,321.9 L407.2,322.4 L407.5,323.0 L407.8,323.5 L408.0,324.1 L408.3,324.7 L408.6,325.2 L408.8,325.8 L409.1,326.3 L409.4,326.9 L409.6,327.4 L409.9,328.0 L410.2,328.5 L410.5,329.1 L410.7,329.6 L411.0,330.2 L411.3,330.7 L411.6,331.3 L411.8,331.8 L412.1,332.4 L412.4,332.9 L412.7,333.4 L413.0,334.0 L413.3,334.5 L413.6,335.0 L413.9,335.5 L414.2,336.0 L414.5,336.5 L414.8,337.1 L415.1,337.6 L415.4,338.1 L415.7,338.6 L416.0,339.0 L416.4,339.5 L416.7,340.0 L417.1,340.5 L417.4,340.9 L417.7,341.4 L418.1,341.9 L418.5,342.3 L418.8,342.8 L419.2,343.2 L419.6,343.6 L420.0,344.1 L420.4,344.5 L420.8,344.9 L421.2,345.3 L421.6,345.7 L422.0,346.1 L422.4,346.5 L422.9,346.8 L423.3,347.2 L423.8,347.6 L424.2,347.9 L424.7,348.2 L425.2,348.6 L425.7,348.9 L426.2,349.2 L426.7,349.5 L427.2,349.8 L427.7,350.1 L428.3,350.4 L428.8,350.7 L429.3,351.0 L429.9,351.3 L430.4,351.5 L431.0,351.8 L431.5,352.1 L432.1,352.3 L432.6,352.6 L433.2,352.8 L433.8,353.1 L434.3,353.4 L434.9,353.6 L435.5,353.9 L436.0,354.1 L436.6,354.4 L437.2,354.7 L437.7,354.9 L438.3,355.2 L438.8,355.5 L439.4,355.7 L439.9,356.0 L440.5,356.3 L441.0,356.6 L441.5,356.9 L442.1,357.2 L442.6,357.5 L443.1,357.8 L443.6,358.1 L444.1,358.4 L444.6,358.8 L445.1,359.1 L445.6,359.4 L446.1,359.8 L446.6,360.1 L447.1,360.5 L447.6,360.8 L448.1,361.2 L448.5,361.5 L449.0,361.9 L449.5,362.3 L449.9,362.6 L450.4,363.0 L450.8,363.4 L451.3,363.8 L451.7,364.2 L452.1,364.6 L452.6,365.0 L453.0,365.4 L453.4,365.8 L453.8,366.2 L454.3,366.7 L454.7,367.1 L455.1,367.5 L455.5,367.9 L455.9,368.4 L456.3,368.8 L456.6,369.3 L457.0,369.7 L457.4,370.2 L457.8,370.6 L458.2,371.1 L458.5,371.5 L458.9,372.0 L459.3,372.5 L459.6,372.9 L460.0,373.4 L460.3,373.9 L460.7,374.4 L461.0,374.8 L461.4,375.3 L461.7,375.8 L462.0,376.3 L462.4,376.8 L462.7,377.3 L463.1,377.8 L463.4,378.3 L463.7,378.8 L464.0,379.3 L464.4,379.8 L464.7,380.3 L465.0,380.8 L465.3,381.3 L465.6,381.9 L465.9,382.4 L466.2,382.9 L466.5,383.4 L466.8,383.9 L467.2,384.5 L467.5,385.0 L467.8,385.5 L468.1,386.0 L468.4,386.6 L468.6,387.1 L468.9,387.6 L469.2,388.1 L469.5,388.7 L469.8,389.2 L470.1,389.7 L470.4,390.3 L470.7,390.8 L471.0,391.3 L471.3,391.9 L471.6,392.4 L471.8,393.0 L472.1,393.5 L472.4,394.0 L472.7,394.6 L473.0,395.1 L473.3,395.6 L473.6,396.2 L473.9,396.7 L474.1,397.2 L474.4,397.8 L474.7,398.3 L475.0,398.9 L475.3,399.4 L475.6,399.9 L475.9,400.5 L476.1,401.0 L476.4,401.5 L476.7,402.0 L477.0,402.6 L477.3,403.1 L477.6,403.6 L477.9,404.2 L478.2,404.7 L478.5,405.2 L478.8,405.7 L479.1,406.3 L479.3,406.8 L479.6,407.3 L479.9,407.8 L480.2,408.4 L480.5,408.9 L480.8,409.4 L481.1,409.9 L481.4,410.4 L481.7,411.0 L482.0,411.5 L482.3,412.0 L482.6,412.5 L482.9,413.0 L483.2,413.5 L483.6,414.0 L483.9,414.6 L484.2,415.1 L484.5,415.6 L484.8,416.1 L485.1,416.6 L485.4,417.1 L485.7,417.6 L486.0,418.1 L486.3,418.6 L486.7,419.1 L487.0,419.6 L487.3,420.1 L487.6,420.6 L487.9,421.1 L488.3,421.6 L488.6,422.1 L488.9,422.6 L489.2,423.1 L489.6,423.6 L489.9,424.1 L490.2,424.6 L490.5,425.1 L490.9,425.6 L491.2,426.1 L491.5,426.6 L491.9,427.1 L492.2,427.6 L492.5,428.1 L492.9,428.6 L493.2,429.1 L493.6,429.5 L493.9,430.0 L494.3,430.5 L494.6,431.0 L495.0,431.5 L495.3,432.0 L495.7,432.4 L496.0,432.9 L496.4,433.4 L496.7,433.9 L497.1,434.4 L497.4,434.8 L497.8,435.3 L498.2,435.8 L498.5,436.3 L498.9,436.7 L499.2,437.2 L499.6,437.7 L500.0,438.2 L500.4,438.6 L500.7,439.1 L501.1,439.6 L501.5,440.0 L501.9,440.5 L502.2,441.0 L502.6,441.4 L503.0,441.9 L503.4,442.4 L503.8,442.8 L504.2,443.3 L504.6,443.7 L505.0,444.2 L505.4,444.7 L505.7,445.1 L506.1,445.6 L506.6,446.0 L507.0,446.5 L507.4,446.9 L507.8,447.4 L508.2,447.8 L508.6,448.3 L509.0,448.7" fill="none" stroke="#3434e6" stroke-width="1.40" stroke-linejoin="round" stroke-linecap="round"/>
<path d="M353.7,464.9 L354.1,464.4 L354.4,463.9 L354.8,463.4 L355.2,462.9 L355.5,462.4 L355.9,461.9 L356.2,461.4 L356.6,461.0 L356.9,460.5 L357.2,459.9 L357.6,459.4 L357.9,458.9 L358.2,458.4 L358.5,457.9 L358.8,457.4 L359.1,456.9 L359.4,456.4 L359.7,455.9 L360.0,455.3 L360.3,454.8 L360.6,454.3 L360.9,453.8 L361.1,453.2 L361.4,452.7 L361.7,452.2 L362.0,451.6 L362.2,451.1 L362.5,450.6 L362.7,450.0 L363.0,449.5 L363.2,449.0 L363.5,448.4 L363.7,447.9 L363.9,447.3 L364.2,446.8 L364.4,446.2 L364.6,445.7 L364.9,445.1 L365.1,444.6 L365.3,444.0 L365.5,443.5 L365.7,442.9 L366.0,442.3 L366.2,441.8 L366.4,441.2 L366.6,440.7 L366.8,440.1 L367.0,439.5 L367.2,439.0 L367.4,438.4 L367.6,437.8 L367.8,437.3 L368.0,436.7 L368.2,436.1 L368.3,435.6 L368.5,435.0 L368.7,434.4 L368.9,433.9 L369.1,433.3 L369.3,432.7 L369.4,432.1 L369.6,431.6 L369.8,431.0 L370.0,430.4 L370.2,429.8 L370.3,429.3 L370.5,428.7 L370.7,428.1 L370.8,427.5 L371.0,427.0 L371.2,426.4 L371.4,425.8 L371.5,425.2 L371.7,424.6 L371.9,424.1 L372.0,423.5 L372.2,422.9 L372.4,422.3 L372.5,421.7 L372.7,421.2 L372.9,420.6 L373.0,420.0 L373.2,419.4 L373.4,418.9 L373.5,418.3 L373.7,417.7 L373.9,417.1 L374.0,416.5 L374.2,416.0 L374.4,415.4 L374.6,414.8 L374.7,414.2 L374.9,413.7 L375.1,413.1 L375.3,412.5 L375.4,411.9 L375.6,411.4 L375.8,410.8 L376.0,410.2 L376.2,409.6 L376.3,409.1 L376.5,408.5 L376.7,407.9 L376.9,407.4 L377.1,406.8 L377.3,406.2 L377.5,405.7 L377.7,405.1 L377.9,404.5 L378.1,404.0 L378.3,403.4 L378.5,402.8 L378.7,402.3 L378.9,401.7 L379.1,401.2 L379.3,400.6 L379.5,400.1 L379.7,399.5 L380.0,398.9 L380.2,398.4 L380.4,397.8 L380.6,397.3 L380.9,396.7 L381.1,396.2 L381.3,395.7 L381.6,395.1 L381.8,394.6 L382.1,394.0 L382.3,393.5 L382.6,393.0 L382.8,392.4 L383.1,391.9 L383.4,391.3 L383.6,390.8 L383.9,390.3 L384.2,389.8 L384.5,389.2 L384.7,388.7 L385.0,388.2 L385.3,387.7 L385.6,387.2 L385.9,386.6 L386.2,386.1 L386.5,385.6 L386.8,385.1 L387.2,384.6 L387.5,384.1 L387.8,383.6 L388.1,383.1 L388.5,382.6 L388.8,382.1 L389.1,381.6 L389.5,381.1 L389.8,380.6 L390.1,380.1 L390.5,379.6 L390.8,379.1 L391.2,378.6 L391.5,378.1 L391.9,377.6 L392.2,377.1 L392.6,376.6 L392.9,376.1 L393.3,375.7 L393.6,375.2 L394.0,374.7 L394.3,374.2 L394.7,373.7 L395.0,373.2 L395.4,372.7 L395.8,372.2 L396.1,371.7 L396.5,371.3 L396.8,370.8 L397.2,370.3 L397.5,369.8 L397.9,369.3 L398.3,368.8 L398.6,368.3 L399.0,367.8 L399.3,367.3 L399.7,366.8 L400.0,366.3 L400.3,365.8 L400.7,365.4 L401.0,364.9 L401.4,364.4 L401.7,363.9 L402.0,363.4 L402.4,362.9 L402.7,362.3 L403.0,361.8 L403.3,361.3 L403.7,360.8 L404.0,360.3 L404.3,359.8 L404.6,359.3 L404.9,358.8 L405.2,358.3 L405.5,357.7 L405.8,357.2 L406.1,356.7 L406.4,356.2 L406.7,355.7 L407.0,355.1 L407.2,354.6 L407.5,354.1 L407.8,353.6 L408.1,353.0 L408.3,352.5 L408.6,352.0 L408.9,351.4 L409.2,350.9 L409.4,350.4 L409.7,349.8 L409.9,349.3 L410.2,348.8 L410.5,348.2 L410.7,347.7 L411.0,347.1 L411.2,346.6 L411.5,346.1 L411.7,345.5 L412.0,345.0 L412.2,344.4 L412.5,343.9 L412.7,343.4 L413.0,342.8 L413.2,342.3 L413.5,341.7 L413.7,341.2 L414.0,340.7 L414.2,340.1 L414.5,339.6 L414.7,339.0 L415.0,338.5 L415.2,338.0 L415.5,337.4 L415.7,336.9 L416.0,336.3 L416.2,335.8 L416.5,335.3 L416.7,334.7 L417.0,334.2 L417.2,333.7 L417.5,333.1 L417.8,332.6 L418.0,332.1 L418.3,331.5 L418.5,331.0 L418.8,330.5 L419.1,329.9 L419.3,329.4 L419.6,328.9 L419.9,328.3 L420.1,327.8 L420.4,327.3 L420.7,326.8 L421.0,326.2 L421.3,325.7 L421.5,325.2 L421.8,324.7 L422.1,324.1 L422.4,323.6 L422.7,323.1 L423.0,322.6 L423.3,322.0 L423.6,321.5 L423.9,321.0 L424.2,320.5 L424.5,320.0 L424.8,319.4 L425.2,318.9 L425.5,318.4 L425.8,317.9 L426.1,317.4 L426.5,316.9 L426.8,316.4 L427.2,315.8 L427.5,315.3 L427.9,314.8 L428.2,314.3 L428.6,313.8 L428.9,313.3 L429.3,312.8 L429.7,312.3 L430.1,311.8 L430.5,311.3 L430.9,310.9 L431.3,310.4 L431.7,310.0 L432.2,309.6 L432.6,309.2 L433.1,308.8 L433.6,308.4 L434.1,308.1 L434.6,307.8 L435.1,307.5 L435.6,307.2 L436.2,307.0 L436.7,306.8 L437.3,306.7 L437.8,306.5 L438.4,306.5 L438.9,306.4 L439.5,306.4 L440.1,306.5 L440.6,306.6 L441.2,306.7 L441.7,306.9 L442.3,307.2 L442.8,307.4 L443.3,307.7 L443.8,308.0 L444.3,308.4 L444.8,308.7 L445.3,309.1 L445.8,309.5 L446.2,310.0 L446.7,310.4 L447.1,310.8 L447.5,311.3 L447.9,311.8 L448.2,312.2 L448.6,312.7 L449.0,313.2 L449.3,313.7 L449.6,314.2 L450.0,314.7 L450.3,315.3 L450.6,315.8 L450.9,316.3 L451.1,316.9 L451.4,317.4 L451.7,318.0 L452.0,318.5 L452.2,319.1 L452.5,319.6 L452.8,320.2 L453.0,320.7 L453.3,321.3 L453.5,321.8 L453.8,322.4 L454.0,322.9 L454.3,323.5 L454.5,324.1 L454.8,324.6 L455.0,325.2 L455.3,325.7 L455.5,326.3 L455.8,326.8 L456.0,327.4 L456.2,327.9 L456.5,328.5 L456.7,329.0 L456.9,329.6 L457.2,330.1 L457.4,330.7 L457.7,331.2 L457.9,331.8 L458.1,332.3 L458.3,332.9 L458.6,333.4 L458.8,334.0 L459.0,334.5 L459.3,335.1 L459.5,335.6 L459.7,336.2 L460.0,336.7 L460.2,337.3 L460.4,337.8 L460.6,338.4 L460.9,338.9 L461.1,339.5 L461.3,340.0 L461.5,340.6 L461.8,341.1 L462.0,341.7 L462.2,342.2 L462.4,342.8 L462.7,343.4 L462.9,343.9 L463.1,344.5 L463.4,345.0 L463.6,345.6 L463.8,346.1 L464.0,346.7 L464.3,347.2 L464.5,347.8 L464.7,348.3 L464.9,348.9 L465.1,349.4 L465.4,350.0 L465.6,350.6 L465.8,351.1 L466.0,351.7 L466.3,352.2 L466.5,352.8 L466.7,353.3 L466.9,353.9 L467.2,354.4 L467.4,355.0 L467.6,355.6 L467.8,356.1 L468.1,356.7 L468.3,357.2 L468.5,357.8 L468.7,358.3 L469.0,358.9 L469.2,359.4 L469.4,360.0 L469.6,360.6 L469.9,361.1 L470.1,361.7 L470.3,362.2 L470.5,362.8 L470.8,363.3 L471.0,363.9 L471.2,364.4 L471.4,365.0 L471.7,365.6 L471.9,366.1 L472.1,366.7 L472.3,367.2 L472.6,367.8 L472.8,368.3 L473.0,368.9 L473.2,369.5 L473.5,370.0 L473.7,370.6 L473.9,371.1 L474.1,371.7 L474.4,372.2 L474.6,372.8 L474.8,373.3 L475.0,373.9 L475.3,374.5 L475.5,375.0 L475.7,375.6 L476.0,376.1 L476.2,376.7 L476.4,377.2 L476.6,377.8 L476.9,378.3 L477.1,378.9 L477.3,379.5 L477.6,380.0 L477.8,380.6 L478.0,381.1 L478.2,381.7 L478.5,382.2 L478.7,382.8 L478.9,383.3 L479.2,383.9 L479.4,384.4 L479.6,385.0 L479.9,385.5 L480.1,386.1 L480.3,386.7 L480.6,387.2 L480.8,387.8 L481.0,388.3 L481.3,388.9 L481.5,389.4 L481.7,390.0 L482.0,390.5 L482.2,391.1 L482.4,391.6 L482.7,392.2 L482.9,392.7 L483.2,393.3 L483.4,393.8 L483.6,394.4 L483.9,394.9 L484.1,395.5 L484.3,396.0 L484.6,396.6 L484.8,397.1 L485.1,397.7 L485.3,398.2 L485.5,398.8 L485.8,399.3 L486.0,399.9 L486.3,400.4 L486.5,401.0 L486.8,401.5 L487.0,402.1 L487.2,402.6 L487.5,403.2 L487.7,403.7 L488.0,404.2 L488.2,404.8 L488.5,405.3 L488.7,405.9 L489.0,406.4 L489.2,407.0 L489.5,407.5 L489.7,408.1 L490.0,408.6 L490.2,409.1 L490.5,409.7 L490.7,410.2 L491.0,410.8 L491.3,411.3 L491.5,411.8 L491.8,412.4 L492.0,412.9 L492.3,413.5 L492.6,414.0 L492.8,414.5 L493.1,415.1 L493.4,415.6 L493.6,416.1 L493.9,416.7 L494.2,417.2 L494.5,417.7 L494.7,418.3 L495.0,418.8 L495.3,419.3 L495.6,419.8 L495.8,420.4 L496.1,420.9 L496.4,421.4 L496.7,421.9 L497.0,422.5 L497.3,423.0 L497.6,423.5 L497.8,424.0 L498.1,424.6 L498.4,425.1 L498.7,425.6 L499.0,426.1 L499.3,426.6 L499.6,427.1 L499.9,427.7 L500.3,428.2 L500.6,428.7 L500.9,429.2 L501.2,429.7 L501.5,430.2 L501.8,430.7 L502.1,431.2 L502.5,431.7 L502.8,432.2 L503.1,432.7 L503.4,433.2 L503.8,433.7 L504.1,434.2 L504.5,434.7 L504.8,435.2 L505.1,435.7 L505.5,436.2 L505.8,436.7 L506.2,437.2 L506.5,437.7 L506.9,438.2 L507.2,438.7 L507.6,439.1 L508.0,439.6 L508.3,440.1 L508.7,440.6 L509.1,441.1" fill="none" stroke="#f43c3c" stroke-width="1.40" stroke-linejoin="round" stroke-linecap="round"/>
<rect x="338.50" y="297.20" width="193.50" height="194.20" fill="none" stroke="#2e2e2e" stroke-width="1.25"/>
<line x1="336.40" y1="491.40" x2="338.50" y2="491.40" stroke="#2e2e2e" stroke-width="1.2"/>
<text x="330.50" y="495.10" class="tk" text-anchor="end">0.0</text>
<line x1="336.40" y1="454.36" x2="338.50" y2="454.36" stroke="#2e2e2e" stroke-width="1.2"/>
<text x="330.50" y="458.06" class="tk" text-anchor="end">0.2</text>
<line x1="336.40" y1="417.32" x2="338.50" y2="417.32" stroke="#2e2e2e" stroke-width="1.2"/>
<text x="330.50" y="421.02" class="tk" text-anchor="end">0.4</text>
<line x1="336.40" y1="380.28" x2="338.50" y2="380.28" stroke="#2e2e2e" stroke-width="1.2"/>
<text x="330.50" y="383.98" class="tk" text-anchor="end">0.6</text>
<line x1="336.40" y1="343.24" x2="338.50" y2="343.24" stroke="#2e2e2e" stroke-width="1.2"/>
<text x="330.50" y="346.94" class="tk" text-anchor="end">0.8</text>
<line x1="336.40" y1="306.20" x2="338.50" y2="306.20" stroke="#2e2e2e" stroke-width="1.2"/>
<text x="330.50" y="309.90" class="tk" text-anchor="end">1.0</text>
<line x1="338.50" y1="491.40" x2="338.50" y2="493.50" stroke="#2e2e2e" stroke-width="1.2"/>
<text x="338.50" y="508.70" class="tk" text-anchor="middle">350</text>
<line x1="377.20" y1="491.40" x2="377.20" y2="493.50" stroke="#2e2e2e" stroke-width="1.2"/>
<text x="377.20" y="508.70" class="tk" text-anchor="middle">400</text>
<line x1="415.90" y1="491.40" x2="415.90" y2="493.50" stroke="#2e2e2e" stroke-width="1.2"/>
<text x="415.90" y="508.70" class="tk" text-anchor="middle">450</text>
<line x1="454.60" y1="491.40" x2="454.60" y2="493.50" stroke="#2e2e2e" stroke-width="1.2"/>
<text x="454.60" y="508.70" class="tk" text-anchor="middle">500</text>
<line x1="493.30" y1="491.40" x2="493.30" y2="493.50" stroke="#2e2e2e" stroke-width="1.2"/>
<text x="493.30" y="508.70" class="tk" text-anchor="middle">550</text>
<line x1="532.00" y1="491.40" x2="532.00" y2="493.50" stroke="#2e2e2e" stroke-width="1.2"/>
<text x="532.00" y="508.70" class="tk" text-anchor="middle">600</text>
<text x="435.25" y="531.10" class="ax" text-anchor="middle">Wavelength, nm</text>
<text x="0" y="0" class="ax" text-anchor="middle" transform="translate(306.90,394.30) rotate(-90)">Fluorescence, RLU</text>
<text x="288.00" y="296.00" class="lt">D</text>
<line x1="464.60" y1="303.40" x2="482.00" y2="303.40" stroke="#262626" stroke-width="1.40"/>
<text x="485.90" y="306.05" class="lg">AV_WT</text>
<line x1="464.60" y1="312.87" x2="482.00" y2="312.87" stroke="#1ee6f0" stroke-width="1.60"/>
<text x="485.90" y="315.52" class="lg">AV_41A</text>
<line x1="464.60" y1="322.34" x2="482.00" y2="322.34" stroke="#1ee01e" stroke-width="1.40"/>
<text x="485.90" y="324.99" class="lg">AV_58Q</text>
<line x1="464.60" y1="331.81" x2="482.00" y2="331.81" stroke="#3434e6" stroke-width="1.40"/>
<text x="485.90" y="334.46" class="lg">AV_58F132F</text>
<line x1="464.60" y1="341.28" x2="482.00" y2="341.28" stroke="#f43c3c" stroke-width="1.30"/>
<text x="485.90" y="343.93" class="lg">AV_58Q132F</text>
</svg>
</body></html>
